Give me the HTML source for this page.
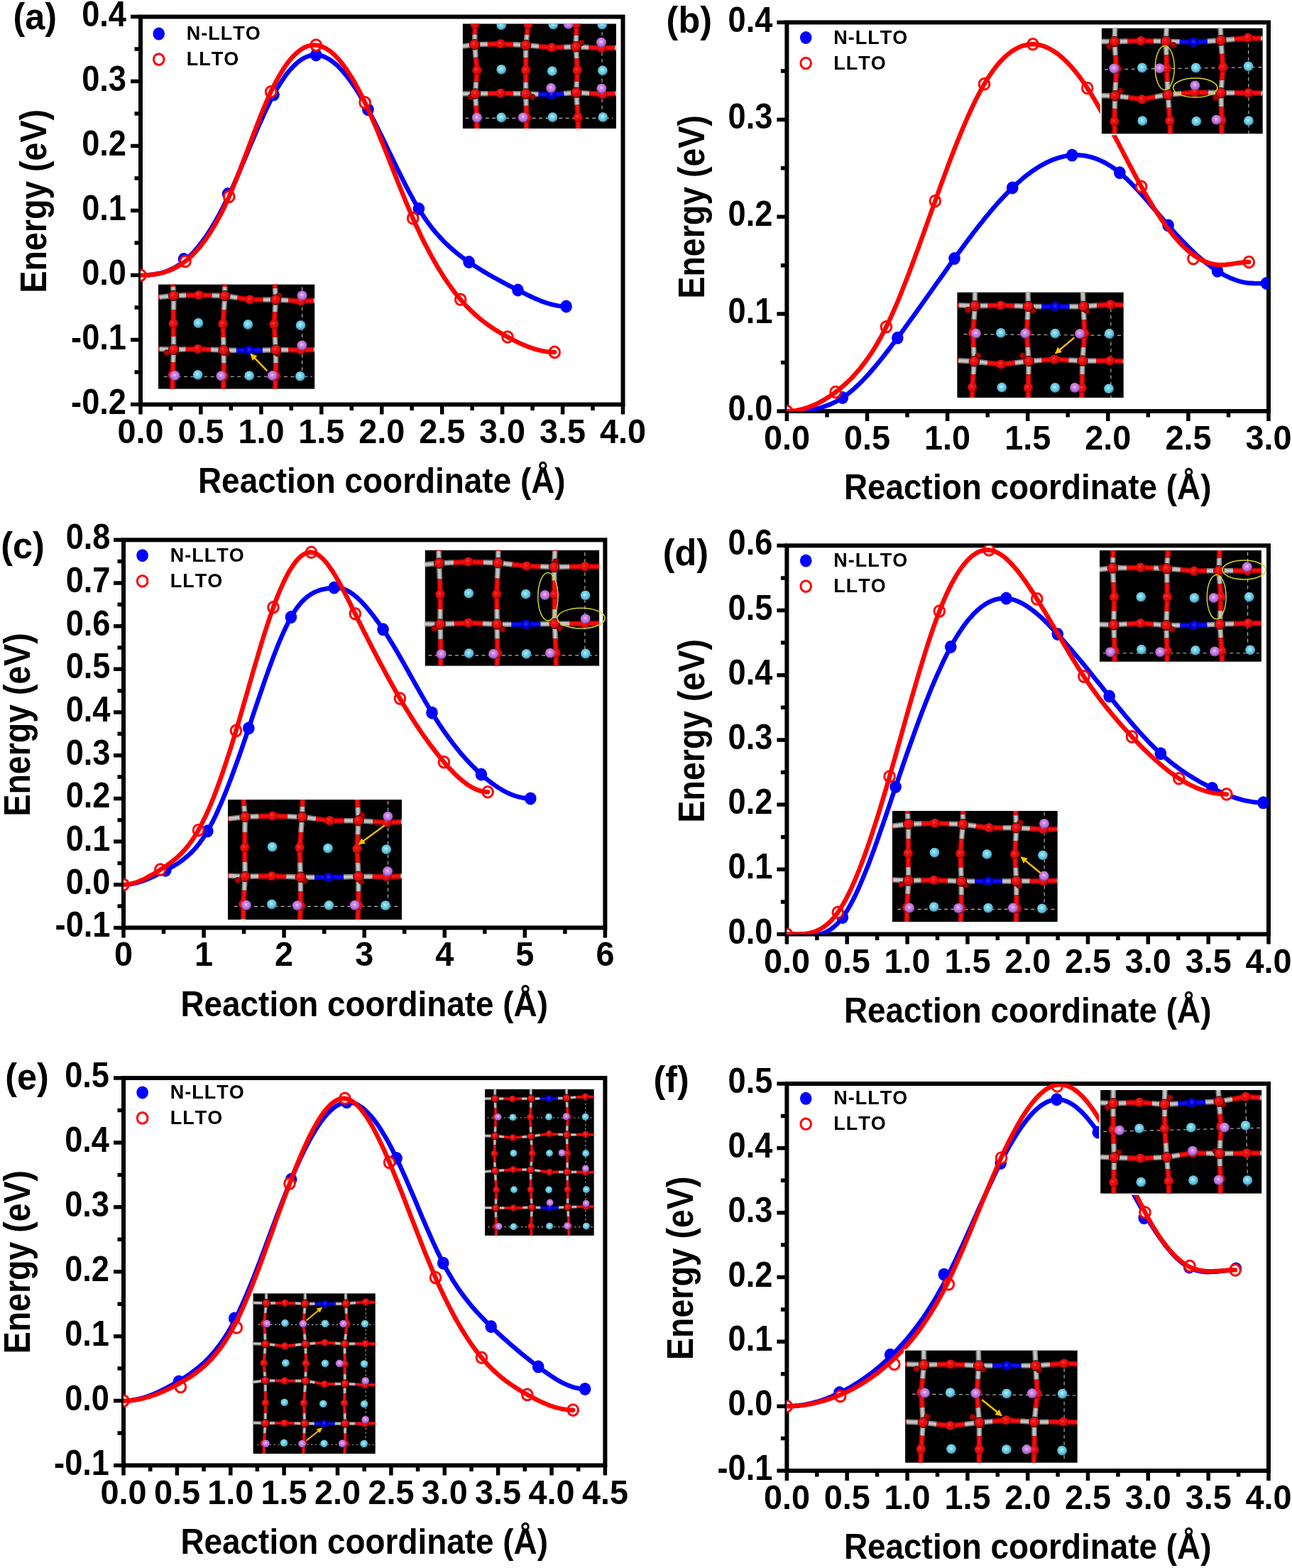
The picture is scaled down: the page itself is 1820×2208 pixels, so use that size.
<!DOCTYPE html><html><head><meta charset="utf-8"><title>Energy profiles</title><style>html,body{margin:0;padding:0;background:#fff}svg{display:block;font-family:"Liberation Sans",sans-serif;font-weight:bold}</style></head><body>
<svg width="1820" height="2208" viewBox="0 0 1820 2208" font-family="&quot;Liberation Sans&quot;, sans-serif" font-weight="bold">
<rect width="1820" height="2208" fill="#fff"/>
<defs>
<radialGradient id="gO" cx="0.42" cy="0.4" r="0.62"><stop offset="0" stop-color="#ff4a4a"/><stop offset="0.25" stop-color="#f01414"/><stop offset="0.75" stop-color="#d80808"/><stop offset="1" stop-color="#8a0000"/></radialGradient>
<radialGradient id="gX" cx="0.45" cy="0.45" r="0.6"><stop offset="0" stop-color="#c80000"/><stop offset="1" stop-color="#700000"/></radialGradient>
<radialGradient id="gLa" cx="0.45" cy="0.42" r="0.62"><stop offset="0" stop-color="#e8ffff"/><stop offset="0.18" stop-color="#8edff2"/><stop offset="0.7" stop-color="#58bcd8"/><stop offset="1" stop-color="#256a80"/></radialGradient>
<radialGradient id="gLi" cx="0.48" cy="0.42" r="0.62"><stop offset="0" stop-color="#ffe8ff"/><stop offset="0.18" stop-color="#d898ee"/><stop offset="0.7" stop-color="#b068d4"/><stop offset="1" stop-color="#5a2a78"/></radialGradient>
<radialGradient id="gN" cx="0.5" cy="0.45" r="0.6"><stop offset="0" stop-color="#3c3cff"/><stop offset="0.3" stop-color="#0808ee"/><stop offset="1" stop-color="#000090"/></radialGradient>
<filter id="bl" x="-5%" y="-5%" width="110%" height="110%"><feGaussianBlur stdDeviation="0.55"/></filter>
<marker id="ah" viewBox="0 0 10 10" refX="8.5" refY="5" markerWidth="4.2" markerHeight="3.9" orient="auto"><path d="M0,0 L10,5 L0,10 z" fill="#ffc400"/></marker>
</defs>
<g>
<text transform="translate(198.0,623.6) scale(1,1.03)" text-anchor="middle" font-size="46.8" >0.0</text>
<text transform="translate(282.9,623.6) scale(1,1.03)" text-anchor="middle" font-size="46.8" >0.5</text>
<text transform="translate(367.9,623.6) scale(1,1.03)" text-anchor="middle" font-size="46.8" >1.0</text>
<text transform="translate(452.8,623.6) scale(1,1.03)" text-anchor="middle" font-size="46.8" >1.5</text>
<text transform="translate(537.8,623.6) scale(1,1.03)" text-anchor="middle" font-size="46.8" >2.0</text>
<text transform="translate(622.7,623.6) scale(1,1.03)" text-anchor="middle" font-size="46.8" >2.5</text>
<text transform="translate(707.6,623.6) scale(1,1.03)" text-anchor="middle" font-size="46.8" >3.0</text>
<text transform="translate(792.6,623.6) scale(1,1.03)" text-anchor="middle" font-size="46.8" >3.5</text>
<text transform="translate(877.5,623.6) scale(1,1.03)" text-anchor="middle" font-size="46.8" >4.0</text>
<text transform="translate(178.0,582.6) scale(1,1.085)" text-anchor="end" font-size="45.2" >-0.2</text>
<text transform="translate(178.0,491.6) scale(1,1.085)" text-anchor="end" font-size="45.2" >-0.1</text>
<text transform="translate(178.0,400.6) scale(1,1.085)" text-anchor="end" font-size="45.2" >0.0</text>
<text transform="translate(178.0,309.6) scale(1,1.085)" text-anchor="end" font-size="45.2" >0.1</text>
<text transform="translate(178.0,218.6) scale(1,1.085)" text-anchor="end" font-size="45.2" >0.2</text>
<text transform="translate(178.0,127.6) scale(1,1.085)" text-anchor="end" font-size="45.2" >0.3</text>
<text transform="translate(178.0,36.6) scale(1,1.085)" text-anchor="end" font-size="45.2" >0.4</text>
<path d="M198.0,569.6 V583.6 M240.5,569.6 V578.1 M282.9,569.6 V583.6 M325.4,569.6 V578.1 M367.9,569.6 V583.6 M410.3,569.6 V578.1 M452.8,569.6 V583.6 M495.3,569.6 V578.1 M537.8,569.6 V583.6 M580.2,569.6 V578.1 M622.7,569.6 V583.6 M665.2,569.6 V578.1 M707.6,569.6 V583.6 M750.1,569.6 V578.1 M792.6,569.6 V583.6 M835.0,569.6 V578.1 M877.5,569.6 V583.6 M198.0,569.6 H184.0 M198.0,524.1 H189.5 M198.0,478.6 H184.0 M198.0,433.1 H189.5 M198.0,387.6 H184.0 M198.0,342.1 H189.5 M198.0,296.6 H184.0 M198.0,251.1 H189.5 M198.0,205.6 H184.0 M198.0,160.1 H189.5 M198.0,114.6 H184.0 M198.0,69.1 H189.5 M198.0,23.6 H184.0" stroke="#000" stroke-width="5.5" fill="none"/>
<rect x="198.0" y="23.6" width="679.5" height="546.0" fill="none" stroke="#000" stroke-width="6"/>
<text transform="translate(537.8,693.8) scale(1,1.08)" text-anchor="middle" font-size="45.9" >Reaction coordinate (Å)</text>
<text transform="translate(64.6,283.3) rotate(-90) scale(1,1.11)" text-anchor="middle" font-size="46.5" >Energy (eV)</text>
<text transform="translate(18.5,41.1) scale(1,1.045)" text-anchor="start" font-size="50.4" >(a)</text>
<ellipse cx="223.7" cy="47.6" rx="8.3" ry="9" fill="#0000ff"/>
<ellipse cx="223.7" cy="83.6" rx="7.3" ry="7.8" fill="#fff" stroke="#ff0000" stroke-width="3"/>
<text transform="translate(262.8,56.1) scale(1,1.05)" text-anchor="start" font-size="27" letter-spacing="1" style="font-kerning:none">N-LLTO</text>
<text transform="translate(262.8,92.1) scale(1,1.05)" text-anchor="start" font-size="27" letter-spacing="1" style="font-kerning:none">LLTO</text>
<clipPath id="cpa"><rect x="198.0" y="23.6" width="679.5" height="546.0"/></clipPath>
<g clip-path="url(#cpa)">
<ellipse cx="198.0" cy="387.6" rx="8.3" ry="9" fill="#0000ff"/>
<ellipse cx="259.0" cy="365.0" rx="8.3" ry="9" fill="#0000ff"/>
<ellipse cx="321.0" cy="273.0" rx="8.3" ry="9" fill="#0000ff"/>
<ellipse cx="385.5" cy="133.3" rx="8.3" ry="9" fill="#0000ff"/>
<ellipse cx="445.2" cy="77.4" rx="8.3" ry="9" fill="#0000ff"/>
<ellipse cx="518.4" cy="154.2" rx="8.3" ry="9" fill="#0000ff"/>
<ellipse cx="589.9" cy="294.1" rx="8.3" ry="9" fill="#0000ff"/>
<ellipse cx="660.6" cy="369.0" rx="8.3" ry="9" fill="#0000ff"/>
<ellipse cx="729.5" cy="408.5" rx="8.3" ry="9" fill="#0000ff"/>
<ellipse cx="797.6" cy="431.5" rx="8.3" ry="9" fill="#0000ff"/>
<path d="M198.0,387.6 L201.8,387.6 L205.5,387.4 L209.3,387.2 L213.1,386.8 L216.9,386.4 L220.6,385.7 L224.4,385.0 L228.2,384.0 L231.9,382.9 L235.7,381.5 L239.5,380.0 L243.3,378.2 L247.0,376.2 L250.8,373.9 L254.6,371.4 L258.3,368.5 L259.0,368.0 L262.1,365.4 L265.9,362.0 L269.7,358.3 L273.4,354.3 L277.2,349.9 L281.0,345.3 L284.7,340.4 L288.5,335.2 L292.3,329.7 L296.0,323.9 L299.8,317.8 L303.6,311.4 L307.4,304.7 L311.1,297.7 L314.9,290.4 L318.7,282.8 L321.0,278.0 L322.4,274.9 L326.2,266.8 L330.0,258.4 L333.8,249.7 L337.5,241.0 L341.3,232.1 L345.1,223.1 L348.8,214.1 L352.6,205.1 L356.4,196.2 L360.2,187.3 L363.9,178.6 L367.7,170.1 L371.5,161.7 L375.2,153.7 L379.0,145.9 L382.8,138.4 L385.5,133.3 L386.6,131.4 L390.3,124.7 L394.1,118.5 L397.9,112.7 L401.6,107.3 L405.4,102.3 L409.2,97.8 L413.0,93.7 L416.7,90.1 L420.5,86.9 L424.3,84.1 L428.0,81.9 L431.8,80.0 L435.6,78.7 L439.3,77.8 L443.1,77.4 L445.2,77.4 L446.9,77.5 L450.7,78.1 L454.4,79.1 L458.2,80.6 L462.0,82.5 L465.7,84.8 L469.5,87.6 L473.3,90.7 L477.1,94.2 L480.8,98.1 L484.6,102.4 L488.4,107.0 L492.1,111.9 L495.9,117.1 L499.7,122.7 L503.5,128.5 L507.2,134.6 L511.0,141.0 L514.8,147.6 L518.4,154.2 L518.5,154.5 L522.3,161.5 L526.1,168.8 L529.9,176.2 L533.6,183.8 L537.4,191.4 L541.2,199.2 L544.9,207.0 L548.7,214.8 L552.5,222.6 L556.3,230.4 L560.0,238.2 L563.8,245.8 L567.6,253.3 L571.3,260.7 L575.1,268.0 L578.9,275.0 L582.6,281.8 L586.4,288.3 L589.9,294.1 L590.2,294.6 L594.0,300.5 L597.7,306.2 L601.5,311.6 L605.3,316.7 L609.0,321.6 L612.8,326.2 L616.6,330.6 L620.4,334.7 L624.1,338.7 L627.9,342.5 L631.7,346.1 L635.4,349.5 L639.2,352.8 L643.0,355.9 L646.8,358.9 L650.5,361.8 L654.3,364.6 L658.1,367.2 L660.6,369.0 L661.8,369.9 L665.6,372.4 L669.4,374.9 L673.2,377.3 L676.9,379.6 L680.7,381.9 L684.5,384.2 L688.2,386.4 L692.0,388.6 L695.8,390.7 L699.6,392.8 L703.3,394.8 L707.1,396.9 L710.9,398.9 L714.6,400.8 L718.4,402.8 L722.2,404.7 L725.9,406.7 L729.5,408.5 L729.7,408.6 L733.5,410.5 L737.3,412.4 L741.0,414.3 L744.8,416.2 L748.6,418.0 L752.3,419.7 L756.1,421.3 L759.9,422.9 L763.7,424.4 L767.4,425.8 L771.2,427.0 L775.0,428.1 L778.7,429.1 L782.5,429.9 L786.3,430.6 L790.1,431.1 L793.8,431.4 L797.6,431.5" stroke="#0000ff" stroke-width="6.4" fill="none" stroke-linejoin="round" stroke-linecap="round"/>
<ellipse cx="198.0" cy="387.6" rx="7.3" ry="7.8" fill="#fff" stroke="#ff0000" stroke-width="3"/>
<ellipse cx="261.0" cy="368.0" rx="7.3" ry="7.8" fill="#fff" stroke="#ff0000" stroke-width="3"/>
<ellipse cx="322.7" cy="276.9" rx="7.3" ry="7.8" fill="#fff" stroke="#ff0000" stroke-width="3"/>
<ellipse cx="381.6" cy="129.3" rx="7.3" ry="7.8" fill="#fff" stroke="#ff0000" stroke-width="3"/>
<ellipse cx="445.2" cy="63.6" rx="7.3" ry="7.8" fill="#fff" stroke="#ff0000" stroke-width="3"/>
<ellipse cx="514.1" cy="144.4" rx="7.3" ry="7.8" fill="#fff" stroke="#ff0000" stroke-width="3"/>
<ellipse cx="581.7" cy="307.4" rx="7.3" ry="7.8" fill="#fff" stroke="#ff0000" stroke-width="3"/>
<ellipse cx="648.7" cy="421.7" rx="7.3" ry="7.8" fill="#fff" stroke="#ff0000" stroke-width="3"/>
<ellipse cx="715.0" cy="474.5" rx="7.3" ry="7.8" fill="#fff" stroke="#ff0000" stroke-width="3"/>
<ellipse cx="781.2" cy="495.9" rx="7.3" ry="7.8" fill="#fff" stroke="#ff0000" stroke-width="3"/>
<path d="M198.0,387.6 L201.7,387.6 L205.3,387.5 L209.0,387.2 L212.7,386.9 L216.3,386.5 L220.0,386.0 L223.7,385.3 L227.3,384.5 L231.0,383.5 L234.7,382.3 L238.3,381.0 L242.0,379.5 L245.7,377.7 L249.4,375.8 L253.0,373.6 L256.7,371.2 L260.4,368.5 L261.0,368.0 L264.0,365.6 L267.7,362.4 L271.4,358.9 L275.0,355.1 L278.7,351.1 L282.4,346.7 L286.0,342.0 L289.7,337.0 L293.4,331.7 L297.0,326.1 L300.7,320.1 L304.4,313.8 L308.0,307.2 L311.7,300.2 L315.4,292.8 L319.0,285.0 L322.7,276.9 L322.7,276.9 L326.4,268.4 L330.0,259.5 L333.7,250.4 L337.4,241.0 L341.0,231.5 L344.7,221.8 L348.4,212.1 L352.1,202.3 L355.7,192.6 L359.4,182.9 L363.1,173.4 L366.7,164.1 L370.4,155.0 L374.1,146.2 L377.7,137.8 L381.4,129.7 L381.6,129.3 L385.1,122.1 L388.7,115.0 L392.4,108.3 L396.1,102.1 L399.7,96.3 L403.4,91.0 L407.1,86.1 L410.7,81.7 L414.4,77.8 L418.1,74.4 L421.7,71.4 L425.4,68.9 L429.1,66.8 L432.7,65.3 L436.4,64.2 L440.1,63.6 L443.8,63.5 L445.2,63.6 L447.4,63.9 L451.1,64.7 L454.8,66.0 L458.4,67.8 L462.1,70.1 L465.8,72.7 L469.4,75.8 L473.1,79.3 L476.8,83.3 L480.4,87.6 L484.1,92.3 L487.8,97.4 L491.4,102.9 L495.1,108.7 L498.8,114.9 L502.4,121.5 L506.1,128.3 L509.8,135.5 L513.4,143.0 L514.1,144.4 L517.1,150.8 L520.8,158.9 L524.4,167.2 L528.1,175.8 L531.8,184.5 L535.4,193.5 L539.1,202.5 L542.8,211.6 L546.5,220.9 L550.1,230.1 L553.8,239.4 L557.5,248.7 L561.1,257.9 L564.8,267.0 L568.5,276.1 L572.1,285.0 L575.8,293.7 L579.5,302.3 L581.7,307.4 L583.1,310.6 L586.8,318.7 L590.5,326.6 L594.1,334.3 L597.8,341.7 L601.5,348.8 L605.1,355.8 L608.8,362.5 L612.5,369.0 L616.1,375.3 L619.8,381.4 L623.5,387.2 L627.1,392.9 L630.8,398.3 L634.5,403.5 L638.2,408.5 L641.8,413.3 L645.5,417.9 L648.7,421.7 L649.2,422.2 L652.8,426.4 L656.5,430.4 L660.2,434.2 L663.8,437.8 L667.5,441.2 L671.2,444.5 L674.8,447.7 L678.5,450.7 L682.2,453.5 L685.8,456.3 L689.5,458.9 L693.2,461.4 L696.8,463.8 L700.5,466.1 L704.2,468.3 L707.8,470.5 L711.5,472.6 L715.0,474.5 L715.2,474.6 L718.8,476.6 L722.5,478.5 L726.2,480.3 L729.8,482.1 L733.5,483.8 L737.2,485.5 L740.9,487.0 L744.5,488.4 L748.2,489.8 L751.9,491.0 L755.5,492.1 L759.2,493.0 L762.9,493.9 L766.5,494.6 L770.2,495.2 L773.9,495.6 L777.5,495.8 L781.2,495.9" stroke="#ff0000" stroke-width="6.4" fill="none" stroke-linejoin="round" stroke-linecap="round"/>
</g>
<clipPath id="cia1"><rect x="651.9" y="33.5" width="216.1" height="147.5"/></clipPath>
<rect x="651.4" y="33.0" width="217.1" height="148.5" fill="#000" stroke="#fff" stroke-width="3"/>
<rect x="651.9" y="33.5" width="216.1" height="147.5" fill="#000"/>
<g clip-path="url(#cia1)"><g filter="url(#bl)">
<path d="M655.6,166.4 L863.6,166.4 M848.1,35.9 L848.1,166.4" stroke="#b8b8b8" stroke-width="1.15" stroke-dasharray="5 4.4" fill="none"/>
<path d="M668.6,62.7 L686.9,62.2 M740.7,63.5 L723.0,62.6 M740.7,63.5 L759.1,65.3 M811.3,65.8 L794.4,66.4 M811.3,65.8 L829.5,66.8 M883.5,67.1 L865.6,67.4 M669.5,132.0 L687.4,131.7 M740.7,132.0 L723.0,131.7 M811.7,130.3 L830.3,131.5 M883.5,130.7 L866.3,131.7 M668.6,62.7 L670.2,80.8 M669.5,132.0 L670.7,115.4 M740.7,63.5 L740.7,81.2 M740.7,132.0 L740.7,115.4 M811.3,65.8 L812.3,82.3 M811.7,130.3 L812.5,114.6 M668.6,62.7 L668.9,48.3 M740.7,63.5 L742.4,48.7 M811.3,65.8 L811.7,49.5 M669.5,132.0 L670.6,148.9 M672.2,200.2 L671.9,183.0 M740.7,132.0 L741.2,148.9 M740.7,200.2 L741.2,183.0 M811.7,130.3 L813.0,147.7 M814.3,200.2 L814.3,182.7 M740.7,132.0 L758.7,132.7 M811.7,130.3 L794.2,131.8 M668.6,62.7 L650.8,65.2 M669.5,132.0 L651.3,132.0" stroke="#7c7c7c" stroke-width="7.60" fill="none"/>
<path d="M668.6,62.7 L686.9,62.2 M740.7,63.5 L723.0,62.6 M740.7,63.5 L759.1,65.3 M811.3,65.8 L794.4,66.4 M811.3,65.8 L829.5,66.8 M883.5,67.1 L865.6,67.4 M669.5,132.0 L687.4,131.7 M740.7,132.0 L723.0,131.7 M811.7,130.3 L830.3,131.5 M883.5,130.7 L866.3,131.7 M668.6,62.7 L670.2,80.8 M669.5,132.0 L670.7,115.4 M740.7,63.5 L740.7,81.2 M740.7,132.0 L740.7,115.4 M811.3,65.8 L812.3,82.3 M811.7,130.3 L812.5,114.6 M668.6,62.7 L668.9,48.3 M740.7,63.5 L742.4,48.7 M811.3,65.8 L811.7,49.5 M669.5,132.0 L670.6,148.9 M672.2,200.2 L671.9,183.0 M740.7,132.0 L741.2,148.9 M740.7,200.2 L741.2,183.0 M811.7,130.3 L813.0,147.7 M814.3,200.2 L814.3,182.7 M740.7,132.0 L758.7,132.7 M811.7,130.3 L794.2,131.8 M668.6,62.7 L650.8,65.2 M669.5,132.0 L651.3,132.0" stroke="#c4c4c4" stroke-width="4.18" fill="none"/>
<path d="M686.9,62.2 L705.3,61.8 M723.0,62.6 L705.3,61.8 M759.1,65.3 L777.5,67.1 M794.4,66.4 L777.5,67.1 M829.5,66.8 L847.7,67.7 M865.6,67.4 L847.7,67.7 M687.4,131.7 L705.3,131.3 M723.0,131.7 L705.3,131.3 M830.3,131.5 L849.0,132.7 M866.3,131.7 L849.0,132.7 M670.2,80.8 L671.9,98.9 M670.7,115.4 L671.9,98.9 M740.7,81.2 L740.7,98.9 M740.7,115.4 L740.7,98.9 M812.3,82.3 L813.3,98.9 M812.5,114.6 L813.3,98.9 M668.9,48.3 L669.2,34.0 M742.4,48.7 L744.1,34.0 M811.7,49.5 L812.2,33.3 M670.6,148.9 L671.6,165.8 M671.9,183.0 L671.6,165.8 M741.2,148.9 L741.7,165.8 M741.2,183.0 L741.7,165.8 M813.0,147.7 L814.3,165.1 M814.3,182.7 L814.3,165.1 M650.8,65.2 L633.1,67.7 M651.3,132.0 L633.1,132.0" stroke="#b80000" stroke-width="7.60" fill="none"/>
<path d="M686.9,62.2 L705.3,61.8 M723.0,62.6 L705.3,61.8 M759.1,65.3 L777.5,67.1 M794.4,66.4 L777.5,67.1 M829.5,66.8 L847.7,67.7 M865.6,67.4 L847.7,67.7 M687.4,131.7 L705.3,131.3 M723.0,131.7 L705.3,131.3 M830.3,131.5 L849.0,132.7 M866.3,131.7 L849.0,132.7 M670.2,80.8 L671.9,98.9 M670.7,115.4 L671.9,98.9 M740.7,81.2 L740.7,98.9 M740.7,115.4 L740.7,98.9 M812.3,82.3 L813.3,98.9 M812.5,114.6 L813.3,98.9 M668.9,48.3 L669.2,34.0 M742.4,48.7 L744.1,34.0 M811.7,49.5 L812.2,33.3 M670.6,148.9 L671.6,165.8 M671.9,183.0 L671.6,165.8 M741.2,148.9 L741.7,165.8 M741.2,183.0 L741.7,165.8 M813.0,147.7 L814.3,165.1 M814.3,182.7 L814.3,165.1 M650.8,65.2 L633.1,67.7 M651.3,132.0 L633.1,132.0" stroke="#f80c0c" stroke-width="4.18" fill="none"/>
<path d="M758.7,132.7 L776.8,133.3 M794.2,131.8 L776.8,133.3" stroke="#0000b4" stroke-width="7.60" fill="none"/>
<path d="M758.7,132.7 L776.8,133.3 M794.2,131.8 L776.8,133.3" stroke="#0c0cf8" stroke-width="4.18" fill="none"/>
<circle cx="818.6" cy="60.5" r="4.60" fill="url(#gX)"/>
<circle cx="663.5" cy="136.6" r="4.60" fill="url(#gX)"/>
<circle cx="749.7" cy="136.6" r="4.60" fill="url(#gX)"/>
<circle cx="705.3" cy="61.8" r="6.60" fill="url(#gO)"/>
<circle cx="777.5" cy="67.1" r="6.60" fill="url(#gO)"/>
<circle cx="847.7" cy="67.7" r="6.60" fill="url(#gO)"/>
<circle cx="705.3" cy="131.3" r="6.60" fill="url(#gO)"/>
<circle cx="849.0" cy="132.7" r="6.60" fill="url(#gO)"/>
<circle cx="671.9" cy="98.9" r="6.60" fill="url(#gO)"/>
<circle cx="740.7" cy="98.9" r="6.60" fill="url(#gO)"/>
<circle cx="813.3" cy="98.9" r="6.60" fill="url(#gO)"/>
<circle cx="669.2" cy="34.0" r="6.60" fill="url(#gO)"/>
<circle cx="744.1" cy="34.0" r="6.60" fill="url(#gO)"/>
<circle cx="812.2" cy="33.3" r="6.60" fill="url(#gO)"/>
<circle cx="671.6" cy="165.8" r="6.60" fill="url(#gO)"/>
<circle cx="741.7" cy="165.8" r="6.60" fill="url(#gO)"/>
<circle cx="814.3" cy="165.1" r="6.60" fill="url(#gO)"/>
<circle cx="668.6" cy="62.7" r="7.30" fill="url(#gO)" stroke="#200000" stroke-width="0.9"/>
<circle cx="740.7" cy="63.5" r="7.30" fill="url(#gO)" stroke="#200000" stroke-width="0.9"/>
<circle cx="811.3" cy="65.8" r="7.30" fill="url(#gO)" stroke="#200000" stroke-width="0.9"/>
<circle cx="669.5" cy="132.0" r="7.30" fill="url(#gO)" stroke="#200000" stroke-width="0.9"/>
<circle cx="740.7" cy="132.0" r="7.30" fill="url(#gO)" stroke="#200000" stroke-width="0.9"/>
<circle cx="811.7" cy="130.3" r="7.30" fill="url(#gO)" stroke="#200000" stroke-width="0.9"/>
<circle cx="776.8" cy="133.3" r="6.90" fill="url(#gN)"/>
<circle cx="706.3" cy="35.3" r="6.90" fill="url(#gLa)"/>
<circle cx="779.5" cy="34.6" r="6.90" fill="url(#gLa)"/>
<circle cx="848.4" cy="34.6" r="6.90" fill="url(#gLa)"/>
<circle cx="706.3" cy="97.8" r="6.90" fill="url(#gLa)"/>
<circle cx="777.9" cy="100.2" r="6.90" fill="url(#gLa)"/>
<circle cx="849.0" cy="99.3" r="6.90" fill="url(#gLa)"/>
<circle cx="706.3" cy="165.5" r="6.90" fill="url(#gLa)"/>
<circle cx="778.5" cy="165.1" r="6.90" fill="url(#gLa)"/>
<circle cx="849.4" cy="165.1" r="6.90" fill="url(#gLa)"/>
<circle cx="800.7" cy="34.0" r="7.00" fill="url(#gLi)"/>
<circle cx="847.0" cy="59.8" r="7.00" fill="url(#gLi)"/>
<circle cx="776.2" cy="124.1" r="7.00" fill="url(#gLi)"/>
<circle cx="847.4" cy="124.7" r="7.00" fill="url(#gLi)"/>
<circle cx="671.9" cy="165.8" r="7.00" fill="url(#gLi)"/>
<circle cx="736.8" cy="165.5" r="7.00" fill="url(#gLi)"/>
</g></g>
<clipPath id="cia2"><rect x="223.0" y="400.6" width="220.2" height="147.0"/></clipPath>
<rect x="222.5" y="400.1" width="221.2" height="148.0" fill="#000" stroke="#fff" stroke-width="3"/>
<rect x="223.0" y="400.6" width="220.2" height="147.0" fill="#000"/>
<g clip-path="url(#cia2)"><g filter="url(#bl)">
<path d="M230.8,530.5 L439.7,530.5 M425.6,404.4 L425.6,530.5" stroke="#b8b8b8" stroke-width="1.15" stroke-dasharray="5 4.4" fill="none"/>
<path d="M244.7,416.3 L262.4,415.9 M316.8,416.6 L298.4,416.0 M316.8,416.6 L334.5,419.3 M388.5,422.0 L370.3,422.0 M388.5,422.0 L406.4,423.0 M458.6,422.6 L441.4,423.3 M244.7,492.3 L261.7,491.8 M315.1,493.1 L296.9,492.3 M388.5,492.7 L406.4,492.7 M458.6,491.8 L441.4,492.3 M244.7,416.3 L244.5,436.0 M244.7,492.3 L244.5,474.0 M316.8,416.6 L315.5,436.2 M315.1,493.1 L314.6,474.5 M388.5,422.0 L387.3,439.3 M388.5,492.7 L387.3,474.7 M244.7,416.3 L243.8,403.6 M316.8,416.6 L316.6,403.8 M388.5,422.0 L387.5,405.8 M244.7,492.3 L243.9,510.0 M243.0,570.2 L243.0,549.0 M315.1,493.1 L315.2,511.5 M313.7,570.2 L314.5,550.0 M388.5,492.7 L388.5,510.9 M386.5,570.2 L387.4,549.7 M315.1,493.1 L332.9,493.3 M388.5,492.7 L369.7,493.1 M244.7,416.3 L224.3,418.5 M244.7,492.3 L224.3,491.5" stroke="#7c7c7c" stroke-width="7.60" fill="none"/>
<path d="M244.7,416.3 L262.4,415.9 M316.8,416.6 L298.4,416.0 M316.8,416.6 L334.5,419.3 M388.5,422.0 L370.3,422.0 M388.5,422.0 L406.4,423.0 M458.6,422.6 L441.4,423.3 M244.7,492.3 L261.7,491.8 M315.1,493.1 L296.9,492.3 M388.5,492.7 L406.4,492.7 M458.6,491.8 L441.4,492.3 M244.7,416.3 L244.5,436.0 M244.7,492.3 L244.5,474.0 M316.8,416.6 L315.5,436.2 M315.1,493.1 L314.6,474.5 M388.5,422.0 L387.3,439.3 M388.5,492.7 L387.3,474.7 M244.7,416.3 L243.8,403.6 M316.8,416.6 L316.6,403.8 M388.5,422.0 L387.5,405.8 M244.7,492.3 L243.9,510.0 M243.0,570.2 L243.0,549.0 M315.1,493.1 L315.2,511.5 M313.7,570.2 L314.5,550.0 M388.5,492.7 L388.5,510.9 M386.5,570.2 L387.4,549.7 M315.1,493.1 L332.9,493.3 M388.5,492.7 L369.7,493.1 M244.7,416.3 L224.3,418.5 M244.7,492.3 L224.3,491.5" stroke="#c4c4c4" stroke-width="4.18" fill="none"/>
<path d="M262.4,415.9 L280.0,415.5 M298.4,416.0 L280.0,415.5 M334.5,419.3 L352.1,422.0 M370.3,422.0 L352.1,422.0 M406.4,423.0 L424.2,424.0 M441.4,423.3 L424.2,424.0 M261.7,491.8 L278.7,491.4 M296.9,492.3 L278.7,491.4 M406.4,492.7 L424.2,492.7 M441.4,492.3 L424.2,492.7 M244.5,436.0 L244.3,455.7 M244.5,474.0 L244.3,455.7 M315.5,436.2 L314.1,455.9 M314.6,474.5 L314.1,455.9 M387.3,439.3 L386.1,456.7 M387.3,474.7 L386.1,456.7 M243.8,403.6 L243.0,391.0 M316.6,403.8 L316.4,391.0 M387.5,405.8 L386.5,389.6 M243.9,510.0 L243.1,527.8 M243.0,549.0 L243.1,527.8 M315.2,511.5 L315.2,529.8 M314.5,550.0 L315.2,529.8 M388.5,510.9 L388.4,529.1 M387.4,549.7 L388.4,529.1 M224.3,418.5 L203.9,420.6 M224.3,491.5 L203.9,490.7" stroke="#b80000" stroke-width="7.60" fill="none"/>
<path d="M262.4,415.9 L280.0,415.5 M298.4,416.0 L280.0,415.5 M334.5,419.3 L352.1,422.0 M370.3,422.0 L352.1,422.0 M406.4,423.0 L424.2,424.0 M441.4,423.3 L424.2,424.0 M261.7,491.8 L278.7,491.4 M296.9,492.3 L278.7,491.4 M406.4,492.7 L424.2,492.7 M441.4,492.3 L424.2,492.7 M244.5,436.0 L244.3,455.7 M244.5,474.0 L244.3,455.7 M315.5,436.2 L314.1,455.9 M314.6,474.5 L314.1,455.9 M387.3,439.3 L386.1,456.7 M387.3,474.7 L386.1,456.7 M243.8,403.6 L243.0,391.0 M316.6,403.8 L316.4,391.0 M387.5,405.8 L386.5,389.6 M243.9,510.0 L243.1,527.8 M243.0,549.0 L243.1,527.8 M315.2,511.5 L315.2,529.8 M314.5,550.0 L315.2,529.8 M388.5,510.9 L388.4,529.1 M387.4,549.7 L388.4,529.1 M224.3,418.5 L203.9,420.6 M224.3,491.5 L203.9,490.7" stroke="#f80c0c" stroke-width="4.18" fill="none"/>
<path d="M332.9,493.3 L350.8,493.4 M369.7,493.1 L350.8,493.4" stroke="#0000b4" stroke-width="7.60" fill="none"/>
<path d="M332.9,493.3 L350.8,493.4 M369.7,493.1 L350.8,493.4" stroke="#0c0cf8" stroke-width="4.18" fill="none"/>
<circle cx="393.2" cy="416.6" r="4.60" fill="url(#gX)"/>
<circle cx="234.9" cy="496.8" r="4.60" fill="url(#gX)"/>
<circle cx="319.8" cy="497.4" r="4.60" fill="url(#gX)"/>
<circle cx="391.2" cy="498.1" r="4.60" fill="url(#gX)"/>
<circle cx="280.0" cy="415.5" r="6.60" fill="url(#gO)"/>
<circle cx="352.1" cy="422.0" r="6.60" fill="url(#gO)"/>
<circle cx="424.2" cy="424.0" r="6.60" fill="url(#gO)"/>
<circle cx="278.7" cy="491.4" r="6.60" fill="url(#gO)"/>
<circle cx="424.2" cy="492.7" r="6.60" fill="url(#gO)"/>
<circle cx="244.3" cy="455.7" r="6.60" fill="url(#gO)"/>
<circle cx="314.1" cy="455.9" r="6.60" fill="url(#gO)"/>
<circle cx="386.1" cy="456.7" r="6.60" fill="url(#gO)"/>
<circle cx="243.0" cy="391.0" r="6.60" fill="url(#gO)"/>
<circle cx="316.4" cy="391.0" r="6.60" fill="url(#gO)"/>
<circle cx="386.5" cy="389.6" r="6.60" fill="url(#gO)"/>
<circle cx="243.1" cy="527.8" r="6.60" fill="url(#gO)"/>
<circle cx="315.2" cy="529.8" r="6.60" fill="url(#gO)"/>
<circle cx="388.4" cy="529.1" r="6.60" fill="url(#gO)"/>
<circle cx="244.7" cy="416.3" r="7.30" fill="url(#gO)" stroke="#200000" stroke-width="0.9"/>
<circle cx="316.8" cy="416.6" r="7.30" fill="url(#gO)" stroke="#200000" stroke-width="0.9"/>
<circle cx="388.5" cy="422.0" r="7.30" fill="url(#gO)" stroke="#200000" stroke-width="0.9"/>
<circle cx="244.7" cy="492.3" r="7.30" fill="url(#gO)" stroke="#200000" stroke-width="0.9"/>
<circle cx="315.1" cy="493.1" r="7.30" fill="url(#gO)" stroke="#200000" stroke-width="0.9"/>
<circle cx="388.5" cy="492.7" r="7.30" fill="url(#gO)" stroke="#200000" stroke-width="0.9"/>
<circle cx="350.8" cy="493.4" r="6.90" fill="url(#gN)"/>
<circle cx="279.4" cy="455.0" r="6.90" fill="url(#gLa)"/>
<circle cx="349.4" cy="457.0" r="6.90" fill="url(#gLa)"/>
<circle cx="423.6" cy="458.1" r="6.90" fill="url(#gLa)"/>
<circle cx="278.7" cy="527.8" r="6.90" fill="url(#gLa)"/>
<circle cx="351.2" cy="529.1" r="6.90" fill="url(#gLa)"/>
<circle cx="422.9" cy="529.8" r="6.90" fill="url(#gLa)"/>
<circle cx="425.6" cy="416.3" r="7.00" fill="url(#gLi)"/>
<circle cx="425.3" cy="486.4" r="7.00" fill="url(#gLi)"/>
<circle cx="246.3" cy="529.1" r="7.00" fill="url(#gLi)"/>
<circle cx="311.4" cy="529.4" r="7.00" fill="url(#gLi)"/>
<circle cx="383.8" cy="529.1" r="7.00" fill="url(#gLi)"/>
</g></g>
<path d="M376.4,522.4 L353.5,498.8" stroke="#ffc400" stroke-width="2.40" fill="none" marker-end="url(#ah)"/>
</g>
<g>
<text transform="translate(1108.4,633.0) scale(1,1.03)" text-anchor="middle" font-size="46.8" >0.0</text>
<text transform="translate(1221.5,633.0) scale(1,1.03)" text-anchor="middle" font-size="46.8" >0.5</text>
<text transform="translate(1334.6,633.0) scale(1,1.03)" text-anchor="middle" font-size="46.8" >1.0</text>
<text transform="translate(1447.7,633.0) scale(1,1.03)" text-anchor="middle" font-size="46.8" >1.5</text>
<text transform="translate(1560.8,633.0) scale(1,1.03)" text-anchor="middle" font-size="46.8" >2.0</text>
<text transform="translate(1673.9,633.0) scale(1,1.03)" text-anchor="middle" font-size="46.8" >2.5</text>
<text transform="translate(1787.0,633.0) scale(1,1.03)" text-anchor="middle" font-size="46.8" >3.0</text>
<text transform="translate(1088.4,592.0) scale(1,1.085)" text-anchor="end" font-size="45.2" >0.0</text>
<text transform="translate(1088.4,455.1) scale(1,1.085)" text-anchor="end" font-size="45.2" >0.1</text>
<text transform="translate(1088.4,318.2) scale(1,1.085)" text-anchor="end" font-size="45.2" >0.2</text>
<text transform="translate(1088.4,181.4) scale(1,1.085)" text-anchor="end" font-size="45.2" >0.3</text>
<text transform="translate(1088.4,44.5) scale(1,1.085)" text-anchor="end" font-size="45.2" >0.4</text>
<path d="M1108.4,579.0 V593.0 M1165.0,579.0 V587.5 M1221.5,579.0 V593.0 M1278.0,579.0 V587.5 M1334.6,579.0 V593.0 M1391.2,579.0 V587.5 M1447.7,579.0 V593.0 M1504.2,579.0 V587.5 M1560.8,579.0 V593.0 M1617.3,579.0 V587.5 M1673.9,579.0 V593.0 M1730.5,579.0 V587.5 M1787.0,579.0 V593.0 M1108.4,579.0 H1094.4 M1108.4,510.6 H1099.9 M1108.4,442.1 H1094.4 M1108.4,373.7 H1099.9 M1108.4,305.2 H1094.4 M1108.4,236.8 H1099.9 M1108.4,168.4 H1094.4 M1108.4,99.9 H1099.9 M1108.4,31.5 H1094.4" stroke="#000" stroke-width="5.5" fill="none"/>
<rect x="1108.4" y="31.5" width="678.6" height="547.5" fill="none" stroke="#000" stroke-width="6"/>
<text transform="translate(1447.7,703.2) scale(1,1.08)" text-anchor="middle" font-size="45.9" >Reaction coordinate (Å)</text>
<text transform="translate(991.5,291.4) rotate(-90) scale(1,1.11)" text-anchor="middle" font-size="46.5" >Energy (eV)</text>
<text transform="translate(938.6,46.4) scale(1,1.045)" text-anchor="start" font-size="50.4" >(b)</text>
<ellipse cx="1135.2" cy="53.0" rx="8.3" ry="9" fill="#0000ff"/>
<ellipse cx="1135.2" cy="89.0" rx="7.3" ry="7.8" fill="#fff" stroke="#ff0000" stroke-width="3"/>
<text transform="translate(1174.3,61.5) scale(1,1.05)" text-anchor="start" font-size="27" letter-spacing="1" style="font-kerning:none">N-LLTO</text>
<text transform="translate(1174.3,97.5) scale(1,1.05)" text-anchor="start" font-size="27" letter-spacing="1" style="font-kerning:none">LLTO</text>
<clipPath id="cpb"><rect x="1108.4" y="31.5" width="678.6" height="547.5"/></clipPath>
<g clip-path="url(#cpb)">
<ellipse cx="1108.4" cy="579.0" rx="8.3" ry="9" fill="#0000ff"/>
<ellipse cx="1186.9" cy="560.0" rx="8.3" ry="9" fill="#0000ff"/>
<ellipse cx="1264.3" cy="475.8" rx="8.3" ry="9" fill="#0000ff"/>
<ellipse cx="1344.5" cy="364.0" rx="8.3" ry="9" fill="#0000ff"/>
<ellipse cx="1426.2" cy="264.4" rx="8.3" ry="9" fill="#0000ff"/>
<ellipse cx="1510.2" cy="218.6" rx="8.3" ry="9" fill="#0000ff"/>
<ellipse cx="1577.3" cy="243.2" rx="8.3" ry="9" fill="#0000ff"/>
<ellipse cx="1645.6" cy="317.4" rx="8.3" ry="9" fill="#0000ff"/>
<ellipse cx="1715.0" cy="381.7" rx="8.3" ry="9" fill="#0000ff"/>
<ellipse cx="1784.0" cy="399.0" rx="8.3" ry="9" fill="#0000ff"/>
<path d="M1108.4,579.0 L1112.6,579.0 L1116.9,578.9 L1121.1,578.8 L1125.4,578.6 L1129.6,578.4 L1133.9,578.0 L1138.1,577.5 L1142.4,576.9 L1146.6,576.2 L1150.9,575.3 L1155.1,574.3 L1159.4,573.1 L1163.6,571.6 L1167.9,570.0 L1172.1,568.2 L1176.4,566.2 L1180.6,563.9 L1184.9,561.3 L1186.9,560.0 L1189.1,558.5 L1193.4,555.4 L1197.6,552.1 L1201.9,548.5 L1206.1,544.6 L1210.4,540.6 L1214.6,536.4 L1218.9,531.9 L1223.1,527.3 L1227.4,522.5 L1231.6,517.6 L1235.9,512.5 L1240.1,507.3 L1244.4,502.0 L1248.6,496.5 L1252.9,491.0 L1257.1,485.4 L1261.4,479.7 L1264.3,475.8 L1265.6,474.0 L1269.9,468.3 L1274.1,462.4 L1278.4,456.6 L1282.6,450.7 L1286.9,444.8 L1291.1,438.9 L1295.4,432.9 L1299.6,427.0 L1303.9,421.0 L1308.1,415.0 L1312.4,409.0 L1316.6,403.0 L1320.9,397.0 L1325.1,391.1 L1329.4,385.1 L1333.6,379.2 L1337.8,373.2 L1342.1,367.3 L1344.5,364.0 L1346.3,361.4 L1350.6,355.6 L1354.8,349.8 L1359.1,344.1 L1363.3,338.4 L1367.6,332.7 L1371.8,327.1 L1376.1,321.6 L1380.3,316.2 L1384.6,310.9 L1388.8,305.6 L1393.1,300.5 L1397.3,295.4 L1401.6,290.5 L1405.8,285.7 L1410.1,281.0 L1414.3,276.4 L1418.6,272.0 L1422.8,267.7 L1426.2,264.4 L1427.1,263.6 L1431.3,259.6 L1435.6,255.8 L1439.8,252.1 L1444.1,248.6 L1448.3,245.3 L1452.6,242.2 L1456.8,239.2 L1461.1,236.4 L1465.3,233.8 L1469.6,231.4 L1473.8,229.2 L1478.1,227.1 L1482.3,225.3 L1486.6,223.7 L1490.8,222.3 L1495.1,221.1 L1499.3,220.1 L1503.6,219.4 L1507.8,218.8 L1510.2,218.6 L1512.1,218.5 L1516.3,218.4 L1520.6,218.5 L1524.8,218.9 L1529.1,219.5 L1533.3,220.4 L1537.6,221.4 L1541.8,222.8 L1546.1,224.3 L1550.3,226.1 L1554.6,228.1 L1558.8,230.4 L1563.0,232.9 L1567.3,235.7 L1571.5,238.7 L1575.8,242.0 L1577.3,243.2 L1580.0,245.5 L1584.3,249.3 L1588.5,253.2 L1592.8,257.4 L1597.0,261.7 L1601.3,266.2 L1605.5,270.9 L1609.8,275.6 L1614.0,280.5 L1618.3,285.4 L1622.5,290.4 L1626.8,295.4 L1631.0,300.4 L1635.3,305.4 L1639.5,310.4 L1643.8,315.3 L1645.6,317.4 L1648.0,320.2 L1652.3,325.0 L1656.5,329.7 L1660.8,334.3 L1665.0,338.8 L1669.3,343.1 L1673.5,347.4 L1677.8,351.6 L1682.0,355.6 L1686.3,359.5 L1690.5,363.2 L1694.8,366.8 L1699.0,370.3 L1703.3,373.5 L1707.5,376.7 L1711.8,379.6 L1715.0,381.7 L1716.0,382.3 L1720.3,384.9 L1724.5,387.3 L1728.8,389.4 L1733.0,391.4 L1737.3,393.1 L1741.5,394.7 L1745.8,396.0 L1750.0,397.1 L1754.3,397.9 L1757.0,398.3 L1758.5,398.5 L1762.8,398.8 L1767.0,399.0 L1771.3,399.1 L1775.5,399.1 L1779.8,399.0 L1784.0,399.0" stroke="#0000ff" stroke-width="6.4" fill="none" stroke-linejoin="round" stroke-linecap="round"/>
<ellipse cx="1108.4" cy="579.0" rx="7.3" ry="7.8" fill="#fff" stroke="#ff0000" stroke-width="3"/>
<ellipse cx="1177.1" cy="552.1" rx="7.3" ry="7.8" fill="#fff" stroke="#ff0000" stroke-width="3"/>
<ellipse cx="1248.4" cy="460.2" rx="7.3" ry="7.8" fill="#fff" stroke="#ff0000" stroke-width="3"/>
<ellipse cx="1317.3" cy="283.0" rx="7.3" ry="7.8" fill="#fff" stroke="#ff0000" stroke-width="3"/>
<ellipse cx="1386.5" cy="118.4" rx="7.3" ry="7.8" fill="#fff" stroke="#ff0000" stroke-width="3"/>
<ellipse cx="1454.9" cy="62.3" rx="7.3" ry="7.8" fill="#fff" stroke="#ff0000" stroke-width="3"/>
<ellipse cx="1531.7" cy="124.0" rx="7.3" ry="7.8" fill="#fff" stroke="#ff0000" stroke-width="3"/>
<ellipse cx="1607.7" cy="262.8" rx="7.3" ry="7.8" fill="#fff" stroke="#ff0000" stroke-width="3"/>
<ellipse cx="1681.0" cy="364.3" rx="7.3" ry="7.8" fill="#fff" stroke="#ff0000" stroke-width="3"/>
<ellipse cx="1759.3" cy="369.0" rx="7.3" ry="7.8" fill="#fff" stroke="#ff0000" stroke-width="3"/>
<path d="M1108.4,579.0 L1112.5,578.9 L1116.6,578.6 L1120.7,578.1 L1124.8,577.4 L1128.9,576.5 L1133.0,575.4 L1137.1,574.1 L1141.1,572.6 L1145.2,571.0 L1149.3,569.1 L1153.4,567.1 L1157.5,564.9 L1161.6,562.6 L1165.7,560.0 L1169.8,557.3 L1173.9,554.5 L1177.1,552.1 L1178.0,551.4 L1182.1,548.2 L1186.2,544.8 L1190.3,541.3 L1194.4,537.5 L1198.5,533.5 L1202.6,529.2 L1206.6,524.7 L1210.7,519.9 L1214.8,514.8 L1218.9,509.4 L1223.0,503.7 L1227.1,497.7 L1231.2,491.3 L1235.3,484.5 L1239.4,477.4 L1243.5,469.8 L1247.6,461.8 L1248.4,460.2 L1251.7,453.4 L1255.8,444.6 L1259.9,435.4 L1264.0,425.9 L1268.1,416.0 L1272.1,405.9 L1276.2,395.5 L1280.3,384.8 L1284.4,374.0 L1288.5,362.9 L1292.6,351.8 L1296.7,340.5 L1300.8,329.1 L1304.9,317.7 L1309.0,306.2 L1313.1,294.8 L1317.2,283.3 L1317.3,283.0 L1321.3,272.0 L1325.4,260.7 L1329.5,249.5 L1333.6,238.5 L1337.6,227.7 L1341.7,217.0 L1345.8,206.5 L1349.9,196.2 L1354.0,186.2 L1358.1,176.5 L1362.2,167.0 L1366.3,157.9 L1370.4,149.1 L1374.5,140.7 L1378.6,132.7 L1382.7,125.1 L1386.5,118.4 L1386.8,117.9 L1390.9,111.2 L1395.0,105.0 L1399.1,99.2 L1403.1,93.8 L1407.2,88.9 L1411.3,84.4 L1415.4,80.3 L1419.5,76.7 L1423.6,73.5 L1427.7,70.7 L1431.8,68.3 L1435.9,66.3 L1440.0,64.7 L1444.1,63.6 L1448.2,62.8 L1452.3,62.4 L1454.9,62.3 L1456.4,62.3 L1460.5,62.7 L1464.6,63.4 L1468.6,64.5 L1472.7,66.0 L1476.8,67.8 L1480.9,70.0 L1485.0,72.5 L1489.1,75.3 L1493.2,78.5 L1497.3,82.0 L1501.4,85.9 L1505.5,90.1 L1509.6,94.5 L1513.7,99.3 L1517.8,104.4 L1521.9,109.8 L1526.0,115.5 L1530.1,121.5 L1531.7,124.0 L1534.1,127.8 L1538.2,134.3 L1542.3,141.1 L1546.4,148.1 L1550.5,155.3 L1554.6,162.7 L1558.7,170.2 L1562.8,177.8 L1566.9,185.6 L1571.0,193.4 L1575.1,201.2 L1579.2,209.1 L1583.3,217.0 L1587.4,224.9 L1591.5,232.7 L1595.6,240.4 L1599.6,248.1 L1603.7,255.6 L1607.7,262.8 L1607.8,263.0 L1611.9,270.3 L1616.0,277.3 L1620.1,284.2 L1624.2,290.9 L1628.3,297.4 L1632.4,303.6 L1636.5,309.7 L1640.6,315.5 L1644.7,321.1 L1648.8,326.4 L1652.9,331.5 L1657.0,336.4 L1661.1,340.9 L1665.1,345.2 L1669.2,349.2 L1673.3,352.9 L1677.4,356.3 L1681.0,359.0 L1681.5,359.4 L1685.6,362.1 L1689.7,364.6 L1693.8,366.7 L1697.9,368.5 L1702.0,370.0 L1706.1,371.2 L1710.2,372.1 L1714.3,372.7 L1718.0,373.0 L1718.4,373.0 L1722.5,373.0 L1726.6,372.8 L1730.6,372.3 L1734.7,371.8 L1738.8,371.2 L1742.9,370.5 L1747.0,370.0 L1751.1,369.5 L1755.2,369.1 L1759.3,369.0" stroke="#ff0000" stroke-width="6.4" fill="none" stroke-linejoin="round" stroke-linecap="round"/>
</g>
<clipPath id="cib1"><rect x="1551.9" y="39.8" width="226.8" height="148.5"/></clipPath>
<rect x="1551.4" y="39.3" width="227.8" height="149.5" fill="#000" stroke="#fff" stroke-width="3"/>
<rect x="1551.9" y="39.8" width="226.8" height="148.5" fill="#000"/>
<g clip-path="url(#cib1)"><g filter="url(#bl)">
<path d="M1556.1,97.9 L1778.7,94.6 M1758.6,61.7 L1759.0,188.2" stroke="#b8b8b8" stroke-width="1.15" stroke-dasharray="5 4.4" fill="none"/>
<path d="M1569.9,58.6 L1588.6,58.1 M1642.5,58.2 L1624.8,57.8 M1719.9,56.8 L1738.9,55.1 M1793.9,54.7 L1775.9,54.0 M1570.6,134.9 L1589.6,137.3 M1645.2,133.3 L1626.9,136.5 M1645.2,133.3 L1664.2,131.7 M1719.9,130.8 L1701.6,130.4 M1719.9,130.8 L1739.2,130.8 M1793.9,131.5 L1776.2,131.1 M1569.9,58.6 L1571.3,77.8 M1570.6,134.9 L1571.6,115.9 M1642.5,58.2 L1643.0,77.2 M1645.2,133.3 L1644.3,114.7 M1719.9,56.8 L1721.3,75.8 M1719.9,130.8 L1721.3,112.8 M1569.9,58.6 L1570.6,39.4 M1642.5,58.2 L1643.2,39.2 M1719.9,56.8 L1719.2,38.5 M1570.6,134.9 L1570.2,152.9 M1570.6,213.7 L1570.2,192.3 M1645.2,133.3 L1646.6,151.7 M1649.4,213.7 L1648.7,192.0 M1719.9,130.8 L1720.5,150.1 M1720.6,213.7 L1720.8,191.6 M1642.5,58.2 L1661.8,58.7 M1719.9,56.8 L1700.5,58.1 M1569.9,58.6 L1550.5,58.4 M1570.6,134.9 L1550.9,134.6" stroke="#7c7c7c" stroke-width="7.60" fill="none"/>
<path d="M1569.9,58.6 L1588.6,58.1 M1642.5,58.2 L1624.8,57.8 M1719.9,56.8 L1738.9,55.1 M1793.9,54.7 L1775.9,54.0 M1570.6,134.9 L1589.6,137.3 M1645.2,133.3 L1626.9,136.5 M1645.2,133.3 L1664.2,131.7 M1719.9,130.8 L1701.6,130.4 M1719.9,130.8 L1739.2,130.8 M1793.9,131.5 L1776.2,131.1 M1569.9,58.6 L1571.3,77.8 M1570.6,134.9 L1571.6,115.9 M1642.5,58.2 L1643.0,77.2 M1645.2,133.3 L1644.3,114.7 M1719.9,56.8 L1721.3,75.8 M1719.9,130.8 L1721.3,112.8 M1569.9,58.6 L1570.6,39.4 M1642.5,58.2 L1643.2,39.2 M1719.9,56.8 L1719.2,38.5 M1570.6,134.9 L1570.2,152.9 M1570.6,213.7 L1570.2,192.3 M1645.2,133.3 L1646.6,151.7 M1649.4,213.7 L1648.7,192.0 M1719.9,130.8 L1720.5,150.1 M1720.6,213.7 L1720.8,191.6 M1642.5,58.2 L1661.8,58.7 M1719.9,56.8 L1700.5,58.1 M1569.9,58.6 L1550.5,58.4 M1570.6,134.9 L1550.9,134.6" stroke="#c4c4c4" stroke-width="4.18" fill="none"/>
<path d="M1588.6,58.1 L1607.2,57.5 M1624.8,57.8 L1607.2,57.5 M1738.9,55.1 L1757.9,53.4 M1775.9,54.0 L1757.9,53.4 M1589.6,137.3 L1608.6,139.8 M1626.9,136.5 L1608.6,139.8 M1664.2,131.7 L1683.3,130.1 M1701.6,130.4 L1683.3,130.1 M1739.2,130.8 L1758.6,130.8 M1776.2,131.1 L1758.6,130.8 M1571.3,77.8 L1572.7,96.9 M1571.6,115.9 L1572.7,96.9 M1643.0,77.2 L1643.4,96.2 M1644.3,114.7 L1643.4,96.2 M1721.3,75.8 L1722.7,94.8 M1721.3,112.8 L1722.7,94.8 M1570.6,39.4 L1571.3,20.2 M1643.2,39.2 L1643.9,20.2 M1719.2,38.5 L1718.5,20.2 M1570.2,152.9 L1569.9,170.9 M1570.2,192.3 L1569.9,170.9 M1646.6,151.7 L1648.0,170.2 M1648.7,192.0 L1648.0,170.2 M1720.5,150.1 L1721.0,169.5 M1720.8,191.6 L1721.0,169.5 M1550.5,58.4 L1531.2,58.2 M1550.9,134.6 L1531.2,134.2" stroke="#b80000" stroke-width="7.60" fill="none"/>
<path d="M1588.6,58.1 L1607.2,57.5 M1624.8,57.8 L1607.2,57.5 M1738.9,55.1 L1757.9,53.4 M1775.9,54.0 L1757.9,53.4 M1589.6,137.3 L1608.6,139.8 M1626.9,136.5 L1608.6,139.8 M1664.2,131.7 L1683.3,130.1 M1701.6,130.4 L1683.3,130.1 M1739.2,130.8 L1758.6,130.8 M1776.2,131.1 L1758.6,130.8 M1571.3,77.8 L1572.7,96.9 M1571.6,115.9 L1572.7,96.9 M1643.0,77.2 L1643.4,96.2 M1644.3,114.7 L1643.4,96.2 M1721.3,75.8 L1722.7,94.8 M1721.3,112.8 L1722.7,94.8 M1570.6,39.4 L1571.3,20.2 M1643.2,39.2 L1643.9,20.2 M1719.2,38.5 L1718.5,20.2 M1570.2,152.9 L1569.9,170.9 M1570.2,192.3 L1569.9,170.9 M1646.6,151.7 L1648.0,170.2 M1648.7,192.0 L1648.0,170.2 M1720.5,150.1 L1721.0,169.5 M1720.8,191.6 L1721.0,169.5 M1550.5,58.4 L1531.2,58.2 M1550.9,134.6 L1531.2,134.2" stroke="#f80c0c" stroke-width="4.18" fill="none"/>
<path d="M1661.8,58.7 L1681.2,59.3 M1700.5,58.1 L1681.2,59.3" stroke="#0000b4" stroke-width="7.60" fill="none"/>
<path d="M1661.8,58.7 L1681.2,59.3 M1700.5,58.1 L1681.2,59.3" stroke="#0c0cf8" stroke-width="4.18" fill="none"/>
<circle cx="1563.0" cy="65.1" r="4.60" fill="url(#gX)"/>
<circle cx="1652.8" cy="63.7" r="4.60" fill="url(#gX)"/>
<circle cx="1578.2" cy="128.0" r="4.60" fill="url(#gX)"/>
<circle cx="1713.0" cy="137.7" r="4.60" fill="url(#gX)"/>
<circle cx="1607.2" cy="57.5" r="6.60" fill="url(#gO)"/>
<circle cx="1757.9" cy="53.4" r="6.60" fill="url(#gO)"/>
<circle cx="1608.6" cy="139.8" r="6.60" fill="url(#gO)"/>
<circle cx="1683.3" cy="130.1" r="6.60" fill="url(#gO)"/>
<circle cx="1758.6" cy="130.8" r="6.60" fill="url(#gO)"/>
<circle cx="1572.7" cy="96.9" r="6.60" fill="url(#gO)"/>
<circle cx="1643.4" cy="96.2" r="6.60" fill="url(#gO)"/>
<circle cx="1722.7" cy="94.8" r="6.60" fill="url(#gO)"/>
<circle cx="1571.3" cy="20.2" r="6.60" fill="url(#gO)"/>
<circle cx="1643.9" cy="20.2" r="6.60" fill="url(#gO)"/>
<circle cx="1718.5" cy="20.2" r="6.60" fill="url(#gO)"/>
<circle cx="1569.9" cy="170.9" r="6.60" fill="url(#gO)"/>
<circle cx="1648.0" cy="170.2" r="6.60" fill="url(#gO)"/>
<circle cx="1721.0" cy="169.5" r="6.60" fill="url(#gO)"/>
<circle cx="1569.9" cy="58.6" r="7.30" fill="url(#gO)" stroke="#200000" stroke-width="0.9"/>
<circle cx="1642.5" cy="58.2" r="7.30" fill="url(#gO)" stroke="#200000" stroke-width="0.9"/>
<circle cx="1719.9" cy="56.8" r="7.30" fill="url(#gO)" stroke="#200000" stroke-width="0.9"/>
<circle cx="1570.6" cy="134.9" r="7.30" fill="url(#gO)" stroke="#200000" stroke-width="0.9"/>
<circle cx="1645.2" cy="133.3" r="7.30" fill="url(#gO)" stroke="#200000" stroke-width="0.9"/>
<circle cx="1719.9" cy="130.8" r="7.30" fill="url(#gO)" stroke="#200000" stroke-width="0.9"/>
<circle cx="1681.2" cy="59.3" r="6.90" fill="url(#gN)"/>
<circle cx="1608.9" cy="95.5" r="6.90" fill="url(#gLa)"/>
<circle cx="1684.6" cy="95.5" r="6.90" fill="url(#gLa)"/>
<circle cx="1758.6" cy="93.4" r="6.90" fill="url(#gLa)"/>
<circle cx="1609.3" cy="170.2" r="6.90" fill="url(#gLa)"/>
<circle cx="1685.3" cy="170.9" r="6.90" fill="url(#gLa)"/>
<circle cx="1759.0" cy="170.2" r="6.90" fill="url(#gLa)"/>
<circle cx="1569.2" cy="96.5" r="7.00" fill="url(#gLi)"/>
<circle cx="1633.5" cy="96.2" r="7.00" fill="url(#gLi)"/>
<circle cx="1683.3" cy="120.4" r="7.00" fill="url(#gLi)"/>
<circle cx="1713.4" cy="168.8" r="7.00" fill="url(#gLi)"/>
</g></g>
<ellipse cx="1640.8" cy="95.5" rx="13.5" ry="31.1" fill="none" stroke="#d6d61c" stroke-width="1.5"/>
<ellipse cx="1683.7" cy="123.6" rx="31.1" ry="13.5" fill="none" stroke="#d6d61c" stroke-width="1.5"/>
<clipPath id="cib2"><rect x="1348.4" y="411.7" width="234.3" height="148.3"/></clipPath>
<rect x="1347.9" y="411.2" width="235.3" height="149.3" fill="#000" stroke="#fff" stroke-width="3"/>
<rect x="1348.4" y="411.7" width="234.3" height="148.3" fill="#000"/>
<g clip-path="url(#cib2)"><g filter="url(#bl)">
<path d="M1357.7,470.6 L1582.7,472.4 M1564.9,434.6 L1564.9,560.0" stroke="#b8b8b8" stroke-width="1.15" stroke-dasharray="5 4.4" fill="none"/>
<path d="M1373.4,430.7 L1391.6,430.4 M1448.4,431.4 L1429.1,430.7 M1526.3,431.4 L1545.2,430.1 M1599.1,430.3 L1581.6,429.6 M1372.4,508.9 L1391.1,511.0 M1449.1,508.6 L1429.5,510.9 M1449.1,508.6 L1467.4,507.3 M1524.9,508.1 L1505.2,507.1 M1524.9,508.1 L1544.1,508.1 M1599.1,508.9 L1581.3,508.5 M1373.4,430.7 L1372.0,449.8 M1372.4,508.9 L1371.5,488.9 M1448.4,431.4 L1447.4,450.1 M1449.1,508.6 L1447.7,488.7 M1526.3,431.4 L1527.0,450.5 M1524.9,508.1 L1526.3,488.9 M1373.4,430.7 L1373.3,411.2 M1448.4,431.4 L1448.1,411.6 M1526.3,431.4 L1525.2,411.6 M1372.4,508.9 L1371.1,527.1 M1368.4,591.7 L1369.1,568.5 M1449.1,508.6 L1448.8,527.3 M1448.4,591.7 L1448.4,568.9 M1524.9,508.1 L1524.5,527.4 M1522.7,591.7 L1523.4,569.2 M1448.4,431.4 L1467.4,431.6 M1526.3,431.4 L1506.3,431.6 M1373.4,430.7 L1350.6,429.8 M1372.4,508.9 L1350.1,507.8" stroke="#7c7c7c" stroke-width="7.60" fill="none"/>
<path d="M1373.4,430.7 L1391.6,430.4 M1448.4,431.4 L1429.1,430.7 M1526.3,431.4 L1545.2,430.1 M1599.1,430.3 L1581.6,429.6 M1372.4,508.9 L1391.1,511.0 M1449.1,508.6 L1429.5,510.9 M1449.1,508.6 L1467.4,507.3 M1524.9,508.1 L1505.2,507.1 M1524.9,508.1 L1544.1,508.1 M1599.1,508.9 L1581.3,508.5 M1373.4,430.7 L1372.0,449.8 M1372.4,508.9 L1371.5,488.9 M1448.4,431.4 L1447.4,450.1 M1449.1,508.6 L1447.7,488.7 M1526.3,431.4 L1527.0,450.5 M1524.9,508.1 L1526.3,488.9 M1373.4,430.7 L1373.3,411.2 M1448.4,431.4 L1448.1,411.6 M1526.3,431.4 L1525.2,411.6 M1372.4,508.9 L1371.1,527.1 M1368.4,591.7 L1369.1,568.5 M1449.1,508.6 L1448.8,527.3 M1448.4,591.7 L1448.4,568.9 M1524.9,508.1 L1524.5,527.4 M1522.7,591.7 L1523.4,569.2 M1448.4,431.4 L1467.4,431.6 M1526.3,431.4 L1506.3,431.6 M1373.4,430.7 L1350.6,429.8 M1372.4,508.9 L1350.1,507.8" stroke="#c4c4c4" stroke-width="4.18" fill="none"/>
<path d="M1391.6,430.4 L1409.9,430.0 M1429.1,430.7 L1409.9,430.0 M1545.2,430.1 L1564.1,428.9 M1581.6,429.6 L1564.1,428.9 M1391.1,511.0 L1409.9,513.1 M1429.5,510.9 L1409.9,513.1 M1467.4,507.3 L1485.6,506.0 M1505.2,507.1 L1485.6,506.0 M1544.1,508.1 L1563.4,508.1 M1581.3,508.5 L1563.4,508.1 M1372.0,449.8 L1370.6,468.9 M1371.5,488.9 L1370.6,468.9 M1447.4,450.1 L1446.3,468.9 M1447.7,488.7 L1446.3,468.9 M1527.0,450.5 L1527.7,469.6 M1526.3,488.9 L1527.7,469.6 M1373.3,411.2 L1373.1,391.7 M1448.1,411.6 L1447.7,391.7 M1525.2,411.6 L1524.1,391.7 M1371.1,527.1 L1369.8,545.3 M1369.1,568.5 L1369.8,545.3 M1448.8,527.3 L1448.4,546.0 M1448.4,568.9 L1448.4,546.0 M1524.5,527.4 L1524.1,546.7 M1523.4,569.2 L1524.1,546.7 M1350.6,429.8 L1327.7,428.9 M1350.1,507.8 L1327.7,506.7" stroke="#b80000" stroke-width="7.60" fill="none"/>
<path d="M1391.6,430.4 L1409.9,430.0 M1429.1,430.7 L1409.9,430.0 M1545.2,430.1 L1564.1,428.9 M1581.6,429.6 L1564.1,428.9 M1391.1,511.0 L1409.9,513.1 M1429.5,510.9 L1409.9,513.1 M1467.4,507.3 L1485.6,506.0 M1505.2,507.1 L1485.6,506.0 M1544.1,508.1 L1563.4,508.1 M1581.3,508.5 L1563.4,508.1 M1372.0,449.8 L1370.6,468.9 M1371.5,488.9 L1370.6,468.9 M1447.4,450.1 L1446.3,468.9 M1447.7,488.7 L1446.3,468.9 M1527.0,450.5 L1527.7,469.6 M1526.3,488.9 L1527.7,469.6 M1373.3,411.2 L1373.1,391.7 M1448.1,411.6 L1447.7,391.7 M1525.2,411.6 L1524.1,391.7 M1371.1,527.1 L1369.8,545.3 M1369.1,568.5 L1369.8,545.3 M1448.8,527.3 L1448.4,546.0 M1448.4,568.9 L1448.4,546.0 M1524.5,527.4 L1524.1,546.7 M1523.4,569.2 L1524.1,546.7 M1350.6,429.8 L1327.7,428.9 M1350.1,507.8 L1327.7,506.7" stroke="#f80c0c" stroke-width="4.18" fill="none"/>
<path d="M1467.4,431.6 L1486.3,431.7 M1506.3,431.6 L1486.3,431.7" stroke="#0000b4" stroke-width="7.60" fill="none"/>
<path d="M1467.4,431.6 L1486.3,431.7 M1506.3,431.6 L1486.3,431.7" stroke="#0c0cf8" stroke-width="4.18" fill="none"/>
<circle cx="1363.4" cy="436.7" r="4.60" fill="url(#gX)"/>
<circle cx="1454.9" cy="436.7" r="4.60" fill="url(#gX)"/>
<circle cx="1530.6" cy="437.4" r="4.60" fill="url(#gX)"/>
<circle cx="1377.7" cy="501.0" r="4.60" fill="url(#gX)"/>
<circle cx="1440.6" cy="501.0" r="4.60" fill="url(#gX)"/>
<circle cx="1409.9" cy="430.0" r="6.60" fill="url(#gO)"/>
<circle cx="1564.1" cy="428.9" r="6.60" fill="url(#gO)"/>
<circle cx="1409.9" cy="513.1" r="6.60" fill="url(#gO)"/>
<circle cx="1485.6" cy="506.0" r="6.60" fill="url(#gO)"/>
<circle cx="1563.4" cy="508.1" r="6.60" fill="url(#gO)"/>
<circle cx="1370.6" cy="468.9" r="6.60" fill="url(#gO)"/>
<circle cx="1446.3" cy="468.9" r="6.60" fill="url(#gO)"/>
<circle cx="1527.7" cy="469.6" r="6.60" fill="url(#gO)"/>
<circle cx="1373.1" cy="391.7" r="6.60" fill="url(#gO)"/>
<circle cx="1447.7" cy="391.7" r="6.60" fill="url(#gO)"/>
<circle cx="1524.1" cy="391.7" r="6.60" fill="url(#gO)"/>
<circle cx="1369.8" cy="545.3" r="6.60" fill="url(#gO)"/>
<circle cx="1448.4" cy="546.0" r="6.60" fill="url(#gO)"/>
<circle cx="1524.1" cy="546.7" r="6.60" fill="url(#gO)"/>
<circle cx="1373.4" cy="430.7" r="7.30" fill="url(#gO)" stroke="#200000" stroke-width="0.9"/>
<circle cx="1448.4" cy="431.4" r="7.30" fill="url(#gO)" stroke="#200000" stroke-width="0.9"/>
<circle cx="1526.3" cy="431.4" r="7.30" fill="url(#gO)" stroke="#200000" stroke-width="0.9"/>
<circle cx="1372.4" cy="508.9" r="7.30" fill="url(#gO)" stroke="#200000" stroke-width="0.9"/>
<circle cx="1449.1" cy="508.6" r="7.30" fill="url(#gO)" stroke="#200000" stroke-width="0.9"/>
<circle cx="1524.9" cy="508.1" r="7.30" fill="url(#gO)" stroke="#200000" stroke-width="0.9"/>
<circle cx="1486.3" cy="431.7" r="6.90" fill="url(#gN)"/>
<circle cx="1409.9" cy="468.9" r="6.90" fill="url(#gLa)"/>
<circle cx="1486.3" cy="469.6" r="6.90" fill="url(#gLa)"/>
<circle cx="1562.7" cy="470.0" r="6.90" fill="url(#gLa)"/>
<circle cx="1411.3" cy="545.7" r="6.90" fill="url(#gLa)"/>
<circle cx="1486.3" cy="546.0" r="6.90" fill="url(#gLa)"/>
<circle cx="1562.0" cy="547.4" r="6.90" fill="url(#gLa)"/>
<circle cx="1374.9" cy="469.6" r="7.00" fill="url(#gLi)"/>
<circle cx="1444.1" cy="469.6" r="7.00" fill="url(#gLi)"/>
<circle cx="1521.0" cy="470.0" r="7.00" fill="url(#gLi)"/>
<circle cx="1514.1" cy="546.0" r="7.00" fill="url(#gLi)"/>
</g></g>
<path d="M1513.4,475.3 L1487.0,497.4" stroke="#ffc400" stroke-width="2.40" fill="none" marker-end="url(#ah)"/>
</g>
<g>
<text transform="translate(174.0,1360.4) scale(1,1.03)" text-anchor="middle" font-size="46.8" >0</text>
<text transform="translate(287.1,1360.4) scale(1,1.03)" text-anchor="middle" font-size="46.8" >1</text>
<text transform="translate(400.1,1360.4) scale(1,1.03)" text-anchor="middle" font-size="46.8" >2</text>
<text transform="translate(513.2,1360.4) scale(1,1.03)" text-anchor="middle" font-size="46.8" >3</text>
<text transform="translate(626.3,1360.4) scale(1,1.03)" text-anchor="middle" font-size="46.8" >4</text>
<text transform="translate(739.3,1360.4) scale(1,1.03)" text-anchor="middle" font-size="46.8" >5</text>
<text transform="translate(852.4,1360.4) scale(1,1.03)" text-anchor="middle" font-size="46.8" >6</text>
<text transform="translate(155.5,1319.4) scale(1,1.085)" text-anchor="end" font-size="45.2" >-0.1</text>
<text transform="translate(155.5,1258.7) scale(1,1.085)" text-anchor="end" font-size="45.2" >0.0</text>
<text transform="translate(155.5,1198.0) scale(1,1.085)" text-anchor="end" font-size="45.2" >0.1</text>
<text transform="translate(155.5,1137.4) scale(1,1.085)" text-anchor="end" font-size="45.2" >0.2</text>
<text transform="translate(155.5,1076.7) scale(1,1.085)" text-anchor="end" font-size="45.2" >0.3</text>
<text transform="translate(155.5,1016.0) scale(1,1.085)" text-anchor="end" font-size="45.2" >0.4</text>
<text transform="translate(155.5,955.3) scale(1,1.085)" text-anchor="end" font-size="45.2" >0.5</text>
<text transform="translate(155.5,894.7) scale(1,1.085)" text-anchor="end" font-size="45.2" >0.6</text>
<text transform="translate(155.5,834.0) scale(1,1.085)" text-anchor="end" font-size="45.2" >0.7</text>
<text transform="translate(155.5,773.3) scale(1,1.085)" text-anchor="end" font-size="45.2" >0.8</text>
<path d="M174.0,1306.4 V1320.4 M230.5,1306.4 V1314.9 M287.1,1306.4 V1320.4 M343.6,1306.4 V1314.9 M400.1,1306.4 V1320.4 M456.7,1306.4 V1314.9 M513.2,1306.4 V1320.4 M569.7,1306.4 V1314.9 M626.3,1306.4 V1320.4 M682.8,1306.4 V1314.9 M739.3,1306.4 V1320.4 M795.9,1306.4 V1314.9 M852.4,1306.4 V1320.4 M174.0,1306.4 H160.0 M174.0,1276.1 H165.5 M174.0,1245.7 H160.0 M174.0,1215.4 H165.5 M174.0,1185.0 H160.0 M174.0,1154.7 H165.5 M174.0,1124.4 H160.0 M174.0,1094.0 H165.5 M174.0,1063.7 H160.0 M174.0,1033.3 H165.5 M174.0,1003.0 H160.0 M174.0,972.7 H165.5 M174.0,942.3 H160.0 M174.0,912.0 H165.5 M174.0,881.7 H160.0 M174.0,851.3 H165.5 M174.0,821.0 H160.0 M174.0,790.6 H165.5 M174.0,760.3 H160.0" stroke="#000" stroke-width="5.5" fill="none"/>
<rect x="174.0" y="760.3" width="678.4" height="546.1" fill="none" stroke="#000" stroke-width="6"/>
<text transform="translate(513.2,1430.6) scale(1,1.08)" text-anchor="middle" font-size="45.9" >Reaction coordinate (Å)</text>
<text transform="translate(41.8,1020.4) rotate(-90) scale(1,1.11)" text-anchor="middle" font-size="46.5" >Energy (eV)</text>
<text transform="translate(1.3,785.5) scale(1,1.045)" text-anchor="start" font-size="50.4" >(c)</text>
<ellipse cx="200.6" cy="782.2" rx="8.3" ry="9" fill="#0000ff"/>
<ellipse cx="200.6" cy="818.2" rx="7.3" ry="7.8" fill="#fff" stroke="#ff0000" stroke-width="3"/>
<text transform="translate(239.7,790.7) scale(1,1.05)" text-anchor="start" font-size="27" letter-spacing="1" style="font-kerning:none">N-LLTO</text>
<text transform="translate(239.7,826.7) scale(1,1.05)" text-anchor="start" font-size="27" letter-spacing="1" style="font-kerning:none">LLTO</text>
<clipPath id="cpc"><rect x="174.0" y="760.3" width="678.4" height="546.1"/></clipPath>
<g clip-path="url(#cpc)">
<ellipse cx="174.0" cy="1245.7" rx="8.3" ry="9" fill="#0000ff"/>
<ellipse cx="233.2" cy="1225.7" rx="8.3" ry="9" fill="#0000ff"/>
<ellipse cx="292.3" cy="1170.3" rx="8.3" ry="9" fill="#0000ff"/>
<ellipse cx="350.3" cy="1025.4" rx="8.3" ry="9" fill="#0000ff"/>
<ellipse cx="409.9" cy="869.1" rx="8.3" ry="9" fill="#0000ff"/>
<ellipse cx="470.7" cy="827.5" rx="8.3" ry="9" fill="#0000ff"/>
<ellipse cx="539.6" cy="886.3" rx="8.3" ry="9" fill="#0000ff"/>
<ellipse cx="608.5" cy="1003.7" rx="8.3" ry="9" fill="#0000ff"/>
<ellipse cx="677.9" cy="1090.5" rx="8.3" ry="9" fill="#0000ff"/>
<ellipse cx="747.3" cy="1124.4" rx="8.3" ry="9" fill="#0000ff"/>
<path d="M174.0,1245.7 L177.6,1245.6 L181.2,1245.3 L184.8,1244.8 L188.4,1244.1 L192.0,1243.3 L195.6,1242.3 L199.2,1241.2 L202.8,1239.9 L206.5,1238.5 L210.1,1237.0 L213.7,1235.4 L217.3,1233.8 L220.9,1232.0 L224.5,1230.2 L228.1,1228.4 L231.7,1226.5 L233.2,1225.7 L235.3,1224.6 L238.9,1222.6 L242.5,1220.6 L246.1,1218.5 L249.7,1216.3 L253.3,1213.9 L256.9,1211.3 L260.5,1208.5 L264.1,1205.5 L267.7,1202.2 L271.4,1198.6 L275.0,1194.7 L278.6,1190.4 L282.2,1185.7 L285.8,1180.7 L289.4,1175.1 L292.3,1170.3 L293.0,1169.1 L296.6,1162.6 L300.2,1155.7 L303.8,1148.3 L307.4,1140.4 L311.0,1132.2 L314.6,1123.7 L318.2,1114.8 L321.8,1105.6 L325.4,1096.1 L329.0,1086.4 L332.6,1076.4 L336.3,1066.3 L339.9,1056.0 L343.5,1045.5 L347.1,1034.9 L350.3,1025.4 L350.7,1024.3 L354.3,1013.6 L357.9,1002.8 L361.5,992.1 L365.1,981.4 L368.7,970.9 L372.3,960.4 L375.9,950.2 L379.5,940.1 L383.1,930.3 L386.7,920.8 L390.3,911.6 L393.9,902.8 L397.6,894.3 L401.2,886.4 L404.8,878.9 L408.4,871.9 L409.9,869.1 L412.0,865.5 L415.6,859.8 L419.2,854.7 L422.8,850.2 L426.4,846.2 L430.0,842.8 L433.6,839.8 L437.2,837.3 L440.8,835.2 L444.4,833.4 L448.0,831.9 L451.6,830.7 L455.2,829.8 L458.8,829.1 L462.5,828.5 L466.1,828.0 L469.7,827.6 L470.7,827.5 L473.3,827.4 L476.9,827.6 L480.5,828.3 L484.1,829.4 L487.7,830.9 L491.3,832.8 L494.9,835.1 L498.5,837.7 L502.1,840.7 L505.7,844.0 L509.3,847.5 L512.9,851.4 L516.5,855.5 L520.1,859.8 L523.7,864.4 L527.4,869.1 L531.0,874.0 L534.6,879.0 L538.2,884.2 L539.6,886.3 L541.8,889.5 L545.4,895.0 L549.0,900.7 L552.6,906.5 L556.2,912.5 L559.8,918.6 L563.4,924.9 L567.0,931.1 L570.6,937.5 L574.2,943.9 L577.8,950.4 L581.4,956.8 L585.0,963.3 L588.7,969.7 L592.3,976.1 L595.9,982.4 L599.5,988.6 L603.1,994.7 L606.7,1000.7 L608.5,1003.7 L610.3,1006.6 L613.9,1012.3 L617.5,1017.9 L621.1,1023.3 L624.7,1028.6 L628.3,1033.7 L631.9,1038.7 L635.5,1043.5 L639.1,1048.3 L642.7,1052.8 L646.3,1057.3 L649.9,1061.6 L653.6,1065.8 L657.2,1069.8 L660.8,1073.7 L664.4,1077.5 L668.0,1081.1 L671.6,1084.6 L675.2,1088.0 L677.9,1090.5 L678.8,1091.3 L682.4,1094.4 L686.0,1097.5 L689.6,1100.3 L693.2,1103.1 L696.8,1105.7 L700.4,1108.1 L704.0,1110.4 L707.6,1112.6 L711.2,1114.5 L714.8,1116.3 L718.5,1118.0 L722.1,1119.5 L725.7,1120.7 L729.3,1121.8 L732.9,1122.7 L736.5,1123.5 L740.1,1124.0 L743.7,1124.3 L747.3,1124.4" stroke="#0000ff" stroke-width="6.4" fill="none" stroke-linejoin="round" stroke-linecap="round"/>
<ellipse cx="174.0" cy="1245.7" rx="7.3" ry="7.8" fill="#fff" stroke="#ff0000" stroke-width="3"/>
<ellipse cx="225.8" cy="1224.6" rx="7.3" ry="7.8" fill="#fff" stroke="#ff0000" stroke-width="3"/>
<ellipse cx="279.5" cy="1169.0" rx="7.3" ry="7.8" fill="#fff" stroke="#ff0000" stroke-width="3"/>
<ellipse cx="332.5" cy="1028.9" rx="7.3" ry="7.8" fill="#fff" stroke="#ff0000" stroke-width="3"/>
<ellipse cx="385.0" cy="855.3" rx="7.3" ry="7.8" fill="#fff" stroke="#ff0000" stroke-width="3"/>
<ellipse cx="438.5" cy="777.7" rx="7.3" ry="7.8" fill="#fff" stroke="#ff0000" stroke-width="3"/>
<ellipse cx="500.3" cy="864.3" rx="7.3" ry="7.8" fill="#fff" stroke="#ff0000" stroke-width="3"/>
<ellipse cx="563.4" cy="983.6" rx="7.3" ry="7.8" fill="#fff" stroke="#ff0000" stroke-width="3"/>
<ellipse cx="625.4" cy="1073.1" rx="7.3" ry="7.8" fill="#fff" stroke="#ff0000" stroke-width="3"/>
<ellipse cx="687.1" cy="1115.2" rx="7.3" ry="7.8" fill="#fff" stroke="#ff0000" stroke-width="3"/>
<path d="M174.0,1245.7 L177.2,1245.6 L180.5,1245.2 L183.7,1244.7 L186.9,1244.0 L190.1,1243.0 L193.4,1242.0 L196.6,1240.7 L199.8,1239.3 L203.0,1237.8 L206.3,1236.2 L209.5,1234.4 L212.7,1232.6 L216.0,1230.7 L219.2,1228.8 L222.4,1226.8 L225.6,1224.7 L225.8,1224.6 L228.9,1222.6 L232.1,1220.5 L235.3,1218.3 L238.5,1216.0 L241.8,1213.6 L245.0,1211.1 L248.2,1208.4 L251.4,1205.5 L254.7,1202.4 L257.9,1199.1 L261.1,1195.5 L264.4,1191.6 L267.6,1187.5 L270.8,1182.9 L274.0,1178.1 L277.3,1172.9 L279.5,1169.0 L280.5,1167.2 L283.7,1161.2 L286.9,1154.7 L290.2,1147.9 L293.4,1140.7 L296.6,1133.2 L299.9,1125.3 L303.1,1117.0 L306.3,1108.5 L309.5,1099.6 L312.8,1090.4 L316.0,1081.0 L319.2,1071.3 L322.4,1061.4 L325.7,1051.2 L328.9,1040.8 L332.1,1030.1 L332.5,1028.9 L335.4,1019.3 L338.6,1008.3 L341.8,997.2 L345.0,986.0 L348.3,974.8 L351.5,963.5 L354.7,952.3 L357.9,941.1 L361.2,930.1 L364.4,919.2 L367.6,908.4 L370.8,897.9 L374.1,887.6 L377.3,877.7 L380.5,868.0 L383.8,858.8 L385.0,855.3 L387.0,849.9 L390.2,841.5 L393.4,833.5 L396.7,826.0 L399.9,819.0 L403.1,812.4 L406.3,806.4 L409.6,800.9 L412.8,796.0 L416.0,791.6 L419.3,787.7 L422.5,784.5 L425.7,781.9 L428.9,779.9 L432.2,778.5 L435.4,777.8 L438.5,777.7 L438.6,777.7 L441.8,778.3 L445.1,779.6 L448.3,781.4 L451.5,783.9 L454.8,786.8 L458.0,790.3 L461.2,794.2 L464.4,798.6 L467.7,803.3 L470.9,808.4 L474.1,813.7 L477.3,819.4 L480.6,825.3 L483.8,831.4 L487.0,837.6 L490.3,844.0 L493.5,850.5 L496.7,857.0 L499.9,863.6 L500.3,864.3 L503.2,870.1 L506.4,876.6 L509.6,883.0 L512.8,889.5 L516.1,895.9 L519.3,902.2 L522.5,908.5 L525.7,914.8 L529.0,921.0 L532.2,927.2 L535.4,933.3 L538.7,939.3 L541.9,945.3 L545.1,951.3 L548.3,957.1 L551.6,962.9 L554.8,968.7 L558.0,974.3 L561.2,979.9 L563.4,983.6 L564.5,985.4 L567.7,990.8 L570.9,996.2 L574.2,1001.4 L577.4,1006.6 L580.6,1011.7 L583.8,1016.7 L587.1,1021.6 L590.3,1026.5 L593.5,1031.2 L596.7,1035.8 L600.0,1040.4 L603.2,1044.9 L606.4,1049.3 L609.7,1053.5 L612.9,1057.7 L616.1,1061.8 L619.3,1065.8 L622.6,1069.7 L625.4,1073.1 L625.8,1073.6 L629.0,1077.3 L632.2,1080.9 L635.5,1084.3 L638.7,1087.7 L641.9,1090.9 L645.1,1093.9 L648.4,1096.8 L651.6,1099.6 L654.8,1102.1 L658.1,1104.5 L661.3,1106.6 L664.5,1108.5 L667.7,1110.2 L671.0,1111.7 L674.2,1112.9 L677.4,1113.9 L680.6,1114.6 L683.9,1115.1 L687.1,1115.2" stroke="#ff0000" stroke-width="6.4" fill="none" stroke-linejoin="round" stroke-linecap="round"/>
</g>
<clipPath id="cic1"><rect x="598.8" y="774.8" width="245.3" height="162.8"/></clipPath>
<rect x="598.3" y="774.3" width="246.3" height="163.8" fill="#000" stroke="#fff" stroke-width="3"/>
<rect x="598.8" y="774.8" width="245.3" height="162.8" fill="#000"/>
<g clip-path="url(#cic1)"><g filter="url(#bl)">
<path d="M603.4,922.8 L841.4,922.8 M823.9,777.9 L823.9,922.8" stroke="#b8b8b8" stroke-width="1.15" stroke-dasharray="5 4.4" fill="none"/>
<path d="M618.6,793.1 L639.1,792.1 M701.5,792.6 L680.6,791.9 M701.5,792.6 L721.6,794.9 M780.6,798.4 L761.2,797.8 M780.6,798.4 L802.2,798.0 M865.7,797.7 L844.8,797.7 M620.1,879.0 L639.9,878.1 M700.3,879.0 L680.0,878.1 M781.3,878.2 L802.6,878.2 M865.7,876.7 L844.8,877.5 M618.6,793.1 L619.4,815.1 M620.1,879.0 L620.1,858.1 M701.5,792.6 L700.6,814.7 M700.3,879.0 L700.0,857.9 M780.6,798.4 L780.9,817.8 M781.3,878.2 L781.3,857.7 M618.6,793.1 L617.9,776.0 M701.5,792.6 L701.9,775.8 M780.6,798.4 L781.7,775.6 M620.1,879.0 L620.6,899.9 M620.1,965.7 L620.6,943.3 M700.3,879.0 L700.5,899.5 M699.2,965.7 L699.9,942.9 M781.3,878.2 L782.3,899.2 M783.3,965.7 L783.2,942.9 M700.3,879.0 L720.6,879.2 M781.3,878.2 L761.2,878.8 M618.6,793.1 L597.7,795.0 M620.1,879.0 L598.5,878.6" stroke="#7c7c7c" stroke-width="7.60" fill="none"/>
<path d="M618.6,793.1 L639.1,792.1 M701.5,792.6 L680.6,791.9 M701.5,792.6 L721.6,794.9 M780.6,798.4 L761.2,797.8 M780.6,798.4 L802.2,798.0 M865.7,797.7 L844.8,797.7 M620.1,879.0 L639.9,878.1 M700.3,879.0 L680.0,878.1 M781.3,878.2 L802.6,878.2 M865.7,876.7 L844.8,877.5 M618.6,793.1 L619.4,815.1 M620.1,879.0 L620.1,858.1 M701.5,792.6 L700.6,814.7 M700.3,879.0 L700.0,857.9 M780.6,798.4 L780.9,817.8 M781.3,878.2 L781.3,857.7 M618.6,793.1 L617.9,776.0 M701.5,792.6 L701.9,775.8 M780.6,798.4 L781.7,775.6 M620.1,879.0 L620.6,899.9 M620.1,965.7 L620.6,943.3 M700.3,879.0 L700.5,899.5 M699.2,965.7 L699.9,942.9 M781.3,878.2 L782.3,899.2 M783.3,965.7 L783.2,942.9 M700.3,879.0 L720.6,879.2 M781.3,878.2 L761.2,878.8 M618.6,793.1 L597.7,795.0 M620.1,879.0 L598.5,878.6" stroke="#c4c4c4" stroke-width="4.18" fill="none"/>
<path d="M639.1,792.1 L659.7,791.1 M680.6,791.9 L659.7,791.1 M721.6,794.9 L741.8,797.2 M761.2,797.8 L741.8,797.2 M802.2,798.0 L823.9,797.7 M844.8,797.7 L823.9,797.7 M639.9,878.1 L659.7,877.2 M680.0,878.1 L659.7,877.2 M802.6,878.2 L823.9,878.2 M844.8,877.5 L823.9,878.2 M619.4,815.1 L620.1,837.2 M620.1,858.1 L620.1,837.2 M700.6,814.7 L699.7,836.7 M700.0,857.9 L699.7,836.7 M780.9,817.8 L781.3,837.2 M781.3,857.7 L781.3,837.2 M617.9,776.0 L617.1,758.9 M701.9,775.8 L702.2,758.9 M781.7,775.6 L782.8,752.8 M620.6,899.9 L621.0,920.8 M620.6,943.3 L621.0,920.8 M700.5,899.5 L700.7,920.1 M699.9,942.9 L700.7,920.1 M782.3,899.2 L783.2,920.1 M783.2,942.9 L783.2,920.1 M597.7,795.0 L576.8,796.9 M598.5,878.6 L576.8,878.2" stroke="#b80000" stroke-width="7.60" fill="none"/>
<path d="M639.1,792.1 L659.7,791.1 M680.6,791.9 L659.7,791.1 M721.6,794.9 L741.8,797.2 M761.2,797.8 L741.8,797.2 M802.2,798.0 L823.9,797.7 M844.8,797.7 L823.9,797.7 M639.9,878.1 L659.7,877.2 M680.0,878.1 L659.7,877.2 M802.6,878.2 L823.9,878.2 M844.8,877.5 L823.9,878.2 M619.4,815.1 L620.1,837.2 M620.1,858.1 L620.1,837.2 M700.6,814.7 L699.7,836.7 M700.0,857.9 L699.7,836.7 M780.9,817.8 L781.3,837.2 M781.3,857.7 L781.3,837.2 M617.9,776.0 L617.1,758.9 M701.9,775.8 L702.2,758.9 M781.7,775.6 L782.8,752.8 M620.6,899.9 L621.0,920.8 M620.6,943.3 L621.0,920.8 M700.5,899.5 L700.7,920.1 M699.9,942.9 L700.7,920.1 M782.3,899.2 L783.2,920.1 M783.2,942.9 L783.2,920.1 M597.7,795.0 L576.8,796.9 M598.5,878.6 L576.8,878.2" stroke="#f80c0c" stroke-width="4.18" fill="none"/>
<path d="M720.6,879.2 L741.0,879.3 M761.2,878.8 L741.0,879.3" stroke="#0000b4" stroke-width="7.60" fill="none"/>
<path d="M720.6,879.2 L741.0,879.3 M761.2,878.8 L741.0,879.3" stroke="#0c0cf8" stroke-width="4.18" fill="none"/>
<circle cx="782.8" cy="790.8" r="4.60" fill="url(#gX)"/>
<circle cx="611.8" cy="885.1" r="4.60" fill="url(#gX)"/>
<circle cx="707.6" cy="885.9" r="4.60" fill="url(#gX)"/>
<circle cx="788.2" cy="884.3" r="4.60" fill="url(#gX)"/>
<circle cx="659.7" cy="791.1" r="6.60" fill="url(#gO)"/>
<circle cx="741.8" cy="797.2" r="6.60" fill="url(#gO)"/>
<circle cx="823.9" cy="797.7" r="6.60" fill="url(#gO)"/>
<circle cx="659.7" cy="877.2" r="6.60" fill="url(#gO)"/>
<circle cx="823.9" cy="878.2" r="6.60" fill="url(#gO)"/>
<circle cx="620.1" cy="837.2" r="6.60" fill="url(#gO)"/>
<circle cx="699.7" cy="836.7" r="6.60" fill="url(#gO)"/>
<circle cx="781.3" cy="837.2" r="6.60" fill="url(#gO)"/>
<circle cx="617.1" cy="758.9" r="6.60" fill="url(#gO)"/>
<circle cx="702.2" cy="758.9" r="6.60" fill="url(#gO)"/>
<circle cx="782.8" cy="752.8" r="6.60" fill="url(#gO)"/>
<circle cx="621.0" cy="920.8" r="6.60" fill="url(#gO)"/>
<circle cx="700.7" cy="920.1" r="6.60" fill="url(#gO)"/>
<circle cx="783.2" cy="920.1" r="6.60" fill="url(#gO)"/>
<circle cx="618.6" cy="793.1" r="7.30" fill="url(#gO)" stroke="#200000" stroke-width="0.9"/>
<circle cx="701.5" cy="792.6" r="7.30" fill="url(#gO)" stroke="#200000" stroke-width="0.9"/>
<circle cx="780.6" cy="798.4" r="7.30" fill="url(#gO)" stroke="#200000" stroke-width="0.9"/>
<circle cx="620.1" cy="879.0" r="7.30" fill="url(#gO)" stroke="#200000" stroke-width="0.9"/>
<circle cx="700.3" cy="879.0" r="7.30" fill="url(#gO)" stroke="#200000" stroke-width="0.9"/>
<circle cx="781.3" cy="878.2" r="7.30" fill="url(#gO)" stroke="#200000" stroke-width="0.9"/>
<circle cx="741.0" cy="879.3" r="6.90" fill="url(#gN)"/>
<circle cx="660.4" cy="835.7" r="6.90" fill="url(#gLa)"/>
<circle cx="740.7" cy="836.7" r="6.90" fill="url(#gLa)"/>
<circle cx="824.7" cy="838.3" r="6.90" fill="url(#gLa)"/>
<circle cx="660.7" cy="920.1" r="6.90" fill="url(#gLa)"/>
<circle cx="741.5" cy="920.8" r="6.90" fill="url(#gLa)"/>
<circle cx="825.0" cy="920.5" r="6.90" fill="url(#gLa)"/>
<circle cx="767.6" cy="838.0" r="7.00" fill="url(#gLi)"/>
<circle cx="824.7" cy="871.4" r="7.00" fill="url(#gLi)"/>
<circle cx="621.7" cy="921.3" r="7.00" fill="url(#gLi)"/>
<circle cx="695.1" cy="920.8" r="7.00" fill="url(#gLi)"/>
<circle cx="774.9" cy="919.8" r="7.00" fill="url(#gLi)"/>
</g></g>
<ellipse cx="771.9" cy="840.2" rx="14.1" ry="33.8" fill="none" stroke="#d6d61c" stroke-width="1.5"/>
<ellipse cx="818.6" cy="870.6" rx="33.5" ry="14.4" fill="none" stroke="#d6d61c" stroke-width="1.5"/>
<clipPath id="cic2"><rect x="321.0" y="1126.0" width="245.0" height="169.0"/></clipPath>
<rect x="320.5" y="1125.5" width="246.0" height="170.0" fill="#000" stroke="#fff" stroke-width="3"/>
<rect x="321.0" y="1126.0" width="245.0" height="169.0" fill="#000"/>
<g clip-path="url(#cic2)"><g filter="url(#bl)">
<path d="M329.7,1276.3 L562.6,1276.3 M546.6,1128.0 L546.6,1276.3" stroke="#b8b8b8" stroke-width="1.15" stroke-dasharray="5 4.4" fill="none"/>
<path d="M345.2,1150.2 L364.6,1149.6 M425.6,1150.5 L404.8,1149.7 M425.6,1150.5 L445.0,1153.1 M505.0,1155.7 L484.7,1155.7 M505.0,1155.7 L525.2,1157.0 M583.6,1156.4 L564.5,1157.3 M345.2,1234.3 L364.0,1233.9 M423.3,1235.1 L403.1,1234.3 M505.0,1234.3 L524.8,1234.3 M583.6,1233.6 L564.1,1233.9 M345.2,1150.2 L344.9,1171.9 M345.2,1234.3 L344.9,1214.0 M425.6,1150.5 L423.9,1172.0 M423.3,1235.1 L422.7,1214.3 M505.0,1155.7 L504.0,1175.4 M505.0,1234.3 L504.0,1214.7 M345.2,1150.2 L343.8,1134.7 M425.6,1150.5 L426.0,1135.5 M505.0,1155.7 L504.0,1137.0 M345.2,1234.3 L344.0,1253.8 M342.5,1313.7 L342.7,1293.5 M423.3,1235.1 L423.4,1255.3 M421.8,1313.7 L422.6,1294.6 M505.0,1234.3 L504.9,1254.9 M503.0,1313.7 L503.9,1294.6 M423.3,1235.1 L443.2,1235.3 M505.0,1234.3 L484.0,1234.9 M345.2,1150.2 L322.1,1152.9 M345.2,1234.3 L322.1,1233.2" stroke="#7c7c7c" stroke-width="7.60" fill="none"/>
<path d="M345.2,1150.2 L364.6,1149.6 M425.6,1150.5 L404.8,1149.7 M425.6,1150.5 L445.0,1153.1 M505.0,1155.7 L484.7,1155.7 M505.0,1155.7 L525.2,1157.0 M583.6,1156.4 L564.5,1157.3 M345.2,1234.3 L364.0,1233.9 M423.3,1235.1 L403.1,1234.3 M505.0,1234.3 L524.8,1234.3 M583.6,1233.6 L564.1,1233.9 M345.2,1150.2 L344.9,1171.9 M345.2,1234.3 L344.9,1214.0 M425.6,1150.5 L423.9,1172.0 M423.3,1235.1 L422.7,1214.3 M505.0,1155.7 L504.0,1175.4 M505.0,1234.3 L504.0,1214.7 M345.2,1150.2 L343.8,1134.7 M425.6,1150.5 L426.0,1135.5 M505.0,1155.7 L504.0,1137.0 M345.2,1234.3 L344.0,1253.8 M342.5,1313.7 L342.7,1293.5 M423.3,1235.1 L423.4,1255.3 M421.8,1313.7 L422.6,1294.6 M505.0,1234.3 L504.9,1254.9 M503.0,1313.7 L503.9,1294.6 M423.3,1235.1 L443.2,1235.3 M505.0,1234.3 L484.0,1234.9 M345.2,1150.2 L322.1,1152.9 M345.2,1234.3 L322.1,1233.2" stroke="#c4c4c4" stroke-width="4.18" fill="none"/>
<path d="M364.6,1149.6 L384.1,1149.0 M404.8,1149.7 L384.1,1149.0 M445.0,1153.1 L464.5,1155.7 M484.7,1155.7 L464.5,1155.7 M525.2,1157.0 L545.4,1158.2 M564.5,1157.3 L545.4,1158.2 M364.0,1233.9 L382.9,1233.6 M403.1,1234.3 L382.9,1233.6 M524.8,1234.3 L544.6,1234.3 M564.1,1233.9 L544.6,1234.3 M344.9,1171.9 L344.7,1193.6 M344.9,1214.0 L344.7,1193.6 M423.9,1172.0 L422.1,1193.6 M422.7,1214.3 L422.1,1193.6 M504.0,1175.4 L503.0,1195.1 M504.0,1214.7 L503.0,1195.1 M343.8,1134.7 L342.5,1119.3 M426.0,1135.5 L426.3,1120.5 M504.0,1137.0 L503.0,1118.3 M344.0,1253.8 L342.9,1273.3 M342.7,1293.5 L342.9,1273.3 M423.4,1255.3 L423.5,1275.5 M422.6,1294.6 L423.5,1275.5 M504.9,1254.9 L504.8,1275.5 M503.9,1294.6 L504.8,1275.5 M322.1,1152.9 L299.0,1155.7 M322.1,1233.2 L299.0,1232.1" stroke="#b80000" stroke-width="7.60" fill="none"/>
<path d="M364.6,1149.6 L384.1,1149.0 M404.8,1149.7 L384.1,1149.0 M445.0,1153.1 L464.5,1155.7 M484.7,1155.7 L464.5,1155.7 M525.2,1157.0 L545.4,1158.2 M564.5,1157.3 L545.4,1158.2 M364.0,1233.9 L382.9,1233.6 M403.1,1234.3 L382.9,1233.6 M524.8,1234.3 L544.6,1234.3 M564.1,1233.9 L544.6,1234.3 M344.9,1171.9 L344.7,1193.6 M344.9,1214.0 L344.7,1193.6 M423.9,1172.0 L422.1,1193.6 M422.7,1214.3 L422.1,1193.6 M504.0,1175.4 L503.0,1195.1 M504.0,1214.7 L503.0,1195.1 M343.8,1134.7 L342.5,1119.3 M426.0,1135.5 L426.3,1120.5 M504.0,1137.0 L503.0,1118.3 M344.0,1253.8 L342.9,1273.3 M342.7,1293.5 L342.9,1273.3 M423.4,1255.3 L423.5,1275.5 M422.6,1294.6 L423.5,1275.5 M504.9,1254.9 L504.8,1275.5 M503.9,1294.6 L504.8,1275.5 M322.1,1152.9 L299.0,1155.7 M322.1,1233.2 L299.0,1232.1" stroke="#f80c0c" stroke-width="4.18" fill="none"/>
<path d="M443.2,1235.3 L463.0,1235.5 M484.0,1234.9 L463.0,1235.5" stroke="#0000b4" stroke-width="7.60" fill="none"/>
<path d="M443.2,1235.3 L463.0,1235.5 M484.0,1234.9 L463.0,1235.5" stroke="#0c0cf8" stroke-width="4.18" fill="none"/>
<circle cx="510.2" cy="1148.2" r="4.60" fill="url(#gX)"/>
<circle cx="335.0" cy="1239.6" r="4.60" fill="url(#gX)"/>
<circle cx="429.3" cy="1240.3" r="4.60" fill="url(#gX)"/>
<circle cx="508.7" cy="1241.1" r="4.60" fill="url(#gX)"/>
<circle cx="384.1" cy="1149.0" r="6.60" fill="url(#gO)"/>
<circle cx="464.5" cy="1155.7" r="6.60" fill="url(#gO)"/>
<circle cx="545.4" cy="1158.2" r="6.60" fill="url(#gO)"/>
<circle cx="382.9" cy="1233.6" r="6.60" fill="url(#gO)"/>
<circle cx="544.6" cy="1234.3" r="6.60" fill="url(#gO)"/>
<circle cx="344.7" cy="1193.6" r="6.60" fill="url(#gO)"/>
<circle cx="422.1" cy="1193.6" r="6.60" fill="url(#gO)"/>
<circle cx="503.0" cy="1195.1" r="6.60" fill="url(#gO)"/>
<circle cx="342.5" cy="1119.3" r="6.60" fill="url(#gO)"/>
<circle cx="426.3" cy="1120.5" r="6.60" fill="url(#gO)"/>
<circle cx="503.0" cy="1118.3" r="6.60" fill="url(#gO)"/>
<circle cx="342.9" cy="1273.3" r="6.60" fill="url(#gO)"/>
<circle cx="423.5" cy="1275.5" r="6.60" fill="url(#gO)"/>
<circle cx="504.8" cy="1275.5" r="6.60" fill="url(#gO)"/>
<circle cx="345.2" cy="1150.2" r="7.30" fill="url(#gO)" stroke="#200000" stroke-width="0.9"/>
<circle cx="425.6" cy="1150.5" r="7.30" fill="url(#gO)" stroke="#200000" stroke-width="0.9"/>
<circle cx="505.0" cy="1155.7" r="7.30" fill="url(#gO)" stroke="#200000" stroke-width="0.9"/>
<circle cx="345.2" cy="1234.3" r="7.30" fill="url(#gO)" stroke="#200000" stroke-width="0.9"/>
<circle cx="423.3" cy="1235.1" r="7.30" fill="url(#gO)" stroke="#200000" stroke-width="0.9"/>
<circle cx="505.0" cy="1234.3" r="7.30" fill="url(#gO)" stroke="#200000" stroke-width="0.9"/>
<circle cx="463.0" cy="1235.5" r="6.90" fill="url(#gN)"/>
<circle cx="383.6" cy="1192.7" r="6.90" fill="url(#gLa)"/>
<circle cx="462.0" cy="1194.6" r="6.90" fill="url(#gLa)"/>
<circle cx="544.3" cy="1196.1" r="6.90" fill="url(#gLa)"/>
<circle cx="382.9" cy="1273.3" r="6.90" fill="url(#gLa)"/>
<circle cx="463.5" cy="1274.8" r="6.90" fill="url(#gLa)"/>
<circle cx="543.1" cy="1275.2" r="6.90" fill="url(#gLa)"/>
<circle cx="546.4" cy="1149.7" r="7.00" fill="url(#gLi)"/>
<circle cx="546.1" cy="1227.1" r="7.00" fill="url(#gLi)"/>
<circle cx="346.9" cy="1274.8" r="7.00" fill="url(#gLi)"/>
<circle cx="418.8" cy="1275.2" r="7.00" fill="url(#gLi)"/>
<circle cx="499.7" cy="1274.8" r="7.00" fill="url(#gLi)"/>
</g></g>
<path d="M541.6,1162.4 L505.7,1188.6" stroke="#ffc400" stroke-width="2.40" fill="none" marker-end="url(#ah)"/>
</g>
<g>
<text transform="translate(1108.4,1369.5) scale(1,1.03)" text-anchor="middle" font-size="46.8" >0.0</text>
<text transform="translate(1193.2,1369.5) scale(1,1.03)" text-anchor="middle" font-size="46.8" >0.5</text>
<text transform="translate(1278.1,1369.5) scale(1,1.03)" text-anchor="middle" font-size="46.8" >1.0</text>
<text transform="translate(1362.9,1369.5) scale(1,1.03)" text-anchor="middle" font-size="46.8" >1.5</text>
<text transform="translate(1447.7,1369.5) scale(1,1.03)" text-anchor="middle" font-size="46.8" >2.0</text>
<text transform="translate(1532.5,1369.5) scale(1,1.03)" text-anchor="middle" font-size="46.8" >2.5</text>
<text transform="translate(1617.3,1369.5) scale(1,1.03)" text-anchor="middle" font-size="46.8" >3.0</text>
<text transform="translate(1702.2,1369.5) scale(1,1.03)" text-anchor="middle" font-size="46.8" >3.5</text>
<text transform="translate(1787.0,1369.5) scale(1,1.03)" text-anchor="middle" font-size="46.8" >4.0</text>
<text transform="translate(1088.4,1328.5) scale(1,1.085)" text-anchor="end" font-size="45.2" >0.0</text>
<text transform="translate(1088.4,1237.3) scale(1,1.085)" text-anchor="end" font-size="45.2" >0.1</text>
<text transform="translate(1088.4,1146.1) scale(1,1.085)" text-anchor="end" font-size="45.2" >0.2</text>
<text transform="translate(1088.4,1054.9) scale(1,1.085)" text-anchor="end" font-size="45.2" >0.3</text>
<text transform="translate(1088.4,963.7) scale(1,1.085)" text-anchor="end" font-size="45.2" >0.4</text>
<text transform="translate(1088.4,872.5) scale(1,1.085)" text-anchor="end" font-size="45.2" >0.5</text>
<text transform="translate(1088.4,781.3) scale(1,1.085)" text-anchor="end" font-size="45.2" >0.6</text>
<path d="M1108.4,1315.5 V1329.5 M1150.8,1315.5 V1324.0 M1193.2,1315.5 V1329.5 M1235.6,1315.5 V1324.0 M1278.1,1315.5 V1329.5 M1320.5,1315.5 V1324.0 M1362.9,1315.5 V1329.5 M1405.3,1315.5 V1324.0 M1447.7,1315.5 V1329.5 M1490.1,1315.5 V1324.0 M1532.5,1315.5 V1329.5 M1574.9,1315.5 V1324.0 M1617.3,1315.5 V1329.5 M1659.8,1315.5 V1324.0 M1702.2,1315.5 V1329.5 M1744.6,1315.5 V1324.0 M1787.0,1315.5 V1329.5 M1108.4,1315.5 H1094.4 M1108.4,1269.9 H1099.9 M1108.4,1224.3 H1094.4 M1108.4,1178.7 H1099.9 M1108.4,1133.1 H1094.4 M1108.4,1087.5 H1099.9 M1108.4,1041.9 H1094.4 M1108.4,996.3 H1099.9 M1108.4,950.7 H1094.4 M1108.4,905.1 H1099.9 M1108.4,859.5 H1094.4 M1108.4,813.9 H1099.9 M1108.4,768.3 H1094.4" stroke="#000" stroke-width="5.5" fill="none"/>
<rect x="1108.4" y="768.3" width="678.6" height="547.2" fill="none" stroke="#000" stroke-width="6"/>
<text transform="translate(1447.7,1439.7) scale(1,1.08)" text-anchor="middle" font-size="45.9" >Reaction coordinate (Å)</text>
<text transform="translate(991.5,1029.3) rotate(-90) scale(1,1.11)" text-anchor="middle" font-size="46.5" >Energy (eV)</text>
<text transform="translate(933.8,796.3) scale(1,1.045)" text-anchor="start" font-size="50.4" >(d)</text>
<ellipse cx="1135.2" cy="789.6" rx="8.3" ry="9" fill="#0000ff"/>
<ellipse cx="1135.2" cy="825.6" rx="7.3" ry="7.8" fill="#fff" stroke="#ff0000" stroke-width="3"/>
<text transform="translate(1174.3,798.1) scale(1,1.05)" text-anchor="start" font-size="27" letter-spacing="1" style="font-kerning:none">N-LLTO</text>
<text transform="translate(1174.3,834.1) scale(1,1.05)" text-anchor="start" font-size="27" letter-spacing="1" style="font-kerning:none">LLTO</text>
<clipPath id="cpd"><rect x="1108.4" y="768.3" width="678.6" height="547.2"/></clipPath>
<g clip-path="url(#cpd)">
<ellipse cx="1108.4" cy="1315.5" rx="8.3" ry="9" fill="#0000ff"/>
<ellipse cx="1186.9" cy="1291.9" rx="8.3" ry="9" fill="#0000ff"/>
<ellipse cx="1261.6" cy="1108.0" rx="8.3" ry="9" fill="#0000ff"/>
<ellipse cx="1339.2" cy="911.0" rx="8.3" ry="9" fill="#0000ff"/>
<ellipse cx="1417.5" cy="842.6" rx="8.3" ry="9" fill="#0000ff"/>
<ellipse cx="1489.8" cy="893.0" rx="8.3" ry="9" fill="#0000ff"/>
<ellipse cx="1562.7" cy="980.4" rx="8.3" ry="9" fill="#0000ff"/>
<ellipse cx="1635.0" cy="1061.2" rx="8.3" ry="9" fill="#0000ff"/>
<ellipse cx="1707.6" cy="1109.9" rx="8.3" ry="9" fill="#0000ff"/>
<ellipse cx="1779.5" cy="1130.3" rx="8.3" ry="9" fill="#0000ff"/>
<path d="M1108.4,1315.5 L1112.6,1315.6 L1116.8,1315.8 L1121.1,1316.2 L1125.3,1316.6 L1129.5,1316.9 L1133.7,1317.2 L1137.9,1317.4 L1142.2,1317.4 L1146.4,1317.1 L1150.6,1316.6 L1154.8,1315.7 L1159.0,1314.4 L1163.3,1312.7 L1167.5,1310.4 L1171.7,1307.6 L1175.9,1304.2 L1180.2,1300.0 L1184.4,1295.2 L1186.9,1291.9 L1188.6,1289.5 L1192.8,1283.1 L1197.0,1275.9 L1201.3,1268.0 L1205.5,1259.5 L1209.7,1250.3 L1213.9,1240.6 L1218.1,1230.4 L1222.4,1219.8 L1226.6,1208.7 L1230.8,1197.3 L1235.0,1185.6 L1239.2,1173.6 L1243.5,1161.4 L1247.7,1149.1 L1251.9,1136.7 L1256.1,1124.2 L1260.3,1111.7 L1261.6,1108.0 L1264.6,1099.3 L1268.8,1086.9 L1273.0,1074.6 L1277.2,1062.4 L1281.5,1050.4 L1285.7,1038.6 L1289.9,1026.9 L1294.1,1015.4 L1298.3,1004.1 L1302.6,993.1 L1306.8,982.4 L1311.0,971.9 L1315.2,961.8 L1319.4,952.0 L1323.7,942.5 L1327.9,933.4 L1332.1,924.7 L1336.3,916.4 L1339.2,911.0 L1340.5,908.6 L1344.8,901.1 L1349.0,894.2 L1353.2,887.7 L1357.4,881.6 L1361.6,876.0 L1365.9,870.8 L1370.1,866.1 L1374.3,861.8 L1378.5,857.9 L1382.7,854.5 L1387.0,851.5 L1391.2,848.9 L1395.4,846.8 L1399.6,845.1 L1403.9,843.8 L1408.1,843.0 L1412.3,842.5 L1416.5,842.5 L1417.5,842.6 L1420.7,843.0 L1425.0,843.8 L1429.2,845.0 L1433.4,846.6 L1437.6,848.5 L1441.8,850.7 L1446.1,853.3 L1450.3,856.1 L1454.5,859.2 L1458.7,862.6 L1462.9,866.1 L1467.2,869.9 L1471.4,873.9 L1475.6,878.1 L1479.8,882.4 L1484.0,886.8 L1488.3,891.3 L1489.8,893.0 L1492.5,896.0 L1496.7,900.7 L1500.9,905.5 L1505.2,910.3 L1509.4,915.2 L1513.6,920.2 L1517.8,925.2 L1522.0,930.3 L1526.3,935.4 L1530.5,940.6 L1534.7,945.7 L1538.9,950.9 L1543.1,956.2 L1547.4,961.4 L1551.6,966.6 L1555.8,971.9 L1560.0,977.1 L1562.7,980.4 L1564.2,982.3 L1568.5,987.5 L1572.7,992.7 L1576.9,997.8 L1581.1,1002.9 L1585.3,1008.0 L1589.6,1013.0 L1593.8,1017.9 L1598.0,1022.8 L1602.2,1027.6 L1606.4,1032.3 L1610.7,1036.9 L1614.9,1041.4 L1619.1,1045.8 L1623.3,1050.0 L1627.6,1054.2 L1631.8,1058.2 L1635.0,1061.2 L1636.0,1062.1 L1640.2,1065.8 L1644.4,1069.4 L1648.7,1072.9 L1652.9,1076.2 L1657.1,1079.4 L1661.3,1082.5 L1665.5,1085.5 L1669.8,1088.4 L1674.0,1091.1 L1678.2,1093.8 L1682.4,1096.3 L1686.6,1098.8 L1690.9,1101.2 L1695.1,1103.5 L1699.3,1105.7 L1703.5,1107.9 L1707.6,1109.9 L1707.7,1110.0 L1712.0,1112.0 L1716.2,1114.0 L1720.4,1115.8 L1724.6,1117.6 L1728.9,1119.3 L1733.1,1120.9 L1737.3,1122.5 L1741.5,1123.9 L1745.7,1125.1 L1750.0,1126.3 L1754.2,1127.3 L1758.4,1128.2 L1762.6,1128.9 L1766.8,1129.5 L1771.1,1129.9 L1775.3,1130.2 L1779.5,1130.3" stroke="#0000ff" stroke-width="6.4" fill="none" stroke-linejoin="round" stroke-linecap="round"/>
<ellipse cx="1108.4" cy="1315.5" rx="7.3" ry="7.8" fill="#fff" stroke="#ff0000" stroke-width="3"/>
<ellipse cx="1180.3" cy="1284.8" rx="7.3" ry="7.8" fill="#fff" stroke="#ff0000" stroke-width="3"/>
<ellipse cx="1253.1" cy="1093.5" rx="7.3" ry="7.8" fill="#fff" stroke="#ff0000" stroke-width="3"/>
<ellipse cx="1323.3" cy="860.6" rx="7.3" ry="7.8" fill="#fff" stroke="#ff0000" stroke-width="3"/>
<ellipse cx="1393.1" cy="774.5" rx="7.3" ry="7.8" fill="#fff" stroke="#ff0000" stroke-width="3"/>
<ellipse cx="1460.7" cy="843.4" rx="7.3" ry="7.8" fill="#fff" stroke="#ff0000" stroke-width="3"/>
<ellipse cx="1526.9" cy="952.6" rx="7.3" ry="7.8" fill="#fff" stroke="#ff0000" stroke-width="3"/>
<ellipse cx="1594.5" cy="1037.4" rx="7.3" ry="7.8" fill="#fff" stroke="#ff0000" stroke-width="3"/>
<ellipse cx="1660.8" cy="1096.2" rx="7.3" ry="7.8" fill="#fff" stroke="#ff0000" stroke-width="3"/>
<ellipse cx="1727.8" cy="1118.4" rx="7.3" ry="7.8" fill="#fff" stroke="#ff0000" stroke-width="3"/>
<path d="M1108.4,1315.5 L1112.3,1315.5 L1116.2,1315.6 L1120.1,1315.6 L1124.0,1315.6 L1127.9,1315.4 L1131.8,1315.2 L1135.7,1314.7 L1139.6,1314.1 L1143.5,1313.2 L1147.4,1312.0 L1151.3,1310.4 L1155.1,1308.5 L1159.0,1306.2 L1162.9,1303.5 L1166.8,1300.3 L1170.7,1296.5 L1174.6,1292.2 L1178.5,1287.3 L1180.3,1284.8 L1182.4,1281.7 L1186.3,1275.5 L1190.2,1268.7 L1194.1,1261.3 L1198.0,1253.3 L1201.9,1244.7 L1205.8,1235.7 L1209.7,1226.1 L1213.6,1216.1 L1217.5,1205.7 L1221.4,1194.8 L1225.3,1183.5 L1229.2,1171.8 L1233.1,1159.8 L1237.0,1147.5 L1240.9,1134.9 L1244.7,1122.0 L1248.6,1108.8 L1252.5,1095.4 L1253.1,1093.5 L1256.4,1081.9 L1260.3,1068.2 L1264.2,1054.3 L1268.1,1040.4 L1272.0,1026.5 L1275.9,1012.5 L1279.8,998.7 L1283.7,984.9 L1287.6,971.3 L1291.5,957.8 L1295.4,944.6 L1299.3,931.7 L1303.2,919.1 L1307.1,906.8 L1311.0,895.0 L1314.9,883.5 L1318.8,872.6 L1322.7,862.3 L1323.3,860.6 L1326.6,852.5 L1330.4,843.2 L1334.3,834.6 L1338.2,826.5 L1342.1,819.1 L1346.0,812.2 L1349.9,805.8 L1353.8,800.1 L1357.7,795.0 L1361.6,790.4 L1365.5,786.4 L1369.4,782.9 L1373.3,780.1 L1377.2,777.8 L1381.1,776.1 L1385.0,775.0 L1388.9,774.5 L1392.8,774.5 L1393.1,774.5 L1396.7,775.1 L1400.6,776.2 L1404.5,777.9 L1408.4,780.0 L1412.3,782.6 L1416.2,785.7 L1420.0,789.2 L1423.9,793.0 L1427.8,797.2 L1431.7,801.8 L1435.6,806.6 L1439.5,811.8 L1443.4,817.2 L1447.3,822.8 L1451.2,828.6 L1455.1,834.6 L1459.0,840.7 L1460.7,843.4 L1462.9,846.9 L1466.8,853.3 L1470.7,859.7 L1474.6,866.2 L1478.5,872.8 L1482.4,879.3 L1486.3,886.0 L1490.2,892.6 L1494.1,899.2 L1498.0,905.8 L1501.9,912.3 L1505.8,918.8 L1509.6,925.3 L1513.5,931.6 L1517.4,937.9 L1521.3,944.0 L1525.2,950.1 L1526.9,952.6 L1529.1,955.9 L1533.0,961.7 L1536.9,967.3 L1540.8,972.7 L1544.7,978.1 L1548.6,983.3 L1552.5,988.4 L1556.4,993.4 L1560.3,998.3 L1564.2,1003.1 L1568.1,1007.7 L1572.0,1012.3 L1575.9,1016.8 L1579.8,1021.3 L1583.7,1025.6 L1587.6,1029.9 L1591.5,1034.1 L1594.5,1037.4 L1595.3,1038.3 L1599.2,1042.4 L1603.1,1046.5 L1607.0,1050.4 L1610.9,1054.4 L1614.8,1058.2 L1618.7,1062.0 L1622.6,1065.6 L1626.5,1069.2 L1630.4,1072.7 L1634.3,1076.1 L1638.2,1079.4 L1642.1,1082.6 L1646.0,1085.7 L1649.9,1088.6 L1653.8,1091.4 L1657.7,1094.1 L1660.8,1096.2 L1661.6,1096.7 L1665.5,1099.1 L1669.4,1101.4 L1673.3,1103.6 L1677.2,1105.6 L1681.1,1107.4 L1684.9,1109.2 L1688.8,1110.8 L1692.7,1112.2 L1696.6,1113.5 L1700.5,1114.6 L1704.4,1115.6 L1708.3,1116.5 L1712.2,1117.2 L1716.1,1117.7 L1720.0,1118.1 L1723.9,1118.3 L1727.8,1118.4" stroke="#ff0000" stroke-width="6.4" fill="none" stroke-linejoin="round" stroke-linecap="round"/>
</g>
<clipPath id="cid1"><rect x="1549.0" y="775.0" width="227.9" height="156.7"/></clipPath>
<rect x="1548.5" y="774.5" width="228.9" height="157.7" fill="#000" stroke="#fff" stroke-width="3"/>
<rect x="1549.0" y="775.0" width="227.9" height="156.7" fill="#000"/>
<g clip-path="url(#cid1)"><g filter="url(#bl)">
<path d="M1553.6,919.7 L1773.5,919.7 M1757.6,777.4 L1757.6,919.7" stroke="#b8b8b8" stroke-width="1.15" stroke-dasharray="5 4.4" fill="none"/>
<path d="M1567.4,799.9 L1587.0,799.6 M1643.6,800.7 L1625.1,799.9 M1643.6,800.7 L1662.8,802.3 M1716.9,803.6 L1699.5,803.8 M1716.9,803.6 L1737.2,803.6 M1803.3,802.8 L1780.4,803.2 M1568.9,879.8 L1587.7,878.7 M1642.9,880.5 L1624.7,879.0 M1718.4,879.0 L1738.3,878.3 M1803.3,877.6 L1780.8,877.6 M1567.4,799.9 L1568.5,820.3 M1568.9,879.8 L1569.2,860.2 M1643.6,800.7 L1644.0,820.6 M1642.9,880.5 L1643.6,860.5 M1716.9,803.6 L1718.4,822.1 M1718.4,879.0 L1719.1,859.8 M1567.4,799.9 L1567.8,785.1 M1643.6,800.7 L1644.7,785.4 M1716.9,803.6 L1717.6,785.8 M1568.9,879.8 L1569.5,898.3 M1569.6,956.7 L1569.8,936.7 M1642.9,880.5 L1643.5,898.6 M1643.6,956.7 L1643.9,936.7 M1718.4,879.0 L1719.7,897.9 M1722.0,956.7 L1721.5,936.7 M1642.9,880.5 L1662.5,880.5 M1718.4,879.0 L1700.2,879.8 M1567.4,799.9 L1547.4,802.1 M1568.9,879.8 L1548.2,879.4" stroke="#7c7c7c" stroke-width="7.60" fill="none"/>
<path d="M1567.4,799.9 L1587.0,799.6 M1643.6,800.7 L1625.1,799.9 M1643.6,800.7 L1662.8,802.3 M1716.9,803.6 L1699.5,803.8 M1716.9,803.6 L1737.2,803.6 M1803.3,802.8 L1780.4,803.2 M1568.9,879.8 L1587.7,878.7 M1642.9,880.5 L1624.7,879.0 M1718.4,879.0 L1738.3,878.3 M1803.3,877.6 L1780.8,877.6 M1567.4,799.9 L1568.5,820.3 M1568.9,879.8 L1569.2,860.2 M1643.6,800.7 L1644.0,820.6 M1642.9,880.5 L1643.6,860.5 M1716.9,803.6 L1718.4,822.1 M1718.4,879.0 L1719.1,859.8 M1567.4,799.9 L1567.8,785.1 M1643.6,800.7 L1644.7,785.4 M1716.9,803.6 L1717.6,785.8 M1568.9,879.8 L1569.5,898.3 M1569.6,956.7 L1569.8,936.7 M1642.9,880.5 L1643.5,898.6 M1643.6,956.7 L1643.9,936.7 M1718.4,879.0 L1719.7,897.9 M1722.0,956.7 L1721.5,936.7 M1642.9,880.5 L1662.5,880.5 M1718.4,879.0 L1700.2,879.8 M1567.4,799.9 L1547.4,802.1 M1568.9,879.8 L1548.2,879.4" stroke="#c4c4c4" stroke-width="4.18" fill="none"/>
<path d="M1587.0,799.6 L1606.6,799.2 M1625.1,799.9 L1606.6,799.2 M1662.8,802.3 L1682.1,804.0 M1699.5,803.8 L1682.1,804.0 M1737.2,803.6 L1757.6,803.6 M1780.4,803.2 L1757.6,803.6 M1587.7,878.7 L1606.6,877.6 M1624.7,879.0 L1606.6,877.6 M1738.3,878.3 L1758.3,877.6 M1780.8,877.6 L1758.3,877.6 M1568.5,820.3 L1569.6,840.6 M1569.2,860.2 L1569.6,840.6 M1644.0,820.6 L1644.3,840.6 M1643.6,860.5 L1644.3,840.6 M1718.4,822.1 L1719.8,840.6 M1719.1,859.8 L1719.8,840.6 M1567.8,785.1 L1568.1,770.2 M1644.7,785.4 L1645.8,770.2 M1717.6,785.8 L1718.4,768.0 M1569.5,898.3 L1570.1,916.8 M1569.8,936.7 L1570.1,916.8 M1643.5,898.6 L1644.1,916.8 M1643.9,936.7 L1644.1,916.8 M1719.7,897.9 L1721.0,916.8 M1721.5,936.7 L1721.0,916.8 M1547.4,802.1 L1527.5,804.3 M1548.2,879.4 L1527.5,879.0" stroke="#b80000" stroke-width="7.60" fill="none"/>
<path d="M1587.0,799.6 L1606.6,799.2 M1625.1,799.9 L1606.6,799.2 M1662.8,802.3 L1682.1,804.0 M1699.5,803.8 L1682.1,804.0 M1737.2,803.6 L1757.6,803.6 M1780.4,803.2 L1757.6,803.6 M1587.7,878.7 L1606.6,877.6 M1624.7,879.0 L1606.6,877.6 M1738.3,878.3 L1758.3,877.6 M1780.8,877.6 L1758.3,877.6 M1568.5,820.3 L1569.6,840.6 M1569.2,860.2 L1569.6,840.6 M1644.0,820.6 L1644.3,840.6 M1643.6,860.5 L1644.3,840.6 M1718.4,822.1 L1719.8,840.6 M1719.1,859.8 L1719.8,840.6 M1567.8,785.1 L1568.1,770.2 M1644.7,785.4 L1645.8,770.2 M1717.6,785.8 L1718.4,768.0 M1569.5,898.3 L1570.1,916.8 M1569.8,936.7 L1570.1,916.8 M1643.5,898.6 L1644.1,916.8 M1643.9,936.7 L1644.1,916.8 M1719.7,897.9 L1721.0,916.8 M1721.5,936.7 L1721.0,916.8 M1547.4,802.1 L1527.5,804.3 M1548.2,879.4 L1527.5,879.0" stroke="#f80c0c" stroke-width="4.18" fill="none"/>
<path d="M1662.5,880.5 L1682.1,880.5 M1700.2,879.8 L1682.1,880.5" stroke="#0000b4" stroke-width="7.60" fill="none"/>
<path d="M1662.5,880.5 L1682.1,880.5 M1700.2,879.8 L1682.1,880.5" stroke="#0c0cf8" stroke-width="4.18" fill="none"/>
<circle cx="1650.9" cy="886.3" r="4.60" fill="url(#gX)"/>
<circle cx="1636.4" cy="799.2" r="4.60" fill="url(#gX)"/>
<circle cx="1606.6" cy="799.2" r="6.60" fill="url(#gO)"/>
<circle cx="1682.1" cy="804.0" r="6.60" fill="url(#gO)"/>
<circle cx="1757.6" cy="803.6" r="6.60" fill="url(#gO)"/>
<circle cx="1606.6" cy="877.6" r="6.60" fill="url(#gO)"/>
<circle cx="1758.3" cy="877.6" r="6.60" fill="url(#gO)"/>
<circle cx="1569.6" cy="840.6" r="6.60" fill="url(#gO)"/>
<circle cx="1644.3" cy="840.6" r="6.60" fill="url(#gO)"/>
<circle cx="1719.8" cy="840.6" r="6.60" fill="url(#gO)"/>
<circle cx="1568.1" cy="770.2" r="6.60" fill="url(#gO)"/>
<circle cx="1645.8" cy="770.2" r="6.60" fill="url(#gO)"/>
<circle cx="1718.4" cy="768.0" r="6.60" fill="url(#gO)"/>
<circle cx="1570.1" cy="916.8" r="6.60" fill="url(#gO)"/>
<circle cx="1644.1" cy="916.8" r="6.60" fill="url(#gO)"/>
<circle cx="1721.0" cy="916.8" r="6.60" fill="url(#gO)"/>
<circle cx="1567.4" cy="799.9" r="7.30" fill="url(#gO)" stroke="#200000" stroke-width="0.9"/>
<circle cx="1643.6" cy="800.7" r="7.30" fill="url(#gO)" stroke="#200000" stroke-width="0.9"/>
<circle cx="1716.9" cy="803.6" r="7.30" fill="url(#gO)" stroke="#200000" stroke-width="0.9"/>
<circle cx="1568.9" cy="879.8" r="7.30" fill="url(#gO)" stroke="#200000" stroke-width="0.9"/>
<circle cx="1642.9" cy="880.5" r="7.30" fill="url(#gO)" stroke="#200000" stroke-width="0.9"/>
<circle cx="1718.4" cy="879.0" r="7.30" fill="url(#gO)" stroke="#200000" stroke-width="0.9"/>
<circle cx="1682.1" cy="880.5" r="6.90" fill="url(#gN)"/>
<circle cx="1607.3" cy="840.6" r="6.90" fill="url(#gLa)"/>
<circle cx="1682.5" cy="842.0" r="6.90" fill="url(#gLa)"/>
<circle cx="1759.7" cy="840.6" r="6.90" fill="url(#gLa)"/>
<circle cx="1608.0" cy="914.6" r="6.90" fill="url(#gLa)"/>
<circle cx="1684.0" cy="915.8" r="6.90" fill="url(#gLa)"/>
<circle cx="1761.2" cy="915.3" r="6.90" fill="url(#gLa)"/>
<circle cx="1756.8" cy="798.5" r="7.00" fill="url(#gLi)"/>
<circle cx="1709.7" cy="842.0" r="7.00" fill="url(#gLi)"/>
<circle cx="1564.1" cy="918.2" r="7.00" fill="url(#gLi)"/>
<circle cx="1634.2" cy="918.2" r="7.00" fill="url(#gLi)"/>
<circle cx="1711.1" cy="917.5" r="7.00" fill="url(#gLi)"/>
</g></g>
<ellipse cx="1752.5" cy="802.5" rx="30.5" ry="13.4" fill="none" stroke="#d6d61c" stroke-width="1.5"/>
<ellipse cx="1713.7" cy="840.6" rx="13.4" ry="31.2" fill="none" stroke="#d6d61c" stroke-width="1.5"/>
<clipPath id="cid2"><rect x="1256.9" y="1141.9" width="232.8" height="156.2"/></clipPath>
<rect x="1256.4" y="1141.4" width="233.8" height="157.2" fill="#000" stroke="#fff" stroke-width="3"/>
<rect x="1256.9" y="1141.9" width="232.8" height="156.2" fill="#000"/>
<g clip-path="url(#cid2)"><g filter="url(#bl)">
<path d="M1264.3,1280.4 L1486.4,1280.4 M1471.1,1143.6 L1471.1,1280.4" stroke="#b8b8b8" stroke-width="1.15" stroke-dasharray="5 4.4" fill="none"/>
<path d="M1279.7,1160.4 L1298.3,1159.9 M1356.4,1160.7 L1336.6,1160.0 M1356.4,1160.7 L1374.9,1163.2 M1431.7,1165.7 L1412.5,1165.7 M1431.7,1165.7 L1450.9,1166.8 M1507.1,1167.1 L1488.6,1167.5 M1279.7,1240.0 L1297.7,1239.6 M1354.3,1241.0 L1335.0,1240.1 M1431.7,1240.7 L1450.7,1240.7 M1507.1,1239.6 L1488.4,1240.1 M1279.7,1160.4 L1279.5,1180.9 M1279.7,1240.0 L1279.5,1220.7 M1356.4,1160.7 L1354.6,1181.3 M1354.3,1241.0 L1353.6,1221.4 M1431.7,1165.7 L1430.7,1184.3 M1431.7,1240.7 L1430.7,1221.8 M1279.7,1160.4 L1278.4,1145.7 M1356.4,1160.7 L1356.4,1146.4 M1431.7,1165.7 L1430.9,1147.9 M1279.7,1240.0 L1278.7,1258.9 M1277.1,1320.7 L1277.4,1299.3 M1354.3,1241.0 L1354.2,1260.1 M1352.1,1320.7 L1353.1,1300.0 M1431.7,1240.7 L1431.8,1260.0 M1430.3,1320.7 L1431.1,1300.0 M1354.3,1241.0 L1373.1,1241.0 M1431.7,1240.7 L1411.8,1240.9 M1279.7,1160.4 L1257.7,1163.1 M1279.7,1240.0 L1257.7,1238.9" stroke="#7c7c7c" stroke-width="7.60" fill="none"/>
<path d="M1279.7,1160.4 L1298.3,1159.9 M1356.4,1160.7 L1336.6,1160.0 M1356.4,1160.7 L1374.9,1163.2 M1431.7,1165.7 L1412.5,1165.7 M1431.7,1165.7 L1450.9,1166.8 M1507.1,1167.1 L1488.6,1167.5 M1279.7,1240.0 L1297.7,1239.6 M1354.3,1241.0 L1335.0,1240.1 M1431.7,1240.7 L1450.7,1240.7 M1507.1,1239.6 L1488.4,1240.1 M1279.7,1160.4 L1279.5,1180.9 M1279.7,1240.0 L1279.5,1220.7 M1356.4,1160.7 L1354.6,1181.3 M1354.3,1241.0 L1353.6,1221.4 M1431.7,1165.7 L1430.7,1184.3 M1431.7,1240.7 L1430.7,1221.8 M1279.7,1160.4 L1278.4,1145.7 M1356.4,1160.7 L1356.4,1146.4 M1431.7,1165.7 L1430.9,1147.9 M1279.7,1240.0 L1278.7,1258.9 M1277.1,1320.7 L1277.4,1299.3 M1354.3,1241.0 L1354.2,1260.1 M1352.1,1320.7 L1353.1,1300.0 M1431.7,1240.7 L1431.8,1260.0 M1430.3,1320.7 L1431.1,1300.0 M1354.3,1241.0 L1373.1,1241.0 M1431.7,1240.7 L1411.8,1240.9 M1279.7,1160.4 L1257.7,1163.1 M1279.7,1240.0 L1257.7,1238.9" stroke="#c4c4c4" stroke-width="4.18" fill="none"/>
<path d="M1298.3,1159.9 L1316.9,1159.3 M1336.6,1160.0 L1316.9,1159.3 M1374.9,1163.2 L1393.3,1165.7 M1412.5,1165.7 L1393.3,1165.7 M1450.9,1166.8 L1470.0,1167.9 M1488.6,1167.5 L1470.0,1167.9 M1297.7,1239.6 L1315.7,1239.3 M1335.0,1240.1 L1315.7,1239.3 M1450.7,1240.7 L1469.7,1240.7 M1488.4,1240.1 L1469.7,1240.7 M1279.5,1180.9 L1279.3,1201.4 M1279.5,1220.7 L1279.3,1201.4 M1354.6,1181.3 L1352.9,1201.9 M1353.6,1221.4 L1352.9,1201.9 M1430.7,1184.3 L1429.7,1202.9 M1430.7,1221.8 L1429.7,1202.9 M1278.4,1145.7 L1277.1,1131.0 M1356.4,1146.4 L1356.4,1132.1 M1430.9,1147.9 L1430.0,1130.0 M1278.7,1258.9 L1277.7,1277.9 M1277.4,1299.3 L1277.7,1277.9 M1354.2,1260.1 L1354.1,1279.3 M1353.1,1300.0 L1354.1,1279.3 M1431.8,1260.0 L1431.9,1279.3 M1431.1,1300.0 L1431.9,1279.3 M1257.7,1163.1 L1235.7,1165.7 M1257.7,1238.9 L1235.7,1237.9" stroke="#b80000" stroke-width="7.60" fill="none"/>
<path d="M1298.3,1159.9 L1316.9,1159.3 M1336.6,1160.0 L1316.9,1159.3 M1374.9,1163.2 L1393.3,1165.7 M1412.5,1165.7 L1393.3,1165.7 M1450.9,1166.8 L1470.0,1167.9 M1488.6,1167.5 L1470.0,1167.9 M1297.7,1239.6 L1315.7,1239.3 M1335.0,1240.1 L1315.7,1239.3 M1450.7,1240.7 L1469.7,1240.7 M1488.4,1240.1 L1469.7,1240.7 M1279.5,1180.9 L1279.3,1201.4 M1279.5,1220.7 L1279.3,1201.4 M1354.6,1181.3 L1352.9,1201.9 M1353.6,1221.4 L1352.9,1201.9 M1430.7,1184.3 L1429.7,1202.9 M1430.7,1221.8 L1429.7,1202.9 M1278.4,1145.7 L1277.1,1131.0 M1356.4,1146.4 L1356.4,1132.1 M1430.9,1147.9 L1430.0,1130.0 M1278.7,1258.9 L1277.7,1277.9 M1277.4,1299.3 L1277.7,1277.9 M1354.2,1260.1 L1354.1,1279.3 M1353.1,1300.0 L1354.1,1279.3 M1431.8,1260.0 L1431.9,1279.3 M1431.1,1300.0 L1431.9,1279.3 M1257.7,1163.1 L1235.7,1165.7 M1257.7,1238.9 L1235.7,1237.9" stroke="#f80c0c" stroke-width="4.18" fill="none"/>
<path d="M1373.1,1241.0 L1391.9,1241.0 M1411.8,1240.9 L1391.9,1241.0" stroke="#0000b4" stroke-width="7.60" fill="none"/>
<path d="M1373.1,1241.0 L1391.9,1241.0 M1411.8,1240.9 L1391.9,1241.0" stroke="#0c0cf8" stroke-width="4.18" fill="none"/>
<circle cx="1437.1" cy="1158.6" r="4.60" fill="url(#gX)"/>
<circle cx="1270.0" cy="1245.7" r="4.60" fill="url(#gX)"/>
<circle cx="1360.0" cy="1246.4" r="4.60" fill="url(#gX)"/>
<circle cx="1435.7" cy="1247.1" r="4.60" fill="url(#gX)"/>
<circle cx="1316.9" cy="1159.3" r="6.60" fill="url(#gO)"/>
<circle cx="1393.3" cy="1165.7" r="6.60" fill="url(#gO)"/>
<circle cx="1470.0" cy="1167.9" r="6.60" fill="url(#gO)"/>
<circle cx="1315.7" cy="1239.3" r="6.60" fill="url(#gO)"/>
<circle cx="1469.7" cy="1240.7" r="6.60" fill="url(#gO)"/>
<circle cx="1279.3" cy="1201.4" r="6.60" fill="url(#gO)"/>
<circle cx="1352.9" cy="1201.9" r="6.60" fill="url(#gO)"/>
<circle cx="1429.7" cy="1202.9" r="6.60" fill="url(#gO)"/>
<circle cx="1277.1" cy="1131.0" r="6.60" fill="url(#gO)"/>
<circle cx="1356.4" cy="1132.1" r="6.60" fill="url(#gO)"/>
<circle cx="1430.0" cy="1130.0" r="6.60" fill="url(#gO)"/>
<circle cx="1277.7" cy="1277.9" r="6.60" fill="url(#gO)"/>
<circle cx="1354.1" cy="1279.3" r="6.60" fill="url(#gO)"/>
<circle cx="1431.9" cy="1279.3" r="6.60" fill="url(#gO)"/>
<circle cx="1279.7" cy="1160.4" r="7.30" fill="url(#gO)" stroke="#200000" stroke-width="0.9"/>
<circle cx="1356.4" cy="1160.7" r="7.30" fill="url(#gO)" stroke="#200000" stroke-width="0.9"/>
<circle cx="1431.7" cy="1165.7" r="7.30" fill="url(#gO)" stroke="#200000" stroke-width="0.9"/>
<circle cx="1279.7" cy="1240.0" r="7.30" fill="url(#gO)" stroke="#200000" stroke-width="0.9"/>
<circle cx="1354.3" cy="1241.0" r="7.30" fill="url(#gO)" stroke="#200000" stroke-width="0.9"/>
<circle cx="1431.7" cy="1240.7" r="7.30" fill="url(#gO)" stroke="#200000" stroke-width="0.9"/>
<circle cx="1391.9" cy="1241.0" r="6.90" fill="url(#gN)"/>
<circle cx="1316.4" cy="1200.7" r="6.90" fill="url(#gLa)"/>
<circle cx="1390.4" cy="1202.9" r="6.90" fill="url(#gLa)"/>
<circle cx="1469.0" cy="1204.3" r="6.90" fill="url(#gLa)"/>
<circle cx="1315.7" cy="1277.1" r="6.90" fill="url(#gLa)"/>
<circle cx="1392.1" cy="1278.6" r="6.90" fill="url(#gLa)"/>
<circle cx="1467.9" cy="1279.3" r="6.90" fill="url(#gLa)"/>
<circle cx="1471.0" cy="1160.0" r="7.00" fill="url(#gLi)"/>
<circle cx="1470.7" cy="1233.6" r="7.00" fill="url(#gLi)"/>
<circle cx="1281.1" cy="1278.6" r="7.00" fill="url(#gLi)"/>
<circle cx="1350.0" cy="1279.0" r="7.00" fill="url(#gLi)"/>
<circle cx="1426.9" cy="1278.6" r="7.00" fill="url(#gLi)"/>
</g></g>
<path d="M1465.7,1229.3 L1438.6,1207.1" stroke="#ffc400" stroke-width="2.40" fill="none" marker-end="url(#ah)"/>
</g>
<g>
<text transform="translate(174.0,2117.5) scale(1,1.03)" text-anchor="middle" font-size="46.8" >0.0</text>
<text transform="translate(249.4,2117.5) scale(1,1.03)" text-anchor="middle" font-size="46.8" >0.5</text>
<text transform="translate(324.8,2117.5) scale(1,1.03)" text-anchor="middle" font-size="46.8" >1.0</text>
<text transform="translate(400.1,2117.5) scale(1,1.03)" text-anchor="middle" font-size="46.8" >1.5</text>
<text transform="translate(475.5,2117.5) scale(1,1.03)" text-anchor="middle" font-size="46.8" >2.0</text>
<text transform="translate(550.9,2117.5) scale(1,1.03)" text-anchor="middle" font-size="46.8" >2.5</text>
<text transform="translate(626.3,2117.5) scale(1,1.03)" text-anchor="middle" font-size="46.8" >3.0</text>
<text transform="translate(701.6,2117.5) scale(1,1.03)" text-anchor="middle" font-size="46.8" >3.5</text>
<text transform="translate(777.0,2117.5) scale(1,1.03)" text-anchor="middle" font-size="46.8" >4.0</text>
<text transform="translate(852.4,2117.5) scale(1,1.03)" text-anchor="middle" font-size="46.8" >4.5</text>
<text transform="translate(154.0,2076.5) scale(1,1.085)" text-anchor="end" font-size="45.2" >-0.1</text>
<text transform="translate(154.0,1985.6) scale(1,1.085)" text-anchor="end" font-size="45.2" >0.0</text>
<text transform="translate(154.0,1894.7) scale(1,1.085)" text-anchor="end" font-size="45.2" >0.1</text>
<text transform="translate(154.0,1803.8) scale(1,1.085)" text-anchor="end" font-size="45.2" >0.2</text>
<text transform="translate(154.0,1712.8) scale(1,1.085)" text-anchor="end" font-size="45.2" >0.3</text>
<text transform="translate(154.0,1621.9) scale(1,1.085)" text-anchor="end" font-size="45.2" >0.4</text>
<text transform="translate(154.0,1531.0) scale(1,1.085)" text-anchor="end" font-size="45.2" >0.5</text>
<path d="M174.0,2063.5 V2077.5 M211.7,2063.5 V2072.0 M249.4,2063.5 V2077.5 M287.1,2063.5 V2072.0 M324.8,2063.5 V2077.5 M362.4,2063.5 V2072.0 M400.1,2063.5 V2077.5 M437.8,2063.5 V2072.0 M475.5,2063.5 V2077.5 M513.2,2063.5 V2072.0 M550.9,2063.5 V2077.5 M588.6,2063.5 V2072.0 M626.3,2063.5 V2077.5 M664.0,2063.5 V2072.0 M701.6,2063.5 V2077.5 M739.3,2063.5 V2072.0 M777.0,2063.5 V2077.5 M814.7,2063.5 V2072.0 M852.4,2063.5 V2077.5 M174.0,2063.5 H160.0 M174.0,2018.0 H165.5 M174.0,1972.6 H160.0 M174.0,1927.1 H165.5 M174.0,1881.7 H160.0 M174.0,1836.2 H165.5 M174.0,1790.8 H160.0 M174.0,1745.3 H165.5 M174.0,1699.8 H160.0 M174.0,1654.4 H165.5 M174.0,1608.9 H160.0 M174.0,1563.5 H165.5 M174.0,1518.0 H160.0" stroke="#000" stroke-width="5.5" fill="none"/>
<rect x="174.0" y="1518.0" width="678.4" height="545.5" fill="none" stroke="#000" stroke-width="6"/>
<text transform="translate(513.2,2187.7) scale(1,1.08)" text-anchor="middle" font-size="45.9" >Reaction coordinate (Å)</text>
<text transform="translate(41.8,1777.2) rotate(-90) scale(1,1.11)" text-anchor="middle" font-size="46.5" >Energy (eV)</text>
<text transform="translate(7.3,1533.7) scale(1,1.045)" text-anchor="start" font-size="50.4" >(e)</text>
<ellipse cx="200.6" cy="1538.4" rx="8.3" ry="9" fill="#0000ff"/>
<ellipse cx="200.6" cy="1574.4" rx="7.3" ry="7.8" fill="#fff" stroke="#ff0000" stroke-width="3"/>
<text transform="translate(239.7,1546.9) scale(1,1.05)" text-anchor="start" font-size="27" letter-spacing="1" style="font-kerning:none">N-LLTO</text>
<text transform="translate(239.7,1582.9) scale(1,1.05)" text-anchor="start" font-size="27" letter-spacing="1" style="font-kerning:none">LLTO</text>
<clipPath id="cpe"><rect x="174.0" y="1518.0" width="678.4" height="545.5"/></clipPath>
<g clip-path="url(#cpe)">
<ellipse cx="174.0" cy="1972.6" rx="8.3" ry="9" fill="#0000ff"/>
<ellipse cx="251.9" cy="1945.5" rx="8.3" ry="9" fill="#0000ff"/>
<ellipse cx="330.2" cy="1856.5" rx="8.3" ry="9" fill="#0000ff"/>
<ellipse cx="410.2" cy="1660.8" rx="8.3" ry="9" fill="#0000ff"/>
<ellipse cx="488.4" cy="1552.1" rx="8.3" ry="9" fill="#0000ff"/>
<ellipse cx="558.6" cy="1631.1" rx="8.3" ry="9" fill="#0000ff"/>
<ellipse cx="624.3" cy="1778.7" rx="8.3" ry="9" fill="#0000ff"/>
<ellipse cx="691.7" cy="1867.9" rx="8.3" ry="9" fill="#0000ff"/>
<ellipse cx="758.2" cy="1924.6" rx="8.3" ry="9" fill="#0000ff"/>
<ellipse cx="824.1" cy="1955.9" rx="8.3" ry="9" fill="#0000ff"/>
<path d="M174.0,1972.6 L178.1,1972.5 L182.2,1972.2 L186.3,1971.7 L190.4,1971.0 L194.4,1970.2 L198.5,1969.2 L202.6,1968.0 L206.7,1966.7 L210.8,1965.3 L214.9,1963.7 L219.0,1962.0 L223.1,1960.2 L227.2,1958.2 L231.2,1956.2 L235.3,1954.1 L239.4,1951.9 L243.5,1949.6 L247.6,1947.2 L251.7,1944.8 L251.7,1944.8 L255.8,1942.3 L259.9,1939.8 L264.0,1937.1 L268.0,1934.4 L272.1,1931.4 L276.2,1928.3 L280.3,1925.0 L284.4,1921.5 L288.5,1917.8 L292.6,1913.7 L296.7,1909.4 L300.7,1904.8 L304.8,1899.8 L308.9,1894.5 L313.0,1888.8 L317.1,1882.6 L321.2,1876.1 L325.3,1869.0 L329.4,1861.5 L329.9,1860.5 L333.5,1853.5 L337.5,1845.0 L341.6,1836.1 L345.7,1826.8 L349.8,1817.1 L353.9,1807.1 L358.0,1796.9 L362.1,1786.5 L366.2,1775.8 L370.3,1765.0 L374.3,1754.1 L378.4,1743.2 L382.5,1732.2 L386.6,1721.3 L390.7,1710.4 L394.8,1699.7 L398.9,1689.1 L403.0,1678.6 L407.1,1668.5 L410.2,1660.8 L411.1,1658.5 L415.2,1648.9 L419.3,1639.7 L423.4,1630.7 L427.5,1622.2 L431.6,1614.0 L435.7,1606.3 L439.8,1599.0 L443.9,1592.1 L447.9,1585.7 L452.0,1579.8 L456.1,1574.4 L460.2,1569.5 L464.3,1565.2 L468.4,1561.5 L472.5,1558.3 L476.6,1555.8 L480.7,1553.9 L484.7,1552.7 L488.4,1552.1 L488.8,1552.1 L492.9,1552.2 L497.0,1552.9 L501.1,1554.4 L505.2,1556.4 L509.3,1559.1 L513.4,1562.3 L517.4,1566.1 L521.5,1570.4 L525.6,1575.3 L529.7,1580.7 L533.8,1586.5 L537.9,1592.8 L542.0,1599.6 L546.1,1606.7 L550.2,1614.3 L554.2,1622.2 L558.3,1630.6 L558.6,1631.1 L562.4,1639.2 L566.5,1648.1 L570.6,1657.3 L574.7,1666.7 L578.8,1676.2 L582.9,1685.8 L587.0,1695.5 L591.0,1705.2 L595.1,1714.9 L599.2,1724.5 L603.3,1733.9 L607.4,1743.2 L611.5,1752.3 L615.6,1761.1 L619.7,1769.5 L623.8,1777.6 L624.3,1778.7 L627.8,1785.4 L631.9,1792.7 L636.0,1799.6 L640.1,1806.2 L644.2,1812.5 L648.3,1818.4 L652.4,1824.0 L656.5,1829.4 L660.6,1834.6 L664.6,1839.5 L668.7,1844.2 L672.8,1848.7 L676.9,1853.1 L681.0,1857.3 L685.1,1861.4 L689.2,1865.5 L691.7,1867.9 L693.3,1869.4 L697.4,1873.3 L701.4,1877.1 L705.5,1880.9 L709.6,1884.6 L713.7,1888.2 L717.8,1891.8 L721.9,1895.4 L726.0,1898.8 L730.1,1902.3 L734.1,1905.7 L738.2,1909.0 L742.3,1912.3 L746.4,1915.5 L750.5,1918.7 L754.6,1921.9 L758.2,1924.6 L758.7,1925.0 L762.8,1928.0 L766.9,1931.0 L770.9,1933.9 L775.0,1936.7 L779.1,1939.4 L783.2,1942.0 L787.3,1944.4 L791.4,1946.6 L795.5,1948.6 L799.6,1950.4 L803.7,1952.0 L807.7,1953.4 L811.8,1954.5 L815.9,1955.2 L820.0,1955.7 L824.1,1955.9" stroke="#0000ff" stroke-width="6.4" fill="none" stroke-linejoin="round" stroke-linecap="round"/>
<ellipse cx="174.0" cy="1972.6" rx="7.3" ry="7.8" fill="#fff" stroke="#ff0000" stroke-width="3"/>
<ellipse cx="254.4" cy="1953.0" rx="7.3" ry="7.8" fill="#fff" stroke="#ff0000" stroke-width="3"/>
<ellipse cx="333.4" cy="1869.5" rx="7.3" ry="7.8" fill="#fff" stroke="#ff0000" stroke-width="3"/>
<ellipse cx="408.0" cy="1666.6" rx="7.3" ry="7.8" fill="#fff" stroke="#ff0000" stroke-width="3"/>
<ellipse cx="485.8" cy="1546.8" rx="7.3" ry="7.8" fill="#fff" stroke="#ff0000" stroke-width="3"/>
<ellipse cx="548.6" cy="1636.9" rx="7.3" ry="7.8" fill="#fff" stroke="#ff0000" stroke-width="3"/>
<ellipse cx="613.5" cy="1799.1" rx="7.3" ry="7.8" fill="#fff" stroke="#ff0000" stroke-width="3"/>
<ellipse cx="678.4" cy="1911.7" rx="7.3" ry="7.8" fill="#fff" stroke="#ff0000" stroke-width="3"/>
<ellipse cx="742.8" cy="1963.9" rx="7.3" ry="7.8" fill="#fff" stroke="#ff0000" stroke-width="3"/>
<ellipse cx="807.2" cy="1985.6" rx="7.3" ry="7.8" fill="#fff" stroke="#ff0000" stroke-width="3"/>
<path d="M174.0,1972.6 L178.0,1972.5 L182.0,1972.3 L185.9,1971.9 L189.9,1971.4 L193.9,1970.8 L197.9,1970.0 L201.9,1969.1 L205.9,1968.0 L209.8,1966.9 L213.8,1965.6 L217.8,1964.2 L221.8,1962.7 L225.8,1961.1 L229.8,1959.4 L233.7,1957.6 L237.7,1955.8 L241.7,1953.8 L245.7,1951.7 L249.7,1949.6 L253.6,1947.4 L254.4,1947.0 L257.6,1945.2 L261.6,1942.8 L265.6,1940.3 L269.6,1937.7 L273.6,1935.0 L277.5,1932.1 L281.5,1928.9 L285.5,1925.6 L289.5,1922.0 L293.5,1918.2 L297.5,1914.1 L301.4,1909.6 L305.4,1904.9 L309.4,1899.7 L313.4,1894.3 L317.4,1888.4 L321.3,1882.1 L325.3,1875.3 L329.3,1868.1 L332.5,1862.0 L333.3,1860.4 L337.3,1852.2 L341.3,1843.6 L345.2,1834.6 L349.2,1825.1 L353.2,1815.3 L357.2,1805.3 L361.2,1794.9 L365.2,1784.4 L369.1,1773.6 L373.1,1762.7 L377.1,1751.7 L381.1,1740.6 L385.1,1729.4 L389.0,1718.3 L393.0,1707.2 L397.0,1696.2 L401.0,1685.3 L405.0,1674.6 L408.0,1666.6 L409.0,1664.1 L412.9,1653.8 L416.9,1643.7 L420.9,1634.0 L424.9,1624.6 L428.9,1615.5 L432.9,1606.9 L436.8,1598.7 L440.8,1591.0 L444.8,1583.8 L448.8,1577.1 L452.8,1570.9 L456.7,1565.4 L460.7,1560.6 L464.7,1556.4 L468.7,1552.9 L472.7,1550.2 L476.7,1548.2 L480.6,1547.0 L484.6,1546.7 L485.8,1546.8 L488.6,1547.3 L492.6,1548.7 L496.6,1551.0 L500.6,1554.0 L504.5,1557.8 L508.5,1562.2 L512.5,1567.3 L516.5,1573.1 L520.5,1579.4 L524.5,1586.2 L528.4,1593.6 L532.4,1601.4 L536.4,1609.6 L540.4,1618.2 L544.4,1627.1 L548.3,1636.3 L548.6,1636.9 L552.3,1645.8 L556.3,1655.4 L560.3,1665.3 L564.3,1675.3 L568.3,1685.5 L572.2,1695.7 L576.2,1706.0 L580.2,1716.3 L584.2,1726.6 L588.2,1736.9 L592.2,1747.1 L596.1,1757.1 L600.1,1767.1 L604.1,1776.9 L608.1,1786.4 L612.1,1795.8 L613.5,1799.1 L616.0,1804.9 L620.0,1813.7 L624.0,1822.2 L628.0,1830.4 L632.0,1838.4 L636.0,1846.1 L639.9,1853.6 L643.9,1860.7 L647.9,1867.6 L651.9,1874.3 L655.9,1880.6 L659.9,1886.7 L663.8,1892.6 L667.8,1898.1 L671.8,1903.5 L675.8,1908.5 L678.4,1911.7 L679.8,1913.3 L683.7,1917.9 L687.7,1922.2 L691.7,1926.3 L695.7,1930.1 L699.7,1933.8 L703.7,1937.3 L707.6,1940.6 L711.6,1943.7 L715.6,1946.7 L719.6,1949.5 L723.6,1952.2 L727.6,1954.8 L731.5,1957.3 L735.5,1959.7 L739.5,1962.0 L742.8,1963.9 L743.5,1964.3 L747.5,1966.5 L751.4,1968.6 L755.4,1970.7 L759.4,1972.6 L763.4,1974.5 L767.4,1976.2 L771.4,1977.9 L775.3,1979.4 L779.3,1980.8 L783.3,1982.0 L787.3,1983.0 L791.3,1983.9 L795.3,1984.7 L799.2,1985.2 L803.2,1985.5 L807.2,1985.6" stroke="#ff0000" stroke-width="6.4" fill="none" stroke-linejoin="round" stroke-linecap="round"/>
</g>
<clipPath id="cie1"><rect x="683.1" y="1533.8" width="153.6" height="206.1"/></clipPath>
<rect x="682.6" y="1533.3" width="154.6" height="207.1" fill="#000" stroke="#fff" stroke-width="3"/>
<rect x="683.1" y="1533.8" width="153.6" height="206.1" fill="#000"/>
<g clip-path="url(#cie1)"><g filter="url(#bl)">
<path d="M686.4,1574.0 L835.9,1574.0 M687.5,1727.6 L835.9,1727.6 M824.9,1547.9 L824.9,1727.6" stroke="#b8b8b8" stroke-width="1.15" stroke-dasharray="2.2 3.6" fill="none"/>
<path d="M697.2,1547.1 L709.6,1547.2 M748.1,1546.9 L735.0,1547.1 M798.2,1546.1 L811.3,1545.2 M853.6,1545.3 L839.0,1544.8 M697.2,1599.6 L709.9,1600.8 M747.9,1600.1 L735.2,1601.1 M747.9,1600.1 L760.8,1598.3 M798.5,1598.0 L786.1,1597.3 M798.5,1598.0 L811.7,1597.8 M853.6,1598.0 L839.3,1597.8 M697.4,1648.7 L710.1,1647.8 M747.6,1647.2 L735.2,1647.1 M747.6,1647.2 L760.9,1648.9 M799.1,1650.1 L786.6,1650.3 M799.1,1650.1 L812.0,1650.4 M853.6,1650.3 L839.3,1650.6 M698.3,1701.0 L710.7,1701.0 M749.1,1700.2 L736.2,1700.6 M799.8,1699.9 L812.6,1699.4 M853.6,1699.4 L839.5,1699.1 M697.2,1547.1 L697.8,1560.0 M697.2,1599.6 L697.8,1586.3 M697.2,1599.6 L696.8,1612.2 M697.4,1648.7 L696.9,1636.7 M697.4,1648.7 L698.3,1662.0 M698.3,1701.0 L698.7,1688.2 M698.3,1701.0 L698.6,1714.0 M698.3,1756.9 L698.6,1742.0 M748.1,1546.9 L747.6,1559.9 M747.9,1600.1 L747.5,1586.6 M747.9,1600.1 L748.8,1612.2 M747.6,1647.2 L748.6,1635.7 M747.6,1647.2 L747.6,1661.2 M749.1,1700.2 L748.4,1687.7 M749.1,1700.2 L748.6,1713.5 M748.6,1756.9 L748.4,1741.8 M798.2,1546.1 L799.0,1559.3 M798.5,1598.0 L799.1,1585.2 M798.5,1598.0 L798.9,1611.1 M799.1,1650.1 L799.2,1637.1 M799.1,1650.1 L799.3,1662.5 M799.8,1699.9 L799.7,1687.4 M799.8,1699.9 L800.6,1713.2 M800.9,1756.9 L801.1,1741.7 M697.2,1547.1 L697.3,1531.8 M748.1,1546.9 L747.6,1531.7 M798.2,1546.1 L798.1,1531.3 M748.1,1546.9 L760.6,1547.0 M798.2,1546.1 L785.7,1546.6 M749.1,1700.2 L761.6,1700.6 M799.8,1699.9 L786.9,1700.4 M697.2,1547.1 L681.4,1547.0 M697.2,1599.6 L681.4,1599.4 M697.4,1648.7 L681.5,1650.0 M698.3,1701.0 L681.9,1700.7" stroke="#7c7c7c" stroke-width="4.18" fill="none"/>
<path d="M697.2,1547.1 L709.6,1547.2 M748.1,1546.9 L735.0,1547.1 M798.2,1546.1 L811.3,1545.2 M853.6,1545.3 L839.0,1544.8 M697.2,1599.6 L709.9,1600.8 M747.9,1600.1 L735.2,1601.1 M747.9,1600.1 L760.8,1598.3 M798.5,1598.0 L786.1,1597.3 M798.5,1598.0 L811.7,1597.8 M853.6,1598.0 L839.3,1597.8 M697.4,1648.7 L710.1,1647.8 M747.6,1647.2 L735.2,1647.1 M747.6,1647.2 L760.9,1648.9 M799.1,1650.1 L786.6,1650.3 M799.1,1650.1 L812.0,1650.4 M853.6,1650.3 L839.3,1650.6 M698.3,1701.0 L710.7,1701.0 M749.1,1700.2 L736.2,1700.6 M799.8,1699.9 L812.6,1699.4 M853.6,1699.4 L839.5,1699.1 M697.2,1547.1 L697.8,1560.0 M697.2,1599.6 L697.8,1586.3 M697.2,1599.6 L696.8,1612.2 M697.4,1648.7 L696.9,1636.7 M697.4,1648.7 L698.3,1662.0 M698.3,1701.0 L698.7,1688.2 M698.3,1701.0 L698.6,1714.0 M698.3,1756.9 L698.6,1742.0 M748.1,1546.9 L747.6,1559.9 M747.9,1600.1 L747.5,1586.6 M747.9,1600.1 L748.8,1612.2 M747.6,1647.2 L748.6,1635.7 M747.6,1647.2 L747.6,1661.2 M749.1,1700.2 L748.4,1687.7 M749.1,1700.2 L748.6,1713.5 M748.6,1756.9 L748.4,1741.8 M798.2,1546.1 L799.0,1559.3 M798.5,1598.0 L799.1,1585.2 M798.5,1598.0 L798.9,1611.1 M799.1,1650.1 L799.2,1637.1 M799.1,1650.1 L799.3,1662.5 M799.8,1699.9 L799.7,1687.4 M799.8,1699.9 L800.6,1713.2 M800.9,1756.9 L801.1,1741.7 M697.2,1547.1 L697.3,1531.8 M748.1,1546.9 L747.6,1531.7 M798.2,1546.1 L798.1,1531.3 M748.1,1546.9 L760.6,1547.0 M798.2,1546.1 L785.7,1546.6 M749.1,1700.2 L761.6,1700.6 M799.8,1699.9 L786.9,1700.4 M697.2,1547.1 L681.4,1547.0 M697.2,1599.6 L681.4,1599.4 M697.4,1648.7 L681.5,1650.0 M698.3,1701.0 L681.9,1700.7" stroke="#c4c4c4" stroke-width="2.30" fill="none"/>
<path d="M709.6,1547.2 L722.0,1547.4 M735.0,1547.1 L722.0,1547.4 M811.3,1545.2 L824.4,1544.2 M839.0,1544.8 L824.4,1544.2 M709.9,1600.8 L722.5,1602.0 M735.2,1601.1 L722.5,1602.0 M760.8,1598.3 L773.7,1596.5 M786.1,1597.3 L773.7,1596.5 M811.7,1597.8 L824.9,1597.5 M839.3,1597.8 L824.9,1597.5 M710.1,1647.8 L722.8,1646.9 M735.2,1647.1 L722.8,1646.9 M760.9,1648.9 L774.2,1650.6 M786.6,1650.3 L774.2,1650.6 M812.0,1650.4 L824.9,1650.8 M839.3,1650.6 L824.9,1650.8 M710.7,1701.0 L723.2,1701.0 M736.2,1700.6 L723.2,1701.0 M812.6,1699.4 L825.4,1698.9 M839.5,1699.1 L825.4,1698.9 M697.8,1560.0 L698.5,1573.0 M697.8,1586.3 L698.5,1573.0 M696.8,1612.2 L696.4,1624.7 M696.9,1636.7 L696.4,1624.7 M698.3,1662.0 L699.2,1675.4 M698.7,1688.2 L699.2,1675.4 M698.6,1714.0 L699.0,1727.1 M698.6,1742.0 L699.0,1727.1 M747.6,1559.9 L747.0,1573.0 M747.5,1586.6 L747.0,1573.0 M748.8,1612.2 L749.7,1624.2 M748.6,1635.7 L749.7,1624.2 M747.6,1661.2 L747.6,1675.2 M748.4,1687.7 L747.6,1675.2 M748.6,1713.5 L748.1,1726.8 M748.4,1741.8 L748.1,1726.8 M799.0,1559.3 L799.8,1572.4 M799.1,1585.2 L799.8,1572.4 M798.9,1611.1 L799.3,1624.2 M799.2,1637.1 L799.3,1624.2 M799.3,1662.5 L799.5,1674.8 M799.7,1687.4 L799.5,1674.8 M800.6,1713.2 L801.4,1726.6 M801.1,1741.7 L801.4,1726.6 M697.3,1531.8 L697.4,1516.6 M747.6,1531.7 L747.0,1516.6 M798.1,1531.3 L798.0,1516.6 M681.4,1547.0 L665.6,1546.9 M681.4,1599.4 L665.6,1599.1 M681.5,1650.0 L665.6,1651.3 M681.9,1700.7 L665.6,1700.4" stroke="#b80000" stroke-width="4.18" fill="none"/>
<path d="M709.6,1547.2 L722.0,1547.4 M735.0,1547.1 L722.0,1547.4 M811.3,1545.2 L824.4,1544.2 M839.0,1544.8 L824.4,1544.2 M709.9,1600.8 L722.5,1602.0 M735.2,1601.1 L722.5,1602.0 M760.8,1598.3 L773.7,1596.5 M786.1,1597.3 L773.7,1596.5 M811.7,1597.8 L824.9,1597.5 M839.3,1597.8 L824.9,1597.5 M710.1,1647.8 L722.8,1646.9 M735.2,1647.1 L722.8,1646.9 M760.9,1648.9 L774.2,1650.6 M786.6,1650.3 L774.2,1650.6 M812.0,1650.4 L824.9,1650.8 M839.3,1650.6 L824.9,1650.8 M710.7,1701.0 L723.2,1701.0 M736.2,1700.6 L723.2,1701.0 M812.6,1699.4 L825.4,1698.9 M839.5,1699.1 L825.4,1698.9 M697.8,1560.0 L698.5,1573.0 M697.8,1586.3 L698.5,1573.0 M696.8,1612.2 L696.4,1624.7 M696.9,1636.7 L696.4,1624.7 M698.3,1662.0 L699.2,1675.4 M698.7,1688.2 L699.2,1675.4 M698.6,1714.0 L699.0,1727.1 M698.6,1742.0 L699.0,1727.1 M747.6,1559.9 L747.0,1573.0 M747.5,1586.6 L747.0,1573.0 M748.8,1612.2 L749.7,1624.2 M748.6,1635.7 L749.7,1624.2 M747.6,1661.2 L747.6,1675.2 M748.4,1687.7 L747.6,1675.2 M748.6,1713.5 L748.1,1726.8 M748.4,1741.8 L748.1,1726.8 M799.0,1559.3 L799.8,1572.4 M799.1,1585.2 L799.8,1572.4 M798.9,1611.1 L799.3,1624.2 M799.2,1637.1 L799.3,1624.2 M799.3,1662.5 L799.5,1674.8 M799.7,1687.4 L799.5,1674.8 M800.6,1713.2 L801.4,1726.6 M801.1,1741.7 L801.4,1726.6 M697.3,1531.8 L697.4,1516.6 M747.6,1531.7 L747.0,1516.6 M798.1,1531.3 L798.0,1516.6 M681.4,1547.0 L665.6,1546.9 M681.4,1599.4 L665.6,1599.1 M681.5,1650.0 L665.6,1651.3 M681.9,1700.7 L665.6,1700.4" stroke="#f80c0c" stroke-width="2.30" fill="none"/>
<path d="M760.6,1547.0 L773.2,1547.1 M785.7,1546.6 L773.2,1547.1 M761.6,1700.6 L774.0,1701.0 M786.9,1700.4 L774.0,1701.0" stroke="#0000b4" stroke-width="4.18" fill="none"/>
<path d="M760.6,1547.0 L773.2,1547.1 M785.7,1546.6 L773.2,1547.1 M761.6,1700.6 L774.0,1701.0 M786.9,1700.4 L774.0,1701.0" stroke="#0c0cf8" stroke-width="2.30" fill="none"/>
<circle cx="722.0" cy="1547.4" r="4.75" fill="url(#gO)"/>
<circle cx="824.4" cy="1544.2" r="4.75" fill="url(#gO)"/>
<circle cx="722.5" cy="1602.0" r="4.75" fill="url(#gO)"/>
<circle cx="773.7" cy="1596.5" r="4.75" fill="url(#gO)"/>
<circle cx="824.9" cy="1597.5" r="4.75" fill="url(#gO)"/>
<circle cx="722.8" cy="1646.9" r="4.75" fill="url(#gO)"/>
<circle cx="774.2" cy="1650.6" r="4.75" fill="url(#gO)"/>
<circle cx="824.9" cy="1650.8" r="4.75" fill="url(#gO)"/>
<circle cx="723.2" cy="1701.0" r="4.75" fill="url(#gO)"/>
<circle cx="825.4" cy="1698.9" r="4.75" fill="url(#gO)"/>
<circle cx="698.5" cy="1573.0" r="4.75" fill="url(#gO)"/>
<circle cx="696.4" cy="1624.7" r="4.75" fill="url(#gO)"/>
<circle cx="699.2" cy="1675.4" r="4.75" fill="url(#gO)"/>
<circle cx="699.0" cy="1727.1" r="4.75" fill="url(#gO)"/>
<circle cx="747.0" cy="1573.0" r="4.75" fill="url(#gO)"/>
<circle cx="749.7" cy="1624.2" r="4.75" fill="url(#gO)"/>
<circle cx="747.6" cy="1675.2" r="4.75" fill="url(#gO)"/>
<circle cx="748.1" cy="1726.8" r="4.75" fill="url(#gO)"/>
<circle cx="799.8" cy="1572.4" r="4.75" fill="url(#gO)"/>
<circle cx="799.3" cy="1624.2" r="4.75" fill="url(#gO)"/>
<circle cx="799.5" cy="1674.8" r="4.75" fill="url(#gO)"/>
<circle cx="801.4" cy="1726.6" r="4.75" fill="url(#gO)"/>
<circle cx="697.4" cy="1516.6" r="4.75" fill="url(#gO)"/>
<circle cx="747.0" cy="1516.6" r="4.75" fill="url(#gO)"/>
<circle cx="798.0" cy="1516.6" r="4.75" fill="url(#gO)"/>
<circle cx="697.2" cy="1547.1" r="5.26" fill="url(#gO)" stroke="#200000" stroke-width="0.9"/>
<circle cx="748.1" cy="1546.9" r="5.26" fill="url(#gO)" stroke="#200000" stroke-width="0.9"/>
<circle cx="798.2" cy="1546.1" r="5.26" fill="url(#gO)" stroke="#200000" stroke-width="0.9"/>
<circle cx="697.2" cy="1599.6" r="5.26" fill="url(#gO)" stroke="#200000" stroke-width="0.9"/>
<circle cx="747.9" cy="1600.1" r="5.26" fill="url(#gO)" stroke="#200000" stroke-width="0.9"/>
<circle cx="798.5" cy="1598.0" r="5.26" fill="url(#gO)" stroke="#200000" stroke-width="0.9"/>
<circle cx="697.4" cy="1648.7" r="5.26" fill="url(#gO)" stroke="#200000" stroke-width="0.9"/>
<circle cx="747.6" cy="1647.2" r="5.26" fill="url(#gO)" stroke="#200000" stroke-width="0.9"/>
<circle cx="799.1" cy="1650.1" r="5.26" fill="url(#gO)" stroke="#200000" stroke-width="0.9"/>
<circle cx="698.3" cy="1701.0" r="5.26" fill="url(#gO)" stroke="#200000" stroke-width="0.9"/>
<circle cx="749.1" cy="1700.2" r="5.26" fill="url(#gO)" stroke="#200000" stroke-width="0.9"/>
<circle cx="799.8" cy="1699.9" r="5.26" fill="url(#gO)" stroke="#200000" stroke-width="0.9"/>
<circle cx="773.2" cy="1547.1" r="4.97" fill="url(#gN)"/>
<circle cx="774.0" cy="1701.0" r="4.97" fill="url(#gN)"/>
<circle cx="722.5" cy="1573.5" r="4.97" fill="url(#gLa)"/>
<circle cx="773.2" cy="1572.8" r="4.97" fill="url(#gLa)"/>
<circle cx="824.7" cy="1572.8" r="4.97" fill="url(#gLa)"/>
<circle cx="723.5" cy="1624.0" r="4.97" fill="url(#gLa)"/>
<circle cx="774.0" cy="1624.0" r="4.97" fill="url(#gLa)"/>
<circle cx="825.2" cy="1624.2" r="4.97" fill="url(#gLa)"/>
<circle cx="724.1" cy="1675.2" r="4.97" fill="url(#gLa)"/>
<circle cx="773.2" cy="1675.4" r="4.97" fill="url(#gLa)"/>
<circle cx="825.9" cy="1675.2" r="4.97" fill="url(#gLa)"/>
<circle cx="723.5" cy="1727.4" r="4.97" fill="url(#gLa)"/>
<circle cx="774.2" cy="1726.6" r="4.97" fill="url(#gLa)"/>
<circle cx="825.9" cy="1726.6" r="4.97" fill="url(#gLa)"/>
<circle cx="701.6" cy="1573.0" r="5.04" fill="url(#gLi)"/>
<circle cx="797.7" cy="1572.4" r="5.04" fill="url(#gLi)"/>
<circle cx="791.5" cy="1623.6" r="5.04" fill="url(#gLi)"/>
<circle cx="824.9" cy="1645.6" r="5.04" fill="url(#gLi)"/>
<circle cx="774.7" cy="1693.6" r="5.04" fill="url(#gLi)"/>
<circle cx="825.6" cy="1694.7" r="5.04" fill="url(#gLi)"/>
<circle cx="702.6" cy="1727.1" r="5.04" fill="url(#gLi)"/>
<circle cx="799.1" cy="1726.4" r="5.04" fill="url(#gLi)"/>
</g></g>
<clipPath id="cie2"><rect x="356.6" y="1821.4" width="172.1" height="225.7"/></clipPath>
<rect x="356.1" y="1820.9" width="173.1" height="226.7" fill="#000" stroke="#fff" stroke-width="3"/>
<rect x="356.6" y="1821.4" width="172.1" height="225.7" fill="#000"/>
<g clip-path="url(#cie2)"><g filter="url(#bl)">
<path d="M363.7,1865.3 L526.7,1865.3 M362.5,2034.2 L526.7,2034.2 M515.3,1836.8 L515.3,2034.2" stroke="#b8b8b8" stroke-width="1.15" stroke-dasharray="2.2 3.6" fill="none"/>
<path d="M375.1,1835.1 L388.3,1835.0 M429.8,1835.7 L415.6,1835.3 M487.3,1835.7 L501.3,1834.5 M549.5,1834.7 L532.4,1834.1 M373.9,1892.6 L387.6,1894.1 M430.4,1892.6 L415.8,1894.1 M430.4,1892.6 L444.0,1891.6 M485.6,1892.4 L471.7,1891.5 M485.6,1892.4 L500.2,1892.2 M549.5,1892.6 L532.1,1892.4 M373.7,1943.9 L387.4,1944.2 M430.4,1944.5 L415.7,1944.5 M430.4,1944.5 L443.7,1946.8 M485.9,1948.5 L471.5,1948.8 M485.9,1948.5 L500.0,1949.3 M549.5,1949.6 L531.8,1949.9 M373.7,2004.1 L387.2,2003.9 M429.2,2004.6 L415.0,2004.2 M486.2,2004.6 L500.2,2004.6 M549.5,2004.1 L531.8,2004.3 M375.1,1835.1 L373.6,1849.3 M373.9,1892.6 L373.1,1878.1 M373.9,1892.6 L372.8,1906.0 M373.7,1943.9 L372.7,1931.7 M373.7,1943.9 L373.8,1959.6 M373.7,2004.1 L373.8,1989.7 M373.7,2004.1 L372.7,2018.2 M372.2,2064.7 L371.9,2048.5 M429.8,1835.7 L428.6,1849.8 M430.4,1892.6 L428.9,1878.3 M430.4,1892.6 L430.6,1906.2 M430.4,1944.5 L430.6,1932.1 M430.4,1944.5 L429.2,1960.1 M429.2,2004.6 L428.6,1990.1 M429.2,2004.6 L428.4,2018.7 M427.5,2064.7 L427.5,2048.8 M487.3,1835.7 L487.9,1849.9 M485.6,1892.4 L487.1,1878.3 M485.6,1892.4 L485.6,1906.5 M485.9,1948.5 L485.7,1934.5 M485.9,1948.5 L485.5,1962.2 M486.2,2004.6 L485.6,1990.2 M486.2,2004.6 L486.1,2018.7 M484.5,2064.7 L485.3,2048.8 M375.1,1835.1 L375.1,1818.8 M429.8,1835.7 L429.8,1819.1 M487.3,1835.7 L486.8,1819.1 M429.8,1835.7 L443.7,1835.9 M487.3,1835.7 L472.5,1835.9 M429.2,2004.6 L442.9,2004.6 M486.2,2004.6 L471.4,2004.6 M375.1,1835.1 L356.8,1834.5 M373.9,1892.6 L356.3,1892.1 M373.7,1943.9 L356.2,1946.2 M373.7,2004.1 L356.2,2003.4" stroke="#7c7c7c" stroke-width="4.56" fill="none"/>
<path d="M375.1,1835.1 L388.3,1835.0 M429.8,1835.7 L415.6,1835.3 M487.3,1835.7 L501.3,1834.5 M549.5,1834.7 L532.4,1834.1 M373.9,1892.6 L387.6,1894.1 M430.4,1892.6 L415.8,1894.1 M430.4,1892.6 L444.0,1891.6 M485.6,1892.4 L471.7,1891.5 M485.6,1892.4 L500.2,1892.2 M549.5,1892.6 L532.1,1892.4 M373.7,1943.9 L387.4,1944.2 M430.4,1944.5 L415.7,1944.5 M430.4,1944.5 L443.7,1946.8 M485.9,1948.5 L471.5,1948.8 M485.9,1948.5 L500.0,1949.3 M549.5,1949.6 L531.8,1949.9 M373.7,2004.1 L387.2,2003.9 M429.2,2004.6 L415.0,2004.2 M486.2,2004.6 L500.2,2004.6 M549.5,2004.1 L531.8,2004.3 M375.1,1835.1 L373.6,1849.3 M373.9,1892.6 L373.1,1878.1 M373.9,1892.6 L372.8,1906.0 M373.7,1943.9 L372.7,1931.7 M373.7,1943.9 L373.8,1959.6 M373.7,2004.1 L373.8,1989.7 M373.7,2004.1 L372.7,2018.2 M372.2,2064.7 L371.9,2048.5 M429.8,1835.7 L428.6,1849.8 M430.4,1892.6 L428.9,1878.3 M430.4,1892.6 L430.6,1906.2 M430.4,1944.5 L430.6,1932.1 M430.4,1944.5 L429.2,1960.1 M429.2,2004.6 L428.6,1990.1 M429.2,2004.6 L428.4,2018.7 M427.5,2064.7 L427.5,2048.8 M487.3,1835.7 L487.9,1849.9 M485.6,1892.4 L487.1,1878.3 M485.6,1892.4 L485.6,1906.5 M485.9,1948.5 L485.7,1934.5 M485.9,1948.5 L485.5,1962.2 M486.2,2004.6 L485.6,1990.2 M486.2,2004.6 L486.1,2018.7 M484.5,2064.7 L485.3,2048.8 M375.1,1835.1 L375.1,1818.8 M429.8,1835.7 L429.8,1819.1 M487.3,1835.7 L486.8,1819.1 M429.8,1835.7 L443.7,1835.9 M487.3,1835.7 L472.5,1835.9 M429.2,2004.6 L442.9,2004.6 M486.2,2004.6 L471.4,2004.6 M375.1,1835.1 L356.8,1834.5 M373.9,1892.6 L356.3,1892.1 M373.7,1943.9 L356.2,1946.2 M373.7,2004.1 L356.2,2003.4" stroke="#c4c4c4" stroke-width="2.51" fill="none"/>
<path d="M388.3,1835.0 L401.5,1834.9 M415.6,1835.3 L401.5,1834.9 M501.3,1834.5 L515.3,1833.4 M532.4,1834.1 L515.3,1833.4 M387.6,1894.1 L401.3,1895.5 M415.8,1894.1 L401.3,1895.5 M444.0,1891.6 L457.7,1890.6 M471.7,1891.5 L457.7,1890.6 M500.2,1892.2 L514.7,1892.1 M532.1,1892.4 L514.7,1892.1 M387.4,1944.2 L401.1,1944.5 M415.7,1944.5 L401.1,1944.5 M443.7,1946.8 L457.1,1949.1 M471.5,1948.8 L457.1,1949.1 M500.0,1949.3 L514.1,1950.2 M531.8,1949.9 L514.1,1950.2 M387.2,2003.9 L400.7,2003.8 M415.0,2004.2 L400.7,2003.8 M500.2,2004.6 L514.1,2004.6 M531.8,2004.3 L514.1,2004.6 M373.6,1849.3 L372.2,1863.6 M373.1,1878.1 L372.2,1863.6 M372.8,1906.0 L371.7,1919.4 M372.7,1931.7 L371.7,1919.4 M373.8,1959.6 L373.9,1975.3 M373.8,1989.7 L373.9,1975.3 M372.7,2018.2 L371.7,2032.3 M371.9,2048.5 L371.7,2032.3 M428.6,1849.8 L427.5,1863.9 M428.9,1878.3 L427.5,1863.9 M430.6,1906.2 L430.9,1919.8 M430.6,1932.1 L430.9,1919.8 M429.2,1960.1 L428.1,1975.6 M428.6,1990.1 L428.1,1975.6 M428.4,2018.7 L427.5,2032.8 M427.5,2048.8 L427.5,2032.8 M487.9,1849.9 L488.5,1864.1 M487.1,1878.3 L488.5,1864.1 M485.6,1906.5 L485.6,1920.6 M485.7,1934.5 L485.6,1920.6 M485.5,1962.2 L485.1,1975.8 M485.6,1990.2 L485.1,1975.8 M486.1,2018.7 L486.1,2032.8 M485.3,2048.8 L486.1,2032.8 M375.1,1818.8 L375.1,1802.6 M429.8,1819.1 L429.8,1802.6 M486.8,1819.1 L486.2,1802.6 M356.8,1834.5 L338.6,1833.9 M356.3,1892.1 L338.6,1891.5 M356.2,1946.2 L338.6,1948.5 M356.2,2003.4 L338.6,2002.6" stroke="#b80000" stroke-width="4.56" fill="none"/>
<path d="M388.3,1835.0 L401.5,1834.9 M415.6,1835.3 L401.5,1834.9 M501.3,1834.5 L515.3,1833.4 M532.4,1834.1 L515.3,1833.4 M387.6,1894.1 L401.3,1895.5 M415.8,1894.1 L401.3,1895.5 M444.0,1891.6 L457.7,1890.6 M471.7,1891.5 L457.7,1890.6 M500.2,1892.2 L514.7,1892.1 M532.1,1892.4 L514.7,1892.1 M387.4,1944.2 L401.1,1944.5 M415.7,1944.5 L401.1,1944.5 M443.7,1946.8 L457.1,1949.1 M471.5,1948.8 L457.1,1949.1 M500.0,1949.3 L514.1,1950.2 M531.8,1949.9 L514.1,1950.2 M387.2,2003.9 L400.7,2003.8 M415.0,2004.2 L400.7,2003.8 M500.2,2004.6 L514.1,2004.6 M531.8,2004.3 L514.1,2004.6 M373.6,1849.3 L372.2,1863.6 M373.1,1878.1 L372.2,1863.6 M372.8,1906.0 L371.7,1919.4 M372.7,1931.7 L371.7,1919.4 M373.8,1959.6 L373.9,1975.3 M373.8,1989.7 L373.9,1975.3 M372.7,2018.2 L371.7,2032.3 M371.9,2048.5 L371.7,2032.3 M428.6,1849.8 L427.5,1863.9 M428.9,1878.3 L427.5,1863.9 M430.6,1906.2 L430.9,1919.8 M430.6,1932.1 L430.9,1919.8 M429.2,1960.1 L428.1,1975.6 M428.6,1990.1 L428.1,1975.6 M428.4,2018.7 L427.5,2032.8 M427.5,2048.8 L427.5,2032.8 M487.9,1849.9 L488.5,1864.1 M487.1,1878.3 L488.5,1864.1 M485.6,1906.5 L485.6,1920.6 M485.7,1934.5 L485.6,1920.6 M485.5,1962.2 L485.1,1975.8 M485.6,1990.2 L485.1,1975.8 M486.1,2018.7 L486.1,2032.8 M485.3,2048.8 L486.1,2032.8 M375.1,1818.8 L375.1,1802.6 M429.8,1819.1 L429.8,1802.6 M486.8,1819.1 L486.2,1802.6 M356.8,1834.5 L338.6,1833.9 M356.3,1892.1 L338.6,1891.5 M356.2,1946.2 L338.6,1948.5 M356.2,2003.4 L338.6,2002.6" stroke="#f80c0c" stroke-width="2.51" fill="none"/>
<path d="M443.7,1835.9 L457.7,1836.2 M472.5,1835.9 L457.7,1836.2 M442.9,2004.6 L456.6,2004.6 M471.4,2004.6 L456.6,2004.6" stroke="#0000b4" stroke-width="4.56" fill="none"/>
<path d="M443.7,1835.9 L457.7,1836.2 M472.5,1835.9 L457.7,1836.2 M442.9,2004.6 L456.6,2004.6 M471.4,2004.6 L456.6,2004.6" stroke="#0c0cf8" stroke-width="2.51" fill="none"/>
<circle cx="401.5" cy="1834.9" r="5.15" fill="url(#gO)"/>
<circle cx="515.3" cy="1833.4" r="5.15" fill="url(#gO)"/>
<circle cx="401.3" cy="1895.5" r="5.15" fill="url(#gO)"/>
<circle cx="457.7" cy="1890.6" r="5.15" fill="url(#gO)"/>
<circle cx="514.7" cy="1892.1" r="5.15" fill="url(#gO)"/>
<circle cx="401.1" cy="1944.5" r="5.15" fill="url(#gO)"/>
<circle cx="457.1" cy="1949.1" r="5.15" fill="url(#gO)"/>
<circle cx="514.1" cy="1950.2" r="5.15" fill="url(#gO)"/>
<circle cx="400.7" cy="2003.8" r="5.15" fill="url(#gO)"/>
<circle cx="514.1" cy="2004.6" r="5.15" fill="url(#gO)"/>
<circle cx="372.2" cy="1863.6" r="5.15" fill="url(#gO)"/>
<circle cx="371.7" cy="1919.4" r="5.15" fill="url(#gO)"/>
<circle cx="373.9" cy="1975.3" r="5.15" fill="url(#gO)"/>
<circle cx="371.7" cy="2032.3" r="5.15" fill="url(#gO)"/>
<circle cx="427.5" cy="1863.9" r="5.15" fill="url(#gO)"/>
<circle cx="430.9" cy="1919.8" r="5.15" fill="url(#gO)"/>
<circle cx="428.1" cy="1975.6" r="5.15" fill="url(#gO)"/>
<circle cx="427.5" cy="2032.8" r="5.15" fill="url(#gO)"/>
<circle cx="488.5" cy="1864.1" r="5.15" fill="url(#gO)"/>
<circle cx="485.6" cy="1920.6" r="5.15" fill="url(#gO)"/>
<circle cx="485.1" cy="1975.8" r="5.15" fill="url(#gO)"/>
<circle cx="486.1" cy="2032.8" r="5.15" fill="url(#gO)"/>
<circle cx="375.1" cy="1802.6" r="5.15" fill="url(#gO)"/>
<circle cx="429.8" cy="1802.6" r="5.15" fill="url(#gO)"/>
<circle cx="486.2" cy="1802.6" r="5.15" fill="url(#gO)"/>
<circle cx="375.1" cy="1835.1" r="5.69" fill="url(#gO)" stroke="#200000" stroke-width="0.9"/>
<circle cx="429.8" cy="1835.7" r="5.69" fill="url(#gO)" stroke="#200000" stroke-width="0.9"/>
<circle cx="487.3" cy="1835.7" r="5.69" fill="url(#gO)" stroke="#200000" stroke-width="0.9"/>
<circle cx="373.9" cy="1892.6" r="5.69" fill="url(#gO)" stroke="#200000" stroke-width="0.9"/>
<circle cx="430.4" cy="1892.6" r="5.69" fill="url(#gO)" stroke="#200000" stroke-width="0.9"/>
<circle cx="485.6" cy="1892.4" r="5.69" fill="url(#gO)" stroke="#200000" stroke-width="0.9"/>
<circle cx="373.7" cy="1943.9" r="5.69" fill="url(#gO)" stroke="#200000" stroke-width="0.9"/>
<circle cx="430.4" cy="1944.5" r="5.69" fill="url(#gO)" stroke="#200000" stroke-width="0.9"/>
<circle cx="485.9" cy="1948.5" r="5.69" fill="url(#gO)" stroke="#200000" stroke-width="0.9"/>
<circle cx="373.7" cy="2004.1" r="5.69" fill="url(#gO)" stroke="#200000" stroke-width="0.9"/>
<circle cx="429.2" cy="2004.6" r="5.69" fill="url(#gO)" stroke="#200000" stroke-width="0.9"/>
<circle cx="486.2" cy="2004.6" r="5.69" fill="url(#gO)" stroke="#200000" stroke-width="0.9"/>
<circle cx="457.7" cy="1836.2" r="5.38" fill="url(#gN)"/>
<circle cx="456.6" cy="2004.6" r="5.38" fill="url(#gN)"/>
<circle cx="401.5" cy="1863.2" r="5.38" fill="url(#gLa)"/>
<circle cx="458.0" cy="1863.9" r="5.38" fill="url(#gLa)"/>
<circle cx="514.1" cy="1864.1" r="5.38" fill="url(#gLa)"/>
<circle cx="402.4" cy="1919.4" r="5.38" fill="url(#gLa)"/>
<circle cx="458.0" cy="1920.0" r="5.38" fill="url(#gLa)"/>
<circle cx="513.2" cy="1920.6" r="5.38" fill="url(#gLa)"/>
<circle cx="400.7" cy="1974.9" r="5.38" fill="url(#gLa)"/>
<circle cx="455.4" cy="1976.8" r="5.38" fill="url(#gLa)"/>
<circle cx="513.2" cy="1977.2" r="5.38" fill="url(#gLa)"/>
<circle cx="400.1" cy="2031.9" r="5.38" fill="url(#gLa)"/>
<circle cx="456.6" cy="2032.8" r="5.38" fill="url(#gLa)"/>
<circle cx="512.8" cy="2033.1" r="5.38" fill="url(#gLa)"/>
<circle cx="376.0" cy="1863.9" r="5.46" fill="url(#gLi)"/>
<circle cx="426.9" cy="1864.1" r="5.46" fill="url(#gLi)"/>
<circle cx="483.6" cy="1864.1" r="5.46" fill="url(#gLi)"/>
<circle cx="478.2" cy="1920.0" r="5.46" fill="url(#gLi)"/>
<circle cx="514.7" cy="1944.5" r="5.46" fill="url(#gLi)"/>
<circle cx="514.7" cy="1999.2" r="5.46" fill="url(#gLi)"/>
<circle cx="374.5" cy="2032.8" r="5.46" fill="url(#gLi)"/>
<circle cx="425.6" cy="2033.1" r="5.46" fill="url(#gLi)"/>
<circle cx="482.2" cy="2032.8" r="5.46" fill="url(#gLi)"/>
</g></g>
<path d="M431.5,1859.6 L453.1,1841.4" stroke="#ffc400" stroke-width="1.92" fill="none" marker-end="url(#ah)"/>
<path d="M431.5,2028.8 L453.1,2011.2" stroke="#ffc400" stroke-width="1.92" fill="none" marker-end="url(#ah)"/>
</g>
<g>
<text transform="translate(1108.4,2125.0) scale(1,1.03)" text-anchor="middle" font-size="46.8" >0.0</text>
<text transform="translate(1193.2,2125.0) scale(1,1.03)" text-anchor="middle" font-size="46.8" >0.5</text>
<text transform="translate(1278.1,2125.0) scale(1,1.03)" text-anchor="middle" font-size="46.8" >1.0</text>
<text transform="translate(1362.9,2125.0) scale(1,1.03)" text-anchor="middle" font-size="46.8" >1.5</text>
<text transform="translate(1447.7,2125.0) scale(1,1.03)" text-anchor="middle" font-size="46.8" >2.0</text>
<text transform="translate(1532.5,2125.0) scale(1,1.03)" text-anchor="middle" font-size="46.8" >2.5</text>
<text transform="translate(1617.3,2125.0) scale(1,1.03)" text-anchor="middle" font-size="46.8" >3.0</text>
<text transform="translate(1702.2,2125.0) scale(1,1.03)" text-anchor="middle" font-size="46.8" >3.5</text>
<text transform="translate(1787.0,2125.0) scale(1,1.03)" text-anchor="middle" font-size="46.8" >4.0</text>
<text transform="translate(1088.4,2084.0) scale(1,1.085)" text-anchor="end" font-size="45.2" >-0.1</text>
<text transform="translate(1088.4,1993.2) scale(1,1.085)" text-anchor="end" font-size="45.2" >0.0</text>
<text transform="translate(1088.4,1902.3) scale(1,1.085)" text-anchor="end" font-size="45.2" >0.1</text>
<text transform="translate(1088.4,1811.5) scale(1,1.085)" text-anchor="end" font-size="45.2" >0.2</text>
<text transform="translate(1088.4,1720.7) scale(1,1.085)" text-anchor="end" font-size="45.2" >0.3</text>
<text transform="translate(1088.4,1629.8) scale(1,1.085)" text-anchor="end" font-size="45.2" >0.4</text>
<text transform="translate(1088.4,1539.0) scale(1,1.085)" text-anchor="end" font-size="45.2" >0.5</text>
<path d="M1108.4,2071.0 V2085.0 M1150.8,2071.0 V2079.5 M1193.2,2071.0 V2085.0 M1235.6,2071.0 V2079.5 M1278.1,2071.0 V2085.0 M1320.5,2071.0 V2079.5 M1362.9,2071.0 V2085.0 M1405.3,2071.0 V2079.5 M1447.7,2071.0 V2085.0 M1490.1,2071.0 V2079.5 M1532.5,2071.0 V2085.0 M1574.9,2071.0 V2079.5 M1617.3,2071.0 V2085.0 M1659.8,2071.0 V2079.5 M1702.2,2071.0 V2085.0 M1744.6,2071.0 V2079.5 M1787.0,2071.0 V2085.0 M1108.4,2071.0 H1094.4 M1108.4,2025.6 H1099.9 M1108.4,1980.2 H1094.4 M1108.4,1934.8 H1099.9 M1108.4,1889.3 H1094.4 M1108.4,1843.9 H1099.9 M1108.4,1798.5 H1094.4 M1108.4,1753.1 H1099.9 M1108.4,1707.7 H1094.4 M1108.4,1662.2 H1099.9 M1108.4,1616.8 H1094.4 M1108.4,1571.4 H1099.9 M1108.4,1526.0 H1094.4" stroke="#000" stroke-width="5.5" fill="none"/>
<rect x="1108.4" y="1526.0" width="678.6" height="545.0" fill="none" stroke="#000" stroke-width="6"/>
<text transform="translate(1447.7,2195.2) scale(1,1.08)" text-anchor="middle" font-size="45.9" >Reaction coordinate (Å)</text>
<text transform="translate(975.5,1785.8) rotate(-90) scale(1,1.11)" text-anchor="middle" font-size="46.5" >Energy (eV)</text>
<text transform="translate(920.5,1538.2) scale(1,1.045)" text-anchor="start" font-size="50.4" >(f)</text>
<ellipse cx="1135.2" cy="1546.8" rx="8.3" ry="9" fill="#0000ff"/>
<ellipse cx="1135.2" cy="1582.8" rx="7.3" ry="7.8" fill="#fff" stroke="#ff0000" stroke-width="3"/>
<text transform="translate(1174.3,1555.3) scale(1,1.05)" text-anchor="start" font-size="27" letter-spacing="1" style="font-kerning:none">N-LLTO</text>
<text transform="translate(1174.3,1591.3) scale(1,1.05)" text-anchor="start" font-size="27" letter-spacing="1" style="font-kerning:none">LLTO</text>
<clipPath id="cpf"><rect x="1108.4" y="1526.0" width="678.6" height="545.0"/></clipPath>
<g clip-path="url(#cpf)">
<ellipse cx="1108.4" cy="1980.2" rx="8.3" ry="9" fill="#0000ff"/>
<ellipse cx="1182.5" cy="1961.0" rx="8.3" ry="9" fill="#0000ff"/>
<ellipse cx="1254.1" cy="1907.8" rx="8.3" ry="9" fill="#0000ff"/>
<ellipse cx="1329.8" cy="1794.7" rx="8.3" ry="9" fill="#0000ff"/>
<ellipse cx="1409.7" cy="1637.9" rx="8.3" ry="9" fill="#0000ff"/>
<ellipse cx="1488.5" cy="1548.2" rx="8.3" ry="9" fill="#0000ff"/>
<ellipse cx="1546.8" cy="1594.5" rx="8.3" ry="9" fill="#0000ff"/>
<ellipse cx="1611.7" cy="1715.1" rx="8.3" ry="9" fill="#0000ff"/>
<ellipse cx="1675.3" cy="1784.5" rx="8.3" ry="9" fill="#0000ff"/>
<ellipse cx="1741.0" cy="1786.5" rx="8.3" ry="9" fill="#0000ff"/>
<path d="M1108.4,1980.2 L1112.4,1980.1 L1116.4,1980.0 L1120.3,1979.7 L1124.3,1979.3 L1128.3,1978.8 L1132.3,1978.2 L1136.3,1977.4 L1140.2,1976.6 L1144.2,1975.7 L1148.2,1974.6 L1152.2,1973.5 L1156.1,1972.3 L1160.1,1970.9 L1164.1,1969.5 L1168.1,1967.9 L1172.1,1966.3 L1176.0,1964.6 L1180.0,1962.8 L1181.6,1962.0 L1184.0,1960.8 L1188.0,1958.8 L1192.0,1956.7 L1195.9,1954.5 L1199.9,1952.2 L1203.9,1949.8 L1207.9,1947.3 L1211.8,1944.7 L1215.8,1942.0 L1219.8,1939.2 L1223.8,1936.3 L1227.8,1933.3 L1231.7,1930.2 L1235.7,1926.9 L1239.7,1923.6 L1243.7,1920.1 L1247.7,1916.5 L1251.6,1912.8 L1254.1,1910.4 L1255.6,1908.9 L1259.6,1905.0 L1263.6,1900.9 L1267.5,1896.7 L1271.5,1892.3 L1275.5,1887.8 L1279.5,1883.1 L1283.5,1878.2 L1287.4,1873.2 L1291.4,1868.0 L1295.4,1862.6 L1299.4,1857.0 L1303.4,1851.2 L1307.3,1845.1 L1311.3,1838.9 L1315.3,1832.5 L1319.3,1825.8 L1323.2,1818.8 L1327.2,1811.7 L1330.8,1805.0 L1331.2,1804.2 L1335.2,1796.6 L1339.2,1788.6 L1343.1,1780.5 L1347.1,1772.2 L1351.1,1763.7 L1355.1,1755.1 L1359.1,1746.4 L1363.0,1737.6 L1367.0,1728.8 L1371.0,1719.9 L1375.0,1711.0 L1378.9,1702.1 L1382.9,1693.3 L1386.9,1684.5 L1390.9,1675.8 L1394.9,1667.3 L1398.8,1658.8 L1402.8,1650.6 L1406.8,1642.5 L1410.3,1635.6 L1410.8,1634.7 L1414.8,1627.1 L1418.7,1619.7 L1422.7,1612.6 L1426.7,1605.8 L1430.7,1599.3 L1434.6,1593.1 L1438.6,1587.3 L1442.6,1581.8 L1446.6,1576.6 L1450.6,1571.9 L1454.5,1567.5 L1458.5,1563.5 L1462.5,1560.0 L1466.5,1556.8 L1470.5,1554.2 L1474.4,1552.0 L1478.4,1550.3 L1482.4,1549.1 L1486.4,1548.4 L1488.5,1548.2 L1490.3,1548.2 L1494.3,1548.5 L1498.3,1549.4 L1502.3,1550.8 L1506.3,1552.6 L1510.2,1554.9 L1514.2,1557.6 L1518.2,1560.8 L1522.2,1564.4 L1526.2,1568.3 L1530.1,1572.7 L1534.1,1577.4 L1538.1,1582.4 L1542.1,1587.7 L1546.0,1593.4 L1546.8,1594.5 L1550.0,1599.3 L1554.0,1605.5 L1558.0,1612.0 L1562.0,1618.6 L1565.9,1625.5 L1569.9,1632.4 L1573.9,1639.5 L1577.9,1646.7 L1581.9,1654.0 L1585.8,1661.3 L1589.8,1668.7 L1593.8,1676.0 L1597.8,1683.2 L1601.7,1690.5 L1605.7,1697.6 L1609.7,1704.6 L1611.7,1708.0 L1613.7,1711.4 L1617.7,1718.1 L1621.6,1724.5 L1625.6,1730.8 L1629.6,1736.9 L1633.6,1742.7 L1637.6,1748.2 L1641.5,1753.5 L1645.5,1758.5 L1649.5,1763.2 L1653.5,1767.5 L1657.4,1771.6 L1661.4,1775.2 L1665.4,1778.5 L1669.4,1781.4 L1673.4,1783.9 L1675.3,1785.0 L1677.3,1786.0 L1681.3,1787.7 L1685.3,1789.0 L1689.3,1789.9 L1693.3,1790.6 L1697.2,1791.0 L1701.2,1791.2 L1705.2,1791.1 L1709.2,1790.9 L1713.1,1790.7 L1717.1,1790.3 L1721.1,1789.9 L1725.1,1789.4 L1729.1,1789.0 L1733.0,1788.7 L1737.0,1788.5 L1741.0,1788.4" stroke="#0000ff" stroke-width="6.4" fill="none" stroke-linejoin="round" stroke-linecap="round"/>
<ellipse cx="1108.4" cy="1980.2" rx="7.3" ry="7.8" fill="#fff" stroke="#ff0000" stroke-width="3"/>
<ellipse cx="1183.7" cy="1966.0" rx="7.3" ry="7.8" fill="#fff" stroke="#ff0000" stroke-width="3"/>
<ellipse cx="1259.8" cy="1921.0" rx="7.3" ry="7.8" fill="#fff" stroke="#ff0000" stroke-width="3"/>
<ellipse cx="1336.3" cy="1808.4" rx="7.3" ry="7.8" fill="#fff" stroke="#ff0000" stroke-width="3"/>
<ellipse cx="1410.5" cy="1630.6" rx="7.3" ry="7.8" fill="#fff" stroke="#ff0000" stroke-width="3"/>
<ellipse cx="1489.3" cy="1529.5" rx="7.3" ry="7.8" fill="#fff" stroke="#ff0000" stroke-width="3"/>
<ellipse cx="1563.0" cy="1602.0" rx="7.3" ry="7.8" fill="#fff" stroke="#ff0000" stroke-width="3"/>
<ellipse cx="1613.0" cy="1707.2" rx="7.3" ry="7.8" fill="#fff" stroke="#ff0000" stroke-width="3"/>
<ellipse cx="1675.9" cy="1782.7" rx="7.3" ry="7.8" fill="#fff" stroke="#ff0000" stroke-width="3"/>
<ellipse cx="1740.0" cy="1788.4" rx="7.3" ry="7.8" fill="#fff" stroke="#ff0000" stroke-width="3"/>
<path d="M1108.4,1980.2 L1112.4,1980.2 L1116.3,1980.0 L1120.3,1979.8 L1124.3,1979.5 L1128.3,1979.1 L1132.2,1978.6 L1136.2,1978.0 L1140.2,1977.3 L1144.2,1976.5 L1148.1,1975.7 L1152.1,1974.7 L1156.1,1973.7 L1160.0,1972.6 L1164.0,1971.4 L1168.0,1970.1 L1172.0,1968.7 L1175.9,1967.2 L1179.9,1965.7 L1183.5,1964.2 L1183.9,1964.0 L1187.8,1962.3 L1191.8,1960.5 L1195.8,1958.6 L1199.8,1956.6 L1203.7,1954.5 L1207.7,1952.3 L1211.7,1950.0 L1215.7,1947.6 L1219.6,1945.1 L1223.6,1942.4 L1227.6,1939.7 L1231.5,1936.8 L1235.5,1933.9 L1239.5,1930.8 L1243.5,1927.6 L1247.4,1924.2 L1251.4,1920.8 L1255.4,1917.2 L1259.3,1913.4 L1259.8,1913.0 L1263.3,1909.6 L1267.3,1905.6 L1271.3,1901.4 L1275.2,1897.1 L1279.2,1892.6 L1283.2,1887.9 L1287.2,1883.0 L1291.1,1878.0 L1295.1,1872.7 L1299.1,1867.2 L1303.0,1861.5 L1307.0,1855.5 L1311.0,1849.3 L1315.0,1842.8 L1318.9,1836.1 L1322.9,1829.1 L1326.9,1821.8 L1330.9,1814.3 L1334.8,1806.4 L1335.8,1804.4 L1338.8,1798.2 L1342.8,1789.7 L1346.7,1781.0 L1350.7,1772.0 L1354.7,1762.9 L1358.7,1753.5 L1362.6,1744.1 L1366.6,1734.5 L1370.6,1724.8 L1374.5,1715.1 L1378.5,1705.4 L1382.5,1695.6 L1386.5,1686.0 L1390.4,1676.3 L1394.4,1666.8 L1398.4,1657.4 L1402.4,1648.2 L1406.3,1639.1 L1410.3,1630.3 L1410.3,1630.3 L1414.3,1621.7 L1418.2,1613.4 L1422.2,1605.4 L1426.2,1597.6 L1430.2,1590.2 L1434.1,1583.1 L1438.1,1576.3 L1442.1,1569.9 L1446.0,1563.9 L1450.0,1558.3 L1454.0,1553.1 L1458.0,1548.3 L1461.9,1544.0 L1465.9,1540.1 L1469.9,1536.7 L1473.9,1533.8 L1477.8,1531.4 L1481.8,1529.5 L1485.8,1528.2 L1489.3,1527.5 L1489.7,1527.4 L1493.7,1527.2 L1497.7,1527.6 L1501.7,1528.5 L1505.6,1530.0 L1509.6,1531.9 L1513.6,1534.4 L1517.5,1537.4 L1521.5,1540.9 L1525.5,1544.8 L1529.5,1549.2 L1533.4,1554.1 L1537.4,1559.4 L1541.4,1565.1 L1545.4,1571.3 L1549.3,1577.9 L1550.0,1579.0 L1553.3,1584.8 L1557.3,1592.1 L1561.2,1599.7 L1565.2,1607.6 L1569.2,1615.7 L1573.2,1624.0 L1577.1,1632.4 L1581.1,1640.9 L1585.1,1649.5 L1589.1,1658.0 L1593.0,1666.5 L1597.0,1675.0 L1601.0,1683.3 L1604.9,1691.4 L1608.9,1699.3 L1612.9,1707.0 L1613.0,1707.2 L1616.9,1714.3 L1620.8,1721.4 L1624.8,1728.1 L1628.8,1734.5 L1632.7,1740.6 L1636.7,1746.3 L1640.7,1751.8 L1644.7,1756.8 L1648.6,1761.5 L1652.6,1765.9 L1656.6,1769.9 L1660.6,1773.5 L1664.5,1776.8 L1668.5,1779.7 L1672.5,1782.2 L1675.3,1783.7 L1676.4,1784.3 L1680.4,1786.0 L1684.4,1787.4 L1688.4,1788.4 L1692.3,1789.2 L1696.3,1789.8 L1700.3,1790.1 L1704.2,1790.2 L1708.2,1790.2 L1712.2,1790.0 L1716.2,1789.8 L1720.1,1789.5 L1724.1,1789.2 L1728.1,1788.9 L1732.1,1788.6 L1736.0,1788.5 L1740.0,1788.4" stroke="#ff0000" stroke-width="6.4" fill="none" stroke-linejoin="round" stroke-linecap="round"/>
</g>
<clipPath id="cif1"><rect x="1550.2" y="1535.0" width="227.0" height="145.6"/></clipPath>
<rect x="1549.7" y="1534.5" width="228.0" height="146.6" fill="#000" stroke="#fff" stroke-width="3"/>
<rect x="1550.2" y="1535.0" width="227.0" height="145.6" fill="#000"/>
<g clip-path="url(#cif1)"><g filter="url(#bl)">
<path d="M1554.2,1593.5 L1777.2,1588.2 M1754.9,1553.1 L1757.7,1675.8" stroke="#b8b8b8" stroke-width="1.15" stroke-dasharray="5 4.4" fill="none"/>
<path d="M1568.1,1553.8 L1586.6,1553.1 M1640.6,1555.2 L1622.8,1553.8 M1717.2,1551.0 L1736.1,1547.7 M1793.9,1546.8 L1774.4,1545.6 M1569.5,1630.0 L1588.0,1630.6 M1643.6,1629.5 L1625.0,1630.3 M1643.6,1629.5 L1662.0,1626.5 M1717.9,1624.5 L1699.1,1624.0 M1717.9,1624.5 L1737.1,1624.2 M1793.9,1623.9 L1775.1,1623.9 M1568.1,1553.8 L1568.1,1572.3 M1569.5,1630.0 L1568.8,1610.4 M1640.6,1555.2 L1640.6,1572.3 M1643.6,1629.5 L1642.1,1609.4 M1717.2,1551.0 L1718.6,1568.8 M1717.9,1624.5 L1719.0,1605.5 M1568.1,1553.8 L1568.2,1533.9 M1640.6,1555.2 L1640.9,1534.6 M1717.2,1551.0 L1716.0,1532.5 M1569.5,1630.0 L1569.1,1647.5 M1569.5,1709.2 L1569.1,1687.0 M1643.6,1629.5 L1645.0,1646.3 M1646.4,1709.2 L1646.4,1686.2 M1717.9,1624.5 L1718.6,1642.4 M1718.9,1709.2 L1719.1,1684.8 M1640.6,1555.2 L1659.7,1554.0 M1717.2,1551.0 L1698.1,1551.9 M1568.1,1553.8 L1548.6,1552.7 M1569.5,1630.0 L1549.3,1629.3" stroke="#7c7c7c" stroke-width="7.60" fill="none"/>
<path d="M1568.1,1553.8 L1586.6,1553.1 M1640.6,1555.2 L1622.8,1553.8 M1717.2,1551.0 L1736.1,1547.7 M1793.9,1546.8 L1774.4,1545.6 M1569.5,1630.0 L1588.0,1630.6 M1643.6,1629.5 L1625.0,1630.3 M1643.6,1629.5 L1662.0,1626.5 M1717.9,1624.5 L1699.1,1624.0 M1717.9,1624.5 L1737.1,1624.2 M1793.9,1623.9 L1775.1,1623.9 M1568.1,1553.8 L1568.1,1572.3 M1569.5,1630.0 L1568.8,1610.4 M1640.6,1555.2 L1640.6,1572.3 M1643.6,1629.5 L1642.1,1609.4 M1717.2,1551.0 L1718.6,1568.8 M1717.9,1624.5 L1719.0,1605.5 M1568.1,1553.8 L1568.2,1533.9 M1640.6,1555.2 L1640.9,1534.6 M1717.2,1551.0 L1716.0,1532.5 M1569.5,1630.0 L1569.1,1647.5 M1569.5,1709.2 L1569.1,1687.0 M1643.6,1629.5 L1645.0,1646.3 M1646.4,1709.2 L1646.4,1686.2 M1717.9,1624.5 L1718.6,1642.4 M1718.9,1709.2 L1719.1,1684.8 M1640.6,1555.2 L1659.7,1554.0 M1717.2,1551.0 L1698.1,1551.9 M1568.1,1553.8 L1548.6,1552.7 M1569.5,1630.0 L1549.3,1629.3" stroke="#c4c4c4" stroke-width="4.18" fill="none"/>
<path d="M1586.6,1553.1 L1605.0,1552.4 M1622.8,1553.8 L1605.0,1552.4 M1736.1,1547.7 L1754.9,1544.4 M1774.4,1545.6 L1754.9,1544.4 M1588.0,1630.6 L1606.4,1631.2 M1625.0,1630.3 L1606.4,1631.2 M1662.0,1626.5 L1680.3,1623.5 M1699.1,1624.0 L1680.3,1623.5 M1737.1,1624.2 L1756.3,1623.9 M1775.1,1623.9 L1756.3,1623.9 M1568.1,1572.3 L1568.1,1590.7 M1568.8,1610.4 L1568.1,1590.7 M1640.6,1572.3 L1640.6,1589.3 M1642.1,1609.4 L1640.6,1589.3 M1718.6,1568.8 L1720.0,1586.5 M1719.0,1605.5 L1720.0,1586.5 M1568.2,1533.9 L1568.4,1514.1 M1640.9,1534.6 L1641.3,1514.1 M1716.0,1532.5 L1714.7,1514.1 M1569.1,1647.5 L1568.8,1664.9 M1569.1,1687.0 L1568.8,1664.9 M1645.0,1646.3 L1646.4,1663.2 M1646.4,1686.2 L1646.4,1663.2 M1718.6,1642.4 L1719.2,1660.4 M1719.1,1684.8 L1719.2,1660.4 M1548.6,1552.7 L1529.1,1551.7 M1549.3,1629.3 L1529.1,1628.6" stroke="#b80000" stroke-width="7.60" fill="none"/>
<path d="M1586.6,1553.1 L1605.0,1552.4 M1622.8,1553.8 L1605.0,1552.4 M1736.1,1547.7 L1754.9,1544.4 M1774.4,1545.6 L1754.9,1544.4 M1588.0,1630.6 L1606.4,1631.2 M1625.0,1630.3 L1606.4,1631.2 M1662.0,1626.5 L1680.3,1623.5 M1699.1,1624.0 L1680.3,1623.5 M1737.1,1624.2 L1756.3,1623.9 M1775.1,1623.9 L1756.3,1623.9 M1568.1,1572.3 L1568.1,1590.7 M1568.8,1610.4 L1568.1,1590.7 M1640.6,1572.3 L1640.6,1589.3 M1642.1,1609.4 L1640.6,1589.3 M1718.6,1568.8 L1720.0,1586.5 M1719.0,1605.5 L1720.0,1586.5 M1568.2,1533.9 L1568.4,1514.1 M1640.9,1534.6 L1641.3,1514.1 M1716.0,1532.5 L1714.7,1514.1 M1569.1,1647.5 L1568.8,1664.9 M1569.1,1687.0 L1568.8,1664.9 M1645.0,1646.3 L1646.4,1663.2 M1646.4,1686.2 L1646.4,1663.2 M1718.6,1642.4 L1719.2,1660.4 M1719.1,1684.8 L1719.2,1660.4 M1548.6,1552.7 L1529.1,1551.7 M1549.3,1629.3 L1529.1,1628.6" stroke="#f80c0c" stroke-width="4.18" fill="none"/>
<path d="M1659.7,1554.0 L1678.9,1552.8 M1698.1,1551.9 L1678.9,1552.8" stroke="#0000b4" stroke-width="7.60" fill="none"/>
<path d="M1659.7,1554.0 L1678.9,1552.8 M1698.1,1551.9 L1678.9,1552.8" stroke="#0c0cf8" stroke-width="4.18" fill="none"/>
<circle cx="1560.4" cy="1559.4" r="4.60" fill="url(#gX)"/>
<circle cx="1648.2" cy="1546.1" r="4.60" fill="url(#gX)"/>
<circle cx="1722.8" cy="1555.2" r="4.60" fill="url(#gX)"/>
<circle cx="1575.8" cy="1622.8" r="4.60" fill="url(#gX)"/>
<circle cx="1712.4" cy="1621.1" r="4.60" fill="url(#gX)"/>
<circle cx="1605.0" cy="1552.4" r="6.60" fill="url(#gO)"/>
<circle cx="1754.9" cy="1544.4" r="6.60" fill="url(#gO)"/>
<circle cx="1606.4" cy="1631.2" r="6.60" fill="url(#gO)"/>
<circle cx="1680.3" cy="1623.5" r="6.60" fill="url(#gO)"/>
<circle cx="1756.3" cy="1623.9" r="6.60" fill="url(#gO)"/>
<circle cx="1568.1" cy="1590.7" r="6.60" fill="url(#gO)"/>
<circle cx="1640.6" cy="1589.3" r="6.60" fill="url(#gO)"/>
<circle cx="1720.0" cy="1586.5" r="6.60" fill="url(#gO)"/>
<circle cx="1568.4" cy="1514.1" r="6.60" fill="url(#gO)"/>
<circle cx="1641.3" cy="1514.1" r="6.60" fill="url(#gO)"/>
<circle cx="1714.7" cy="1514.1" r="6.60" fill="url(#gO)"/>
<circle cx="1568.8" cy="1664.9" r="6.60" fill="url(#gO)"/>
<circle cx="1646.4" cy="1663.2" r="6.60" fill="url(#gO)"/>
<circle cx="1719.2" cy="1660.4" r="6.60" fill="url(#gO)"/>
<circle cx="1568.1" cy="1553.8" r="7.30" fill="url(#gO)" stroke="#200000" stroke-width="0.9"/>
<circle cx="1640.6" cy="1555.2" r="7.30" fill="url(#gO)" stroke="#200000" stroke-width="0.9"/>
<circle cx="1717.2" cy="1551.0" r="7.30" fill="url(#gO)" stroke="#200000" stroke-width="0.9"/>
<circle cx="1569.5" cy="1630.0" r="7.30" fill="url(#gO)" stroke="#200000" stroke-width="0.9"/>
<circle cx="1643.6" cy="1629.5" r="7.30" fill="url(#gO)" stroke="#200000" stroke-width="0.9"/>
<circle cx="1717.9" cy="1624.5" r="7.30" fill="url(#gO)" stroke="#200000" stroke-width="0.9"/>
<circle cx="1678.9" cy="1552.8" r="6.90" fill="url(#gN)"/>
<circle cx="1605.0" cy="1589.1" r="6.90" fill="url(#gLa)"/>
<circle cx="1677.9" cy="1587.9" r="6.90" fill="url(#gLa)"/>
<circle cx="1754.6" cy="1584.9" r="6.90" fill="url(#gLa)"/>
<circle cx="1607.4" cy="1664.6" r="6.90" fill="url(#gLa)"/>
<circle cx="1681.0" cy="1662.1" r="6.90" fill="url(#gLa)"/>
<circle cx="1757.4" cy="1662.1" r="6.90" fill="url(#gLa)"/>
<circle cx="1576.9" cy="1591.8" r="7.00" fill="url(#gLi)"/>
<circle cx="1724.9" cy="1587.7" r="7.00" fill="url(#gLi)"/>
<circle cx="1680.0" cy="1620.7" r="7.00" fill="url(#gLi)"/>
<circle cx="1716.5" cy="1661.8" r="7.00" fill="url(#gLi)"/>
</g></g>
<clipPath id="cif2"><rect x="1275.1" y="1901.7" width="242.6" height="158.0"/></clipPath>
<rect x="1274.6" y="1901.2" width="243.6" height="159.0" fill="#000" stroke="#fff" stroke-width="3"/>
<rect x="1275.1" y="1901.7" width="242.6" height="158.0" fill="#000"/>
<g clip-path="url(#cif2)"><g filter="url(#bl)">
<path d="M1285.1,1963.1 L1516.2,1965.0 M1499.1,1926.7 L1499.1,2057.5" stroke="#b8b8b8" stroke-width="1.15" stroke-dasharray="5 4.4" fill="none"/>
<path d="M1301.4,1921.9 L1320.2,1921.5 M1378.7,1923.0 L1358.9,1922.0 M1459.0,1923.0 L1479.0,1921.5 M1535.5,1921.5 L1517.3,1920.7 M1300.4,2003.2 L1319.5,2005.5 M1379.5,2003.2 L1359.0,2005.5 M1379.5,2003.2 L1398.4,2001.5 M1457.0,2002.5 L1437.2,2001.1 M1457.0,2002.5 L1477.5,2002.3 M1535.5,2003.2 L1516.8,2002.7 M1301.4,1921.9 L1299.6,1941.4 M1300.4,2003.2 L1299.1,1982.1 M1378.7,1923.0 L1377.5,1941.9 M1379.5,2003.2 L1377.8,1982.1 M1459.0,1923.0 L1460.1,1942.7 M1457.0,2002.5 L1459.1,1982.4 M1301.4,1921.9 L1301.2,1900.5 M1378.7,1923.0 L1378.3,1901.1 M1459.0,1923.0 L1458.0,1901.1 M1300.4,2003.2 L1299.0,2021.8 M1295.9,2087.2 L1296.7,2063.8 M1379.5,2003.2 L1379.5,2022.2 M1378.7,2087.2 L1379.1,2064.2 M1457.0,2002.5 L1457.0,2022.2 M1455.0,2087.2 L1456.0,2064.5 M1378.7,1923.0 L1398.3,1923.0 M1459.0,1923.0 L1438.4,1923.0 M1301.4,1921.9 L1277.3,1921.0 M1300.4,2003.2 L1276.8,2002.1" stroke="#7c7c7c" stroke-width="7.60" fill="none"/>
<path d="M1301.4,1921.9 L1320.2,1921.5 M1378.7,1923.0 L1358.9,1922.0 M1459.0,1923.0 L1479.0,1921.5 M1535.5,1921.5 L1517.3,1920.7 M1300.4,2003.2 L1319.5,2005.5 M1379.5,2003.2 L1359.0,2005.5 M1379.5,2003.2 L1398.4,2001.5 M1457.0,2002.5 L1437.2,2001.1 M1457.0,2002.5 L1477.5,2002.3 M1535.5,2003.2 L1516.8,2002.7 M1301.4,1921.9 L1299.6,1941.4 M1300.4,2003.2 L1299.1,1982.1 M1378.7,1923.0 L1377.5,1941.9 M1379.5,2003.2 L1377.8,1982.1 M1459.0,1923.0 L1460.1,1942.7 M1457.0,2002.5 L1459.1,1982.4 M1301.4,1921.9 L1301.2,1900.5 M1378.7,1923.0 L1378.3,1901.1 M1459.0,1923.0 L1458.0,1901.1 M1300.4,2003.2 L1299.0,2021.8 M1295.9,2087.2 L1296.7,2063.8 M1379.5,2003.2 L1379.5,2022.2 M1378.7,2087.2 L1379.1,2064.2 M1457.0,2002.5 L1457.0,2022.2 M1455.0,2087.2 L1456.0,2064.5 M1378.7,1923.0 L1398.3,1923.0 M1459.0,1923.0 L1438.4,1923.0 M1301.4,1921.9 L1277.3,1921.0 M1300.4,2003.2 L1276.8,2002.1" stroke="#c4c4c4" stroke-width="4.18" fill="none"/>
<path d="M1320.2,1921.5 L1339.0,1921.0 M1358.9,1922.0 L1339.0,1921.0 M1479.0,1921.5 L1499.1,1920.0 M1517.3,1920.7 L1499.1,1920.0 M1319.5,2005.5 L1338.6,2007.7 M1359.0,2005.5 L1338.6,2007.7 M1398.4,2001.5 L1417.4,1999.8 M1437.2,2001.1 L1417.4,1999.8 M1477.5,2002.3 L1498.0,2002.2 M1516.8,2002.7 L1498.0,2002.2 M1299.6,1941.4 L1297.7,1960.9 M1299.1,1982.1 L1297.7,1960.9 M1377.5,1941.9 L1376.2,1960.9 M1377.8,1982.1 L1376.2,1960.9 M1460.1,1942.7 L1461.2,1962.4 M1459.1,1982.4 L1461.2,1962.4 M1301.2,1900.5 L1301.0,1879.1 M1378.3,1901.1 L1378.0,1879.1 M1458.0,1901.1 L1457.0,1879.1 M1299.0,2021.8 L1297.5,2040.4 M1296.7,2063.8 L1297.5,2040.4 M1379.5,2022.2 L1379.5,2041.1 M1379.1,2064.2 L1379.5,2041.1 M1457.0,2022.2 L1457.0,2041.9 M1456.0,2064.5 L1457.0,2041.9 M1277.3,1921.0 L1253.1,1920.0 M1276.8,2002.1 L1253.1,2001.0" stroke="#b80000" stroke-width="7.60" fill="none"/>
<path d="M1320.2,1921.5 L1339.0,1921.0 M1358.9,1922.0 L1339.0,1921.0 M1479.0,1921.5 L1499.1,1920.0 M1517.3,1920.7 L1499.1,1920.0 M1319.5,2005.5 L1338.6,2007.7 M1359.0,2005.5 L1338.6,2007.7 M1398.4,2001.5 L1417.4,1999.8 M1437.2,2001.1 L1417.4,1999.8 M1477.5,2002.3 L1498.0,2002.2 M1516.8,2002.7 L1498.0,2002.2 M1299.6,1941.4 L1297.7,1960.9 M1299.1,1982.1 L1297.7,1960.9 M1377.5,1941.9 L1376.2,1960.9 M1377.8,1982.1 L1376.2,1960.9 M1460.1,1942.7 L1461.2,1962.4 M1459.1,1982.4 L1461.2,1962.4 M1301.2,1900.5 L1301.0,1879.1 M1378.3,1901.1 L1378.0,1879.1 M1458.0,1901.1 L1457.0,1879.1 M1299.0,2021.8 L1297.5,2040.4 M1296.7,2063.8 L1297.5,2040.4 M1379.5,2022.2 L1379.5,2041.1 M1379.1,2064.2 L1379.5,2041.1 M1457.0,2022.2 L1457.0,2041.9 M1456.0,2064.5 L1457.0,2041.9 M1277.3,1921.0 L1253.1,1920.0 M1276.8,2002.1 L1253.1,2001.0" stroke="#f80c0c" stroke-width="4.18" fill="none"/>
<path d="M1398.3,1923.0 L1417.8,1923.0 M1438.4,1923.0 L1417.8,1923.0" stroke="#0000b4" stroke-width="7.60" fill="none"/>
<path d="M1398.3,1923.0 L1417.8,1923.0 M1438.4,1923.0 L1417.8,1923.0" stroke="#0c0cf8" stroke-width="4.18" fill="none"/>
<circle cx="1291.0" cy="1927.9" r="4.60" fill="url(#gX)"/>
<circle cx="1384.7" cy="1928.2" r="4.60" fill="url(#gX)"/>
<circle cx="1463.4" cy="1928.9" r="4.60" fill="url(#gX)"/>
<circle cx="1305.9" cy="1995.1" r="4.60" fill="url(#gX)"/>
<circle cx="1370.2" cy="1995.4" r="4.60" fill="url(#gX)"/>
<circle cx="1339.0" cy="1921.0" r="6.60" fill="url(#gO)"/>
<circle cx="1499.1" cy="1920.0" r="6.60" fill="url(#gO)"/>
<circle cx="1338.6" cy="2007.7" r="6.60" fill="url(#gO)"/>
<circle cx="1417.4" cy="1999.8" r="6.60" fill="url(#gO)"/>
<circle cx="1498.0" cy="2002.2" r="6.60" fill="url(#gO)"/>
<circle cx="1297.7" cy="1960.9" r="6.60" fill="url(#gO)"/>
<circle cx="1376.2" cy="1960.9" r="6.60" fill="url(#gO)"/>
<circle cx="1461.2" cy="1962.4" r="6.60" fill="url(#gO)"/>
<circle cx="1301.0" cy="1879.1" r="6.60" fill="url(#gO)"/>
<circle cx="1378.0" cy="1879.1" r="6.60" fill="url(#gO)"/>
<circle cx="1457.0" cy="1879.1" r="6.60" fill="url(#gO)"/>
<circle cx="1297.5" cy="2040.4" r="6.60" fill="url(#gO)"/>
<circle cx="1379.5" cy="2041.1" r="6.60" fill="url(#gO)"/>
<circle cx="1457.0" cy="2041.9" r="6.60" fill="url(#gO)"/>
<circle cx="1301.4" cy="1921.9" r="7.30" fill="url(#gO)" stroke="#200000" stroke-width="0.9"/>
<circle cx="1378.7" cy="1923.0" r="7.30" fill="url(#gO)" stroke="#200000" stroke-width="0.9"/>
<circle cx="1459.0" cy="1923.0" r="7.30" fill="url(#gO)" stroke="#200000" stroke-width="0.9"/>
<circle cx="1300.4" cy="2003.2" r="7.30" fill="url(#gO)" stroke="#200000" stroke-width="0.9"/>
<circle cx="1379.5" cy="2003.2" r="7.30" fill="url(#gO)" stroke="#200000" stroke-width="0.9"/>
<circle cx="1457.0" cy="2002.5" r="7.30" fill="url(#gO)" stroke="#200000" stroke-width="0.9"/>
<circle cx="1417.8" cy="1923.0" r="6.90" fill="url(#gN)"/>
<circle cx="1338.6" cy="1961.2" r="6.90" fill="url(#gLa)"/>
<circle cx="1418.1" cy="1962.4" r="6.90" fill="url(#gLa)"/>
<circle cx="1496.6" cy="1962.7" r="6.90" fill="url(#gLa)"/>
<circle cx="1340.1" cy="2040.4" r="6.90" fill="url(#gLa)"/>
<circle cx="1417.8" cy="2041.1" r="6.90" fill="url(#gLa)"/>
<circle cx="1496.1" cy="2042.6" r="6.90" fill="url(#gLa)"/>
<circle cx="1302.9" cy="1961.6" r="7.00" fill="url(#gLi)"/>
<circle cx="1374.3" cy="1962.1" r="7.00" fill="url(#gLi)"/>
<circle cx="1453.8" cy="1962.1" r="7.00" fill="url(#gLi)"/>
<circle cx="1446.3" cy="2041.1" r="7.00" fill="url(#gLi)"/>
</g></g>
<path d="M1383.2,1971.0 L1410.7,1993.3" stroke="#ffc400" stroke-width="2.40" fill="none" marker-end="url(#ah)"/>
</g>
</svg></body></html>
